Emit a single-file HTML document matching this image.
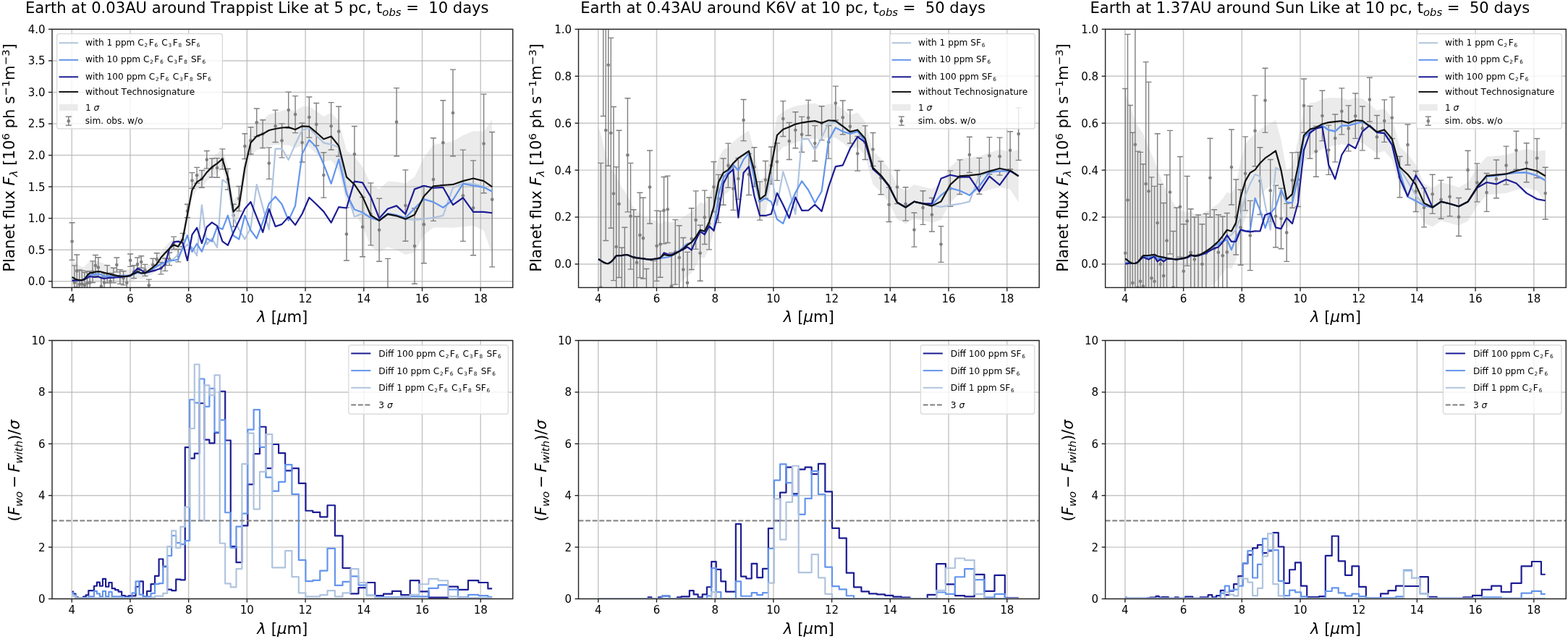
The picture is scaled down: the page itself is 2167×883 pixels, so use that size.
<!DOCTYPE html>
<html><head><meta charset="utf-8"><title>Technosignature spectra</title><style>html,body{margin:0;padding:0;background:#fff;overflow:hidden}svg{display:block;font-kerning:none}</style></head><body>
<svg width="2167" height="883" viewBox="0 0 2167 883" font-family="'DejaVu Sans', 'Liberation Sans', sans-serif" fill="#000">
<rect width="2167" height="883" fill="#fff"/>
<clipPath id="b0"><rect x="72.0" y="40.4" width="636.7" height="357.0"/></clipPath>
<polygon clip-path="url(#b0)" points="99.58,357.07 102.89,361.43 106.27,364.03 109.71,366.97 113.23,368.92 116.81,368.38 120.47,364.31 124.20,361.39 128.01,362.03 131.89,361.20 135.85,361.52 139.89,362.63 144.01,364.28 148.22,365.56 152.51,367.52 156.88,369.82 161.35,371.01 165.90,371.68 170.54,372.24 175.28,372.24 180.12,371.67 185.05,369.37 190.08,366.36 195.21,369.19 200.44,369.45 205.78,365.54 211.23,360.80 216.79,356.22 222.46,347.86 228.24,340.80 234.14,334.71 240.16,329.66 246.30,332.01 252.56,320.95 258.95,287.43 265.47,251.90 272.12,240.67 278.91,235.53 285.83,225.95 292.89,218.03 300.09,212.54 307.44,205.75 314.94,231.00 322.58,277.15 330.38,267.31 338.34,214.55 346.46,178.50 354.74,168.83 363.19,165.79 371.81,158.21 380.61,155.77 389.58,152.99 398.73,150.98 408.07,153.51 417.59,147.33 427.31,146.89 437.22,153.60 447.33,161.08 457.65,155.68 468.17,167.09 478.91,208.02 489.86,216.29 501.04,230.48 512.44,254.51 524.07,261.39 535.93,250.59 548.04,251.29 560.38,253.56 572.98,244.41 585.83,217.68 598.94,200.01 612.32,197.65 625.96,195.13 639.88,187.03 654.08,181.02 668.57,181.81 680.13,164.91 680.13,351.25 668.57,318.51 654.08,311.98 639.88,313.29 625.96,314.77 612.32,314.33 598.94,314.59 585.83,324.78 572.98,348.90 560.38,351.95 548.04,345.33 535.93,341.15 524.07,348.46 512.44,340.54 501.04,312.68 489.86,293.61 478.91,281.16 468.17,235.88 457.65,221.16 447.33,223.43 437.22,212.46 427.31,202.97 417.59,201.31 408.07,204.53 398.73,200.79 389.58,200.01 380.61,200.18 371.81,201.75 363.19,204.45 354.74,207.49 346.46,215.77 338.34,249.38 330.38,301.45 322.58,307.98 314.94,259.74 307.44,233.62 300.09,239.19 292.89,243.98 285.83,250.33 278.91,259.21 272.12,262.44 265.47,273.67 258.95,305.89 252.56,339.41 246.30,349.42 240.16,347.07 234.14,352.12 228.24,358.22 222.46,364.23 216.79,373.12 211.23,378.21 205.78,381.74 200.44,385.47 195.21,385.73 190.08,384.65 185.05,387.13 180.12,389.09 175.28,391.39 170.54,391.39 165.90,391.35 161.35,390.86 156.88,390.37 152.51,390.16 148.22,389.94 144.01,389.53 139.89,388.75 135.85,388.86 131.89,389.93 128.01,391.63 124.20,392.73 120.47,397.40 116.81,403.21 113.23,405.49 109.71,407.02 106.27,408.79 102.89,408.45 99.58,408.62" fill="#ebebeb" stroke="none"/>
<clipPath id="c00"><rect x="72.0" y="40.4" width="636.7" height="357.0"/></clipPath>
<line x1="99.25" y1="40.4" x2="99.25" y2="397.4" stroke="#b0b0b0" stroke-opacity="0.72" stroke-width="1.45"/>
<line x1="179.96" y1="40.4" x2="179.96" y2="397.4" stroke="#b0b0b0" stroke-opacity="0.72" stroke-width="1.45"/>
<line x1="260.66" y1="40.4" x2="260.66" y2="397.4" stroke="#b0b0b0" stroke-opacity="0.72" stroke-width="1.45"/>
<line x1="341.37" y1="40.4" x2="341.37" y2="397.4" stroke="#b0b0b0" stroke-opacity="0.72" stroke-width="1.45"/>
<line x1="422.08" y1="40.4" x2="422.08" y2="397.4" stroke="#b0b0b0" stroke-opacity="0.72" stroke-width="1.45"/>
<line x1="502.78" y1="40.4" x2="502.78" y2="397.4" stroke="#b0b0b0" stroke-opacity="0.72" stroke-width="1.45"/>
<line x1="583.49" y1="40.4" x2="583.49" y2="397.4" stroke="#b0b0b0" stroke-opacity="0.72" stroke-width="1.45"/>
<line x1="664.20" y1="40.4" x2="664.20" y2="397.4" stroke="#b0b0b0" stroke-opacity="0.72" stroke-width="1.45"/>
<line x1="72.0" y1="388.69" x2="708.7" y2="388.69" stroke="#b0b0b0" stroke-opacity="0.72" stroke-width="1.45"/>
<line x1="72.0" y1="345.16" x2="708.7" y2="345.16" stroke="#b0b0b0" stroke-opacity="0.72" stroke-width="1.45"/>
<line x1="72.0" y1="301.62" x2="708.7" y2="301.62" stroke="#b0b0b0" stroke-opacity="0.72" stroke-width="1.45"/>
<line x1="72.0" y1="258.08" x2="708.7" y2="258.08" stroke="#b0b0b0" stroke-opacity="0.72" stroke-width="1.45"/>
<line x1="72.0" y1="214.55" x2="708.7" y2="214.55" stroke="#b0b0b0" stroke-opacity="0.72" stroke-width="1.45"/>
<line x1="72.0" y1="171.01" x2="708.7" y2="171.01" stroke="#b0b0b0" stroke-opacity="0.72" stroke-width="1.45"/>
<line x1="72.0" y1="127.47" x2="708.7" y2="127.47" stroke="#b0b0b0" stroke-opacity="0.72" stroke-width="1.45"/>
<line x1="72.0" y1="83.94" x2="708.7" y2="83.94" stroke="#b0b0b0" stroke-opacity="0.72" stroke-width="1.45"/>
<line x1="72.0" y1="40.40" x2="708.7" y2="40.40" stroke="#b0b0b0" stroke-opacity="0.72" stroke-width="1.45"/>
<g clip-path="url(#c00)">
<line x1="99.58" y1="359.35" x2="99.58" y2="307.80" stroke="#7f7f7f" stroke-width="1.4"/>
<line x1="95.58" y1="359.35" x2="103.58" y2="359.35" stroke="#7f7f7f" stroke-width="1.4"/>
<line x1="95.58" y1="307.80" x2="103.58" y2="307.80" stroke="#7f7f7f" stroke-width="1.4"/>
<circle cx="99.58" cy="333.58" r="2.3" fill="#7f7f7f"/>
<line x1="102.89" y1="413.94" x2="102.89" y2="366.92" stroke="#7f7f7f" stroke-width="1.4"/>
<line x1="98.89" y1="413.94" x2="106.89" y2="413.94" stroke="#7f7f7f" stroke-width="1.4"/>
<line x1="98.89" y1="366.92" x2="106.89" y2="366.92" stroke="#7f7f7f" stroke-width="1.4"/>
<circle cx="102.89" cy="390.43" r="2.3" fill="#7f7f7f"/>
<line x1="106.27" y1="396.79" x2="106.27" y2="352.03" stroke="#7f7f7f" stroke-width="1.4"/>
<line x1="102.27" y1="396.79" x2="110.27" y2="396.79" stroke="#7f7f7f" stroke-width="1.4"/>
<line x1="102.27" y1="352.03" x2="110.27" y2="352.03" stroke="#7f7f7f" stroke-width="1.4"/>
<circle cx="106.27" cy="374.41" r="2.3" fill="#7f7f7f"/>
<line x1="109.71" y1="413.07" x2="109.71" y2="373.02" stroke="#7f7f7f" stroke-width="1.4"/>
<line x1="105.71" y1="413.07" x2="113.71" y2="413.07" stroke="#7f7f7f" stroke-width="1.4"/>
<line x1="105.71" y1="373.02" x2="113.71" y2="373.02" stroke="#7f7f7f" stroke-width="1.4"/>
<circle cx="109.71" cy="393.05" r="2.3" fill="#7f7f7f"/>
<line x1="113.23" y1="410.46" x2="113.23" y2="373.89" stroke="#7f7f7f" stroke-width="1.4"/>
<line x1="109.23" y1="410.46" x2="117.23" y2="410.46" stroke="#7f7f7f" stroke-width="1.4"/>
<line x1="109.23" y1="373.89" x2="117.23" y2="373.89" stroke="#7f7f7f" stroke-width="1.4"/>
<circle cx="113.23" cy="392.18" r="2.3" fill="#7f7f7f"/>
<line x1="116.81" y1="411.33" x2="116.81" y2="376.50" stroke="#7f7f7f" stroke-width="1.4"/>
<line x1="112.81" y1="411.33" x2="120.81" y2="411.33" stroke="#7f7f7f" stroke-width="1.4"/>
<line x1="112.81" y1="376.50" x2="120.81" y2="376.50" stroke="#7f7f7f" stroke-width="1.4"/>
<circle cx="116.81" cy="393.92" r="2.3" fill="#7f7f7f"/>
<line x1="120.47" y1="407.85" x2="120.47" y2="374.76" stroke="#7f7f7f" stroke-width="1.4"/>
<line x1="116.47" y1="407.85" x2="124.47" y2="407.85" stroke="#7f7f7f" stroke-width="1.4"/>
<line x1="116.47" y1="374.76" x2="124.47" y2="374.76" stroke="#7f7f7f" stroke-width="1.4"/>
<circle cx="120.47" cy="391.30" r="2.3" fill="#7f7f7f"/>
<line x1="124.20" y1="406.11" x2="124.20" y2="374.76" stroke="#7f7f7f" stroke-width="1.4"/>
<line x1="120.20" y1="406.11" x2="128.20" y2="406.11" stroke="#7f7f7f" stroke-width="1.4"/>
<line x1="120.20" y1="374.76" x2="128.20" y2="374.76" stroke="#7f7f7f" stroke-width="1.4"/>
<circle cx="124.20" cy="390.43" r="2.3" fill="#7f7f7f"/>
<line x1="128.01" y1="390.43" x2="128.01" y2="360.83" stroke="#7f7f7f" stroke-width="1.4"/>
<line x1="124.01" y1="390.43" x2="132.01" y2="390.43" stroke="#7f7f7f" stroke-width="1.4"/>
<line x1="124.01" y1="360.83" x2="132.01" y2="360.83" stroke="#7f7f7f" stroke-width="1.4"/>
<circle cx="128.01" cy="375.63" r="2.3" fill="#7f7f7f"/>
<line x1="131.89" y1="381.29" x2="131.89" y2="352.56" stroke="#7f7f7f" stroke-width="1.4"/>
<line x1="127.89" y1="381.29" x2="135.89" y2="381.29" stroke="#7f7f7f" stroke-width="1.4"/>
<line x1="127.89" y1="352.56" x2="135.89" y2="352.56" stroke="#7f7f7f" stroke-width="1.4"/>
<circle cx="131.89" cy="366.92" r="2.3" fill="#7f7f7f"/>
<line x1="135.85" y1="383.12" x2="135.85" y2="355.78" stroke="#7f7f7f" stroke-width="1.4"/>
<line x1="131.85" y1="383.12" x2="139.85" y2="383.12" stroke="#7f7f7f" stroke-width="1.4"/>
<line x1="131.85" y1="355.78" x2="139.85" y2="355.78" stroke="#7f7f7f" stroke-width="1.4"/>
<circle cx="135.85" cy="369.45" r="2.3" fill="#7f7f7f"/>
<line x1="139.89" y1="408.72" x2="139.89" y2="382.60" stroke="#7f7f7f" stroke-width="1.4"/>
<line x1="135.89" y1="408.72" x2="143.89" y2="408.72" stroke="#7f7f7f" stroke-width="1.4"/>
<line x1="135.89" y1="382.60" x2="143.89" y2="382.60" stroke="#7f7f7f" stroke-width="1.4"/>
<circle cx="139.89" cy="395.66" r="2.3" fill="#7f7f7f"/>
<line x1="144.01" y1="403.15" x2="144.01" y2="377.90" stroke="#7f7f7f" stroke-width="1.4"/>
<line x1="140.01" y1="403.15" x2="148.01" y2="403.15" stroke="#7f7f7f" stroke-width="1.4"/>
<line x1="140.01" y1="377.90" x2="148.01" y2="377.90" stroke="#7f7f7f" stroke-width="1.4"/>
<circle cx="144.01" cy="390.52" r="2.3" fill="#7f7f7f"/>
<line x1="148.22" y1="390.96" x2="148.22" y2="366.58" stroke="#7f7f7f" stroke-width="1.4"/>
<line x1="144.22" y1="390.96" x2="152.22" y2="390.96" stroke="#7f7f7f" stroke-width="1.4"/>
<line x1="144.22" y1="366.58" x2="152.22" y2="366.58" stroke="#7f7f7f" stroke-width="1.4"/>
<circle cx="148.22" cy="378.77" r="2.3" fill="#7f7f7f"/>
<line x1="152.51" y1="400.01" x2="152.51" y2="377.37" stroke="#7f7f7f" stroke-width="1.4"/>
<line x1="148.51" y1="400.01" x2="156.51" y2="400.01" stroke="#7f7f7f" stroke-width="1.4"/>
<line x1="148.51" y1="377.37" x2="156.51" y2="377.37" stroke="#7f7f7f" stroke-width="1.4"/>
<circle cx="152.51" cy="388.69" r="2.3" fill="#7f7f7f"/>
<line x1="156.88" y1="390.87" x2="156.88" y2="370.32" stroke="#7f7f7f" stroke-width="1.4"/>
<line x1="152.88" y1="390.87" x2="160.88" y2="390.87" stroke="#7f7f7f" stroke-width="1.4"/>
<line x1="152.88" y1="370.32" x2="160.88" y2="370.32" stroke="#7f7f7f" stroke-width="1.4"/>
<circle cx="156.88" cy="380.59" r="2.3" fill="#7f7f7f"/>
<line x1="161.35" y1="375.89" x2="161.35" y2="356.04" stroke="#7f7f7f" stroke-width="1.4"/>
<line x1="157.35" y1="375.89" x2="165.35" y2="375.89" stroke="#7f7f7f" stroke-width="1.4"/>
<line x1="157.35" y1="356.04" x2="165.35" y2="356.04" stroke="#7f7f7f" stroke-width="1.4"/>
<circle cx="161.35" cy="365.97" r="2.3" fill="#7f7f7f"/>
<line x1="165.90" y1="392.35" x2="165.90" y2="372.67" stroke="#7f7f7f" stroke-width="1.4"/>
<line x1="161.90" y1="392.35" x2="169.90" y2="392.35" stroke="#7f7f7f" stroke-width="1.4"/>
<line x1="161.90" y1="372.67" x2="169.90" y2="372.67" stroke="#7f7f7f" stroke-width="1.4"/>
<circle cx="165.90" cy="382.51" r="2.3" fill="#7f7f7f"/>
<line x1="170.54" y1="393.92" x2="170.54" y2="374.76" stroke="#7f7f7f" stroke-width="1.4"/>
<line x1="166.54" y1="393.92" x2="174.54" y2="393.92" stroke="#7f7f7f" stroke-width="1.4"/>
<line x1="166.54" y1="374.76" x2="174.54" y2="374.76" stroke="#7f7f7f" stroke-width="1.4"/>
<circle cx="170.54" cy="384.34" r="2.3" fill="#7f7f7f"/>
<line x1="175.28" y1="400.36" x2="175.28" y2="381.20" stroke="#7f7f7f" stroke-width="1.4"/>
<line x1="171.28" y1="400.36" x2="179.28" y2="400.36" stroke="#7f7f7f" stroke-width="1.4"/>
<line x1="171.28" y1="381.20" x2="179.28" y2="381.20" stroke="#7f7f7f" stroke-width="1.4"/>
<circle cx="175.28" cy="390.78" r="2.3" fill="#7f7f7f"/>
<line x1="180.12" y1="368.40" x2="180.12" y2="350.99" stroke="#7f7f7f" stroke-width="1.4"/>
<line x1="176.12" y1="368.40" x2="184.12" y2="368.40" stroke="#7f7f7f" stroke-width="1.4"/>
<line x1="176.12" y1="350.99" x2="184.12" y2="350.99" stroke="#7f7f7f" stroke-width="1.4"/>
<circle cx="180.12" cy="359.70" r="2.3" fill="#7f7f7f"/>
<line x1="185.05" y1="384.51" x2="185.05" y2="366.75" stroke="#7f7f7f" stroke-width="1.4"/>
<line x1="181.05" y1="384.51" x2="189.05" y2="384.51" stroke="#7f7f7f" stroke-width="1.4"/>
<line x1="181.05" y1="366.75" x2="189.05" y2="366.75" stroke="#7f7f7f" stroke-width="1.4"/>
<circle cx="185.05" cy="375.63" r="2.3" fill="#7f7f7f"/>
<line x1="190.08" y1="374.24" x2="190.08" y2="355.95" stroke="#7f7f7f" stroke-width="1.4"/>
<line x1="186.08" y1="374.24" x2="194.08" y2="374.24" stroke="#7f7f7f" stroke-width="1.4"/>
<line x1="186.08" y1="355.95" x2="194.08" y2="355.95" stroke="#7f7f7f" stroke-width="1.4"/>
<circle cx="190.08" cy="365.10" r="2.3" fill="#7f7f7f"/>
<line x1="195.21" y1="370.23" x2="195.21" y2="353.69" stroke="#7f7f7f" stroke-width="1.4"/>
<line x1="191.21" y1="370.23" x2="199.21" y2="370.23" stroke="#7f7f7f" stroke-width="1.4"/>
<line x1="191.21" y1="353.69" x2="199.21" y2="353.69" stroke="#7f7f7f" stroke-width="1.4"/>
<circle cx="195.21" cy="361.96" r="2.3" fill="#7f7f7f"/>
<line x1="200.44" y1="381.38" x2="200.44" y2="365.36" stroke="#7f7f7f" stroke-width="1.4"/>
<line x1="196.44" y1="381.38" x2="204.44" y2="381.38" stroke="#7f7f7f" stroke-width="1.4"/>
<line x1="196.44" y1="365.36" x2="204.44" y2="365.36" stroke="#7f7f7f" stroke-width="1.4"/>
<circle cx="200.44" cy="373.37" r="2.3" fill="#7f7f7f"/>
<line x1="205.78" y1="402.36" x2="205.78" y2="386.17" stroke="#7f7f7f" stroke-width="1.4"/>
<line x1="201.78" y1="402.36" x2="209.78" y2="402.36" stroke="#7f7f7f" stroke-width="1.4"/>
<line x1="201.78" y1="386.17" x2="209.78" y2="386.17" stroke="#7f7f7f" stroke-width="1.4"/>
<circle cx="205.78" cy="394.27" r="2.3" fill="#7f7f7f"/>
<line x1="211.23" y1="374.67" x2="211.23" y2="357.26" stroke="#7f7f7f" stroke-width="1.4"/>
<line x1="207.23" y1="374.67" x2="215.23" y2="374.67" stroke="#7f7f7f" stroke-width="1.4"/>
<line x1="207.23" y1="357.26" x2="215.23" y2="357.26" stroke="#7f7f7f" stroke-width="1.4"/>
<circle cx="211.23" cy="365.97" r="2.3" fill="#7f7f7f"/>
<line x1="216.79" y1="366.66" x2="216.79" y2="349.77" stroke="#7f7f7f" stroke-width="1.4"/>
<line x1="212.79" y1="366.66" x2="220.79" y2="366.66" stroke="#7f7f7f" stroke-width="1.4"/>
<line x1="212.79" y1="349.77" x2="220.79" y2="349.77" stroke="#7f7f7f" stroke-width="1.4"/>
<circle cx="216.79" cy="358.22" r="2.3" fill="#7f7f7f"/>
<line x1="222.46" y1="378.85" x2="222.46" y2="362.48" stroke="#7f7f7f" stroke-width="1.4"/>
<line x1="218.46" y1="378.85" x2="226.46" y2="378.85" stroke="#7f7f7f" stroke-width="1.4"/>
<line x1="218.46" y1="362.48" x2="226.46" y2="362.48" stroke="#7f7f7f" stroke-width="1.4"/>
<circle cx="222.46" cy="370.67" r="2.3" fill="#7f7f7f"/>
<line x1="228.24" y1="374.41" x2="228.24" y2="357.00" stroke="#7f7f7f" stroke-width="1.4"/>
<line x1="224.24" y1="374.41" x2="232.24" y2="374.41" stroke="#7f7f7f" stroke-width="1.4"/>
<line x1="224.24" y1="357.00" x2="232.24" y2="357.00" stroke="#7f7f7f" stroke-width="1.4"/>
<circle cx="228.24" cy="365.71" r="2.3" fill="#7f7f7f"/>
<line x1="234.14" y1="366.66" x2="234.14" y2="349.25" stroke="#7f7f7f" stroke-width="1.4"/>
<line x1="230.14" y1="366.66" x2="238.14" y2="366.66" stroke="#7f7f7f" stroke-width="1.4"/>
<line x1="230.14" y1="349.25" x2="238.14" y2="349.25" stroke="#7f7f7f" stroke-width="1.4"/>
<circle cx="234.14" cy="357.96" r="2.3" fill="#7f7f7f"/>
<line x1="240.16" y1="344.55" x2="240.16" y2="327.13" stroke="#7f7f7f" stroke-width="1.4"/>
<line x1="236.16" y1="344.55" x2="244.16" y2="344.55" stroke="#7f7f7f" stroke-width="1.4"/>
<line x1="236.16" y1="327.13" x2="244.16" y2="327.13" stroke="#7f7f7f" stroke-width="1.4"/>
<circle cx="240.16" cy="335.84" r="2.3" fill="#7f7f7f"/>
<line x1="246.30" y1="361.87" x2="246.30" y2="344.46" stroke="#7f7f7f" stroke-width="1.4"/>
<line x1="242.30" y1="361.87" x2="250.30" y2="361.87" stroke="#7f7f7f" stroke-width="1.4"/>
<line x1="242.30" y1="344.46" x2="250.30" y2="344.46" stroke="#7f7f7f" stroke-width="1.4"/>
<circle cx="246.30" cy="353.17" r="2.3" fill="#7f7f7f"/>
<line x1="252.56" y1="340.80" x2="252.56" y2="322.34" stroke="#7f7f7f" stroke-width="1.4"/>
<line x1="248.56" y1="340.80" x2="256.56" y2="340.80" stroke="#7f7f7f" stroke-width="1.4"/>
<line x1="248.56" y1="322.34" x2="256.56" y2="322.34" stroke="#7f7f7f" stroke-width="1.4"/>
<circle cx="252.56" cy="331.57" r="2.3" fill="#7f7f7f"/>
<line x1="258.95" y1="300.75" x2="258.95" y2="282.29" stroke="#7f7f7f" stroke-width="1.4"/>
<line x1="254.95" y1="300.75" x2="262.95" y2="300.75" stroke="#7f7f7f" stroke-width="1.4"/>
<line x1="254.95" y1="282.29" x2="262.95" y2="282.29" stroke="#7f7f7f" stroke-width="1.4"/>
<circle cx="258.95" cy="291.52" r="2.3" fill="#7f7f7f"/>
<line x1="265.47" y1="260.35" x2="265.47" y2="238.58" stroke="#7f7f7f" stroke-width="1.4"/>
<line x1="261.47" y1="260.35" x2="269.47" y2="260.35" stroke="#7f7f7f" stroke-width="1.4"/>
<line x1="261.47" y1="238.58" x2="269.47" y2="238.58" stroke="#7f7f7f" stroke-width="1.4"/>
<circle cx="265.47" cy="249.46" r="2.3" fill="#7f7f7f"/>
<line x1="272.12" y1="253.12" x2="272.12" y2="231.35" stroke="#7f7f7f" stroke-width="1.4"/>
<line x1="268.12" y1="253.12" x2="276.12" y2="253.12" stroke="#7f7f7f" stroke-width="1.4"/>
<line x1="268.12" y1="231.35" x2="276.12" y2="231.35" stroke="#7f7f7f" stroke-width="1.4"/>
<circle cx="272.12" cy="242.24" r="2.3" fill="#7f7f7f"/>
<line x1="278.91" y1="259.21" x2="278.91" y2="235.53" stroke="#7f7f7f" stroke-width="1.4"/>
<line x1="274.91" y1="259.21" x2="282.91" y2="259.21" stroke="#7f7f7f" stroke-width="1.4"/>
<line x1="274.91" y1="235.53" x2="282.91" y2="235.53" stroke="#7f7f7f" stroke-width="1.4"/>
<circle cx="278.91" cy="247.37" r="2.3" fill="#7f7f7f"/>
<line x1="285.83" y1="232.83" x2="285.83" y2="208.45" stroke="#7f7f7f" stroke-width="1.4"/>
<line x1="281.83" y1="232.83" x2="289.83" y2="232.83" stroke="#7f7f7f" stroke-width="1.4"/>
<line x1="281.83" y1="208.45" x2="289.83" y2="208.45" stroke="#7f7f7f" stroke-width="1.4"/>
<circle cx="285.83" cy="220.64" r="2.3" fill="#7f7f7f"/>
<line x1="292.89" y1="244.93" x2="292.89" y2="218.99" stroke="#7f7f7f" stroke-width="1.4"/>
<line x1="288.89" y1="244.93" x2="296.89" y2="244.93" stroke="#7f7f7f" stroke-width="1.4"/>
<line x1="288.89" y1="218.99" x2="296.89" y2="218.99" stroke="#7f7f7f" stroke-width="1.4"/>
<circle cx="292.89" cy="231.96" r="2.3" fill="#7f7f7f"/>
<line x1="300.09" y1="245.28" x2="300.09" y2="218.64" stroke="#7f7f7f" stroke-width="1.4"/>
<line x1="296.09" y1="245.28" x2="304.09" y2="245.28" stroke="#7f7f7f" stroke-width="1.4"/>
<line x1="296.09" y1="218.64" x2="304.09" y2="218.64" stroke="#7f7f7f" stroke-width="1.4"/>
<circle cx="300.09" cy="231.96" r="2.3" fill="#7f7f7f"/>
<line x1="307.44" y1="233.70" x2="307.44" y2="205.84" stroke="#7f7f7f" stroke-width="1.4"/>
<line x1="303.44" y1="233.70" x2="311.44" y2="233.70" stroke="#7f7f7f" stroke-width="1.4"/>
<line x1="303.44" y1="205.84" x2="311.44" y2="205.84" stroke="#7f7f7f" stroke-width="1.4"/>
<circle cx="307.44" cy="219.77" r="2.3" fill="#7f7f7f"/>
<line x1="314.94" y1="262.00" x2="314.94" y2="233.27" stroke="#7f7f7f" stroke-width="1.4"/>
<line x1="310.94" y1="262.00" x2="318.94" y2="262.00" stroke="#7f7f7f" stroke-width="1.4"/>
<line x1="310.94" y1="233.27" x2="318.94" y2="233.27" stroke="#7f7f7f" stroke-width="1.4"/>
<circle cx="314.94" cy="247.63" r="2.3" fill="#7f7f7f"/>
<line x1="322.58" y1="313.11" x2="322.58" y2="282.29" stroke="#7f7f7f" stroke-width="1.4"/>
<line x1="318.58" y1="313.11" x2="326.58" y2="313.11" stroke="#7f7f7f" stroke-width="1.4"/>
<line x1="318.58" y1="282.29" x2="326.58" y2="282.29" stroke="#7f7f7f" stroke-width="1.4"/>
<circle cx="322.58" cy="297.70" r="2.3" fill="#7f7f7f"/>
<line x1="330.38" y1="291.61" x2="330.38" y2="257.47" stroke="#7f7f7f" stroke-width="1.4"/>
<line x1="326.38" y1="291.61" x2="334.38" y2="291.61" stroke="#7f7f7f" stroke-width="1.4"/>
<line x1="326.38" y1="257.47" x2="334.38" y2="257.47" stroke="#7f7f7f" stroke-width="1.4"/>
<circle cx="330.38" cy="274.54" r="2.3" fill="#7f7f7f"/>
<line x1="338.34" y1="219.51" x2="338.34" y2="184.68" stroke="#7f7f7f" stroke-width="1.4"/>
<line x1="334.34" y1="219.51" x2="342.34" y2="219.51" stroke="#7f7f7f" stroke-width="1.4"/>
<line x1="334.34" y1="184.68" x2="342.34" y2="184.68" stroke="#7f7f7f" stroke-width="1.4"/>
<circle cx="338.34" cy="202.09" r="2.3" fill="#7f7f7f"/>
<line x1="346.46" y1="212.98" x2="346.46" y2="175.71" stroke="#7f7f7f" stroke-width="1.4"/>
<line x1="342.46" y1="212.98" x2="350.46" y2="212.98" stroke="#7f7f7f" stroke-width="1.4"/>
<line x1="342.46" y1="175.71" x2="350.46" y2="175.71" stroke="#7f7f7f" stroke-width="1.4"/>
<circle cx="346.46" cy="194.35" r="2.3" fill="#7f7f7f"/>
<line x1="354.74" y1="188.69" x2="354.74" y2="150.03" stroke="#7f7f7f" stroke-width="1.4"/>
<line x1="350.74" y1="188.69" x2="358.74" y2="188.69" stroke="#7f7f7f" stroke-width="1.4"/>
<line x1="350.74" y1="150.03" x2="358.74" y2="150.03" stroke="#7f7f7f" stroke-width="1.4"/>
<circle cx="354.74" cy="169.36" r="2.3" fill="#7f7f7f"/>
<line x1="363.19" y1="204.45" x2="363.19" y2="165.79" stroke="#7f7f7f" stroke-width="1.4"/>
<line x1="359.19" y1="204.45" x2="367.19" y2="204.45" stroke="#7f7f7f" stroke-width="1.4"/>
<line x1="359.19" y1="165.79" x2="367.19" y2="165.79" stroke="#7f7f7f" stroke-width="1.4"/>
<circle cx="363.19" cy="185.12" r="2.3" fill="#7f7f7f"/>
<line x1="371.81" y1="247.37" x2="371.81" y2="203.84" stroke="#7f7f7f" stroke-width="1.4"/>
<line x1="367.81" y1="247.37" x2="375.81" y2="247.37" stroke="#7f7f7f" stroke-width="1.4"/>
<line x1="367.81" y1="203.84" x2="375.81" y2="203.84" stroke="#7f7f7f" stroke-width="1.4"/>
<circle cx="371.81" cy="225.60" r="2.3" fill="#7f7f7f"/>
<line x1="380.61" y1="196.52" x2="380.61" y2="152.11" stroke="#7f7f7f" stroke-width="1.4"/>
<line x1="376.61" y1="196.52" x2="384.61" y2="196.52" stroke="#7f7f7f" stroke-width="1.4"/>
<line x1="376.61" y1="152.11" x2="384.61" y2="152.11" stroke="#7f7f7f" stroke-width="1.4"/>
<circle cx="380.61" cy="174.32" r="2.3" fill="#7f7f7f"/>
<line x1="389.58" y1="217.86" x2="389.58" y2="170.84" stroke="#7f7f7f" stroke-width="1.4"/>
<line x1="385.58" y1="217.86" x2="393.58" y2="217.86" stroke="#7f7f7f" stroke-width="1.4"/>
<line x1="385.58" y1="170.84" x2="393.58" y2="170.84" stroke="#7f7f7f" stroke-width="1.4"/>
<circle cx="389.58" cy="194.35" r="2.3" fill="#7f7f7f"/>
<line x1="398.73" y1="176.93" x2="398.73" y2="127.12" stroke="#7f7f7f" stroke-width="1.4"/>
<line x1="394.73" y1="176.93" x2="402.73" y2="176.93" stroke="#7f7f7f" stroke-width="1.4"/>
<line x1="394.73" y1="127.12" x2="402.73" y2="127.12" stroke="#7f7f7f" stroke-width="1.4"/>
<circle cx="398.73" cy="152.03" r="2.3" fill="#7f7f7f"/>
<line x1="408.07" y1="183.64" x2="408.07" y2="132.61" stroke="#7f7f7f" stroke-width="1.4"/>
<line x1="404.07" y1="183.64" x2="412.07" y2="183.64" stroke="#7f7f7f" stroke-width="1.4"/>
<line x1="404.07" y1="132.61" x2="412.07" y2="132.61" stroke="#7f7f7f" stroke-width="1.4"/>
<circle cx="408.07" cy="158.12" r="2.3" fill="#7f7f7f"/>
<line x1="417.59" y1="223.95" x2="417.59" y2="169.96" stroke="#7f7f7f" stroke-width="1.4"/>
<line x1="413.59" y1="223.95" x2="421.59" y2="223.95" stroke="#7f7f7f" stroke-width="1.4"/>
<line x1="413.59" y1="169.96" x2="421.59" y2="169.96" stroke="#7f7f7f" stroke-width="1.4"/>
<circle cx="417.59" cy="196.96" r="2.3" fill="#7f7f7f"/>
<line x1="427.31" y1="190.08" x2="427.31" y2="134.00" stroke="#7f7f7f" stroke-width="1.4"/>
<line x1="423.31" y1="190.08" x2="431.31" y2="190.08" stroke="#7f7f7f" stroke-width="1.4"/>
<line x1="423.31" y1="134.00" x2="431.31" y2="134.00" stroke="#7f7f7f" stroke-width="1.4"/>
<circle cx="427.31" cy="162.04" r="2.3" fill="#7f7f7f"/>
<line x1="437.22" y1="201.31" x2="437.22" y2="142.45" stroke="#7f7f7f" stroke-width="1.4"/>
<line x1="433.22" y1="201.31" x2="441.22" y2="201.31" stroke="#7f7f7f" stroke-width="1.4"/>
<line x1="433.22" y1="142.45" x2="441.22" y2="142.45" stroke="#7f7f7f" stroke-width="1.4"/>
<circle cx="437.22" cy="171.88" r="2.3" fill="#7f7f7f"/>
<line x1="447.33" y1="273.15" x2="447.33" y2="210.80" stroke="#7f7f7f" stroke-width="1.4"/>
<line x1="443.33" y1="273.15" x2="451.33" y2="273.15" stroke="#7f7f7f" stroke-width="1.4"/>
<line x1="443.33" y1="210.80" x2="451.33" y2="210.80" stroke="#7f7f7f" stroke-width="1.4"/>
<circle cx="447.33" cy="241.97" r="2.3" fill="#7f7f7f"/>
<line x1="457.65" y1="207.06" x2="457.65" y2="141.58" stroke="#7f7f7f" stroke-width="1.4"/>
<line x1="453.65" y1="207.06" x2="461.65" y2="207.06" stroke="#7f7f7f" stroke-width="1.4"/>
<line x1="453.65" y1="141.58" x2="461.65" y2="141.58" stroke="#7f7f7f" stroke-width="1.4"/>
<circle cx="457.65" cy="174.32" r="2.3" fill="#7f7f7f"/>
<line x1="468.17" y1="216.03" x2="468.17" y2="147.24" stroke="#7f7f7f" stroke-width="1.4"/>
<line x1="464.17" y1="216.03" x2="472.17" y2="216.03" stroke="#7f7f7f" stroke-width="1.4"/>
<line x1="464.17" y1="147.24" x2="472.17" y2="147.24" stroke="#7f7f7f" stroke-width="1.4"/>
<circle cx="468.17" cy="181.63" r="2.3" fill="#7f7f7f"/>
<line x1="478.91" y1="360.05" x2="478.91" y2="286.90" stroke="#7f7f7f" stroke-width="1.4"/>
<line x1="474.91" y1="360.05" x2="482.91" y2="360.05" stroke="#7f7f7f" stroke-width="1.4"/>
<line x1="474.91" y1="286.90" x2="482.91" y2="286.90" stroke="#7f7f7f" stroke-width="1.4"/>
<circle cx="478.91" cy="323.47" r="2.3" fill="#7f7f7f"/>
<line x1="489.86" y1="251.81" x2="489.86" y2="174.49" stroke="#7f7f7f" stroke-width="1.4"/>
<line x1="485.86" y1="251.81" x2="493.86" y2="251.81" stroke="#7f7f7f" stroke-width="1.4"/>
<line x1="485.86" y1="174.49" x2="493.86" y2="174.49" stroke="#7f7f7f" stroke-width="1.4"/>
<circle cx="489.86" cy="213.15" r="2.3" fill="#7f7f7f"/>
<line x1="501.04" y1="354.73" x2="501.04" y2="272.54" stroke="#7f7f7f" stroke-width="1.4"/>
<line x1="497.04" y1="354.73" x2="505.04" y2="354.73" stroke="#7f7f7f" stroke-width="1.4"/>
<line x1="497.04" y1="272.54" x2="505.04" y2="272.54" stroke="#7f7f7f" stroke-width="1.4"/>
<circle cx="501.04" cy="313.64" r="2.3" fill="#7f7f7f"/>
<line x1="512.44" y1="338.89" x2="512.44" y2="252.86" stroke="#7f7f7f" stroke-width="1.4"/>
<line x1="508.44" y1="338.89" x2="516.44" y2="338.89" stroke="#7f7f7f" stroke-width="1.4"/>
<line x1="508.44" y1="252.86" x2="516.44" y2="252.86" stroke="#7f7f7f" stroke-width="1.4"/>
<circle cx="512.44" cy="295.87" r="2.3" fill="#7f7f7f"/>
<line x1="524.07" y1="361.26" x2="524.07" y2="274.19" stroke="#7f7f7f" stroke-width="1.4"/>
<line x1="520.07" y1="361.26" x2="528.07" y2="361.26" stroke="#7f7f7f" stroke-width="1.4"/>
<line x1="520.07" y1="274.19" x2="528.07" y2="274.19" stroke="#7f7f7f" stroke-width="1.4"/>
<circle cx="524.07" cy="317.73" r="2.3" fill="#7f7f7f"/>
<line x1="535.93" y1="447.90" x2="535.93" y2="357.35" stroke="#7f7f7f" stroke-width="1.4"/>
<line x1="531.93" y1="447.90" x2="539.93" y2="447.90" stroke="#7f7f7f" stroke-width="1.4"/>
<line x1="531.93" y1="357.35" x2="539.93" y2="357.35" stroke="#7f7f7f" stroke-width="1.4"/>
<circle cx="535.93" cy="402.62" r="2.3" fill="#7f7f7f"/>
<line x1="548.04" y1="215.68" x2="548.04" y2="121.64" stroke="#7f7f7f" stroke-width="1.4"/>
<line x1="544.04" y1="215.68" x2="552.04" y2="215.68" stroke="#7f7f7f" stroke-width="1.4"/>
<line x1="544.04" y1="121.64" x2="552.04" y2="121.64" stroke="#7f7f7f" stroke-width="1.4"/>
<circle cx="548.04" cy="168.66" r="2.3" fill="#7f7f7f"/>
<line x1="560.38" y1="333.23" x2="560.38" y2="234.83" stroke="#7f7f7f" stroke-width="1.4"/>
<line x1="556.38" y1="333.23" x2="564.38" y2="333.23" stroke="#7f7f7f" stroke-width="1.4"/>
<line x1="556.38" y1="234.83" x2="564.38" y2="234.83" stroke="#7f7f7f" stroke-width="1.4"/>
<circle cx="560.38" cy="284.03" r="2.3" fill="#7f7f7f"/>
<line x1="572.98" y1="392.18" x2="572.98" y2="287.69" stroke="#7f7f7f" stroke-width="1.4"/>
<line x1="568.98" y1="392.18" x2="576.98" y2="392.18" stroke="#7f7f7f" stroke-width="1.4"/>
<line x1="568.98" y1="287.69" x2="576.98" y2="287.69" stroke="#7f7f7f" stroke-width="1.4"/>
<circle cx="572.98" cy="339.93" r="2.3" fill="#7f7f7f"/>
<line x1="585.83" y1="363.70" x2="585.83" y2="256.60" stroke="#7f7f7f" stroke-width="1.4"/>
<line x1="581.83" y1="363.70" x2="589.83" y2="363.70" stroke="#7f7f7f" stroke-width="1.4"/>
<line x1="581.83" y1="256.60" x2="589.83" y2="256.60" stroke="#7f7f7f" stroke-width="1.4"/>
<circle cx="585.83" cy="310.15" r="2.3" fill="#7f7f7f"/>
<line x1="598.94" y1="305.36" x2="598.94" y2="190.78" stroke="#7f7f7f" stroke-width="1.4"/>
<line x1="594.94" y1="305.36" x2="602.94" y2="305.36" stroke="#7f7f7f" stroke-width="1.4"/>
<line x1="594.94" y1="190.78" x2="602.94" y2="190.78" stroke="#7f7f7f" stroke-width="1.4"/>
<circle cx="598.94" cy="248.07" r="2.3" fill="#7f7f7f"/>
<line x1="612.32" y1="255.47" x2="612.32" y2="138.79" stroke="#7f7f7f" stroke-width="1.4"/>
<line x1="608.32" y1="255.47" x2="616.32" y2="255.47" stroke="#7f7f7f" stroke-width="1.4"/>
<line x1="608.32" y1="138.79" x2="616.32" y2="138.79" stroke="#7f7f7f" stroke-width="1.4"/>
<circle cx="612.32" cy="197.13" r="2.3" fill="#7f7f7f"/>
<line x1="625.96" y1="215.77" x2="625.96" y2="96.13" stroke="#7f7f7f" stroke-width="1.4"/>
<line x1="621.96" y1="215.77" x2="629.96" y2="215.77" stroke="#7f7f7f" stroke-width="1.4"/>
<line x1="621.96" y1="96.13" x2="629.96" y2="96.13" stroke="#7f7f7f" stroke-width="1.4"/>
<circle cx="625.96" cy="155.95" r="2.3" fill="#7f7f7f"/>
<line x1="639.88" y1="333.40" x2="639.88" y2="207.15" stroke="#7f7f7f" stroke-width="1.4"/>
<line x1="635.88" y1="333.40" x2="643.88" y2="333.40" stroke="#7f7f7f" stroke-width="1.4"/>
<line x1="635.88" y1="207.15" x2="643.88" y2="207.15" stroke="#7f7f7f" stroke-width="1.4"/>
<circle cx="639.88" cy="270.27" r="2.3" fill="#7f7f7f"/>
<line x1="654.08" y1="352.82" x2="654.08" y2="221.86" stroke="#7f7f7f" stroke-width="1.4"/>
<line x1="650.08" y1="352.82" x2="658.08" y2="352.82" stroke="#7f7f7f" stroke-width="1.4"/>
<line x1="650.08" y1="221.86" x2="658.08" y2="221.86" stroke="#7f7f7f" stroke-width="1.4"/>
<circle cx="654.08" cy="287.34" r="2.3" fill="#7f7f7f"/>
<line x1="668.57" y1="266.79" x2="668.57" y2="130.09" stroke="#7f7f7f" stroke-width="1.4"/>
<line x1="664.57" y1="266.79" x2="672.57" y2="266.79" stroke="#7f7f7f" stroke-width="1.4"/>
<line x1="664.57" y1="130.09" x2="672.57" y2="130.09" stroke="#7f7f7f" stroke-width="1.4"/>
<circle cx="668.57" cy="198.44" r="2.3" fill="#7f7f7f"/>
<line x1="680.13" y1="368.84" x2="680.13" y2="182.50" stroke="#7f7f7f" stroke-width="1.4"/>
<line x1="676.13" y1="368.84" x2="684.13" y2="368.84" stroke="#7f7f7f" stroke-width="1.4"/>
<line x1="676.13" y1="182.50" x2="684.13" y2="182.50" stroke="#7f7f7f" stroke-width="1.4"/>
<circle cx="680.13" cy="275.67" r="2.3" fill="#7f7f7f"/>
<polyline points="99.58,387.01 102.89,387.13 106.27,387.25 109.71,387.37 113.23,387.01 116.81,384.62 120.47,382.17 124.20,380.29 128.01,379.83 131.89,379.37 135.85,378.90 139.89,379.79 144.01,381.72 148.22,381.62 152.51,381.52 156.88,381.42 161.35,381.32 165.90,381.22 170.54,381.11 175.28,381.00 180.12,380.89 185.05,378.81 190.08,376.58 195.21,377.03 200.44,376.75 205.78,374.00 211.23,371.18 216.79,368.31 222.46,366.04 228.24,364.31 234.14,362.40 240.16,357.35 246.30,352.12 252.56,345.16 258.95,337.75 265.47,341.85 272.12,353.17 278.91,283.33 285.83,337.75 292.89,329.57 300.09,341.85 307.44,248.42 314.94,253.56 322.58,300.75 330.38,317.29 338.34,330.61 346.46,315.20 354.74,255.04 363.19,286.38 371.81,317.12 380.61,205.58 389.58,205.58 398.73,220.90 408.07,199.40 417.59,179.63 427.31,176.93 437.22,187.12 447.33,197.39 457.65,199.57 468.17,203.49 478.91,263.83 489.86,299.44 501.04,295.09 512.44,301.10 524.07,304.93 535.93,296.66 548.04,298.31 560.38,302.75 572.98,303.80 585.83,302.40 598.94,300.84 612.32,297.88 625.96,259.39 639.88,253.29 654.08,253.73 668.57,258.08 680.13,265.05" fill="none" stroke="#b0c4de" stroke-width="2.2" stroke-linejoin="round" stroke-linecap="butt" />
<polyline points="99.58,386.93 102.89,387.07 106.27,387.21 109.71,387.36 113.23,386.99 116.81,384.44 120.47,381.84 124.20,379.85 128.01,379.37 131.89,378.88 135.85,378.39 139.89,379.49 144.01,381.81 148.22,381.67 152.51,381.53 156.88,381.39 161.35,381.24 165.90,381.10 170.54,380.95 175.28,380.79 180.12,380.64 185.05,378.83 190.08,376.97 195.21,377.64 200.44,377.50 205.78,374.60 211.23,371.63 216.79,368.00 222.46,364.55 228.24,362.57 234.14,359.96 240.16,359.96 246.30,358.30 252.56,341.85 258.95,325.04 265.47,348.03 272.12,336.71 278.91,347.59 285.83,329.57 292.89,333.66 300.09,313.55 307.44,316.86 314.94,297.70 322.58,325.48 330.38,330.61 338.34,297.70 346.46,318.16 354.74,329.48 363.19,306.84 371.81,281.33 380.61,271.67 389.58,282.29 398.73,304.67 408.07,284.20 417.59,212.72 427.31,193.30 437.22,203.49 447.33,227.00 457.65,253.90 468.17,220.03 478.91,267.66 489.86,289.43 501.04,293.43 512.44,301.10 524.07,304.06 535.93,295.09 548.04,297.18 560.38,301.10 572.98,287.69 585.83,275.32 598.94,279.15 612.32,286.82 625.96,276.19 639.88,253.90 654.08,256.52 668.57,258.87 680.13,264.44" fill="none" stroke="#6495ed" stroke-width="2.2" stroke-linejoin="round" stroke-linecap="butt" />
<polyline points="99.58,387.96 102.89,387.71 106.27,387.47 109.71,387.47 113.23,387.26 116.81,386.13 120.47,384.01 124.20,381.99 128.01,382.61 131.89,382.98 135.85,382.18 139.89,384.09 144.01,384.88 148.22,384.22 152.51,383.96 156.88,383.67 161.35,383.24 165.90,382.80 170.54,382.34 175.28,381.84 180.12,381.34 185.05,376.25 190.08,370.91 195.21,373.19 200.44,377.16 205.78,375.82 211.23,374.33 216.79,372.78 222.46,370.83 228.24,365.18 234.14,343.76 240.16,334.27 246.30,333.58 252.56,335.58 258.95,359.96 265.47,324.43 272.12,314.77 278.91,336.10 285.83,313.55 292.89,307.37 300.09,312.07 307.44,333.66 314.94,338.80 322.58,321.30 330.38,304.93 338.34,288.56 346.46,278.98 354.74,299.88 363.19,320.95 371.81,288.91 380.61,312.94 389.58,309.89 398.73,299.62 408.07,310.85 417.59,295.52 427.31,272.97 437.22,282.20 447.33,292.39 457.65,307.71 468.17,286.12 478.91,287.51 489.86,250.51 501.04,252.42 512.44,272.01 524.07,301.62 535.93,288.47 548.04,284.38 560.38,295.87 572.98,261.39 585.83,256.78 598.94,259.74 612.32,258.95 625.96,283.07 639.88,273.23 654.08,292.91 668.57,292.91 680.13,294.22" fill="none" stroke="#1c1c94" stroke-width="2.2" stroke-linejoin="round" stroke-linecap="butt" />
<polyline points="99.58,382.85 102.89,384.94 106.27,386.41 109.71,386.99 113.23,387.20 116.81,385.79 120.47,380.86 124.20,377.06 128.01,376.83 131.89,375.57 135.85,375.19 139.89,375.69 144.01,376.90 148.22,377.75 152.51,378.84 156.88,380.09 161.35,380.93 165.90,381.52 170.54,381.81 175.28,381.81 180.12,380.38 185.05,378.25 190.08,375.50 195.21,377.46 200.44,377.46 205.78,373.64 211.23,369.50 216.79,364.67 222.46,356.04 228.24,349.51 234.14,343.41 240.16,338.36 246.30,340.72 252.56,330.18 258.95,296.66 265.47,262.78 272.12,251.55 278.91,247.37 285.83,238.14 292.89,231.00 300.09,225.87 307.44,219.68 314.94,245.37 322.58,292.56 330.38,284.38 338.34,231.96 346.46,197.13 354.74,188.16 363.19,185.12 371.81,179.98 380.61,177.98 389.58,176.50 398.73,175.89 408.07,179.02 417.59,174.32 427.31,174.93 437.22,183.03 447.33,192.26 457.65,188.42 468.17,201.49 478.91,244.59 489.86,254.95 501.04,271.58 512.44,297.53 524.07,304.93 535.93,295.87 548.04,298.31 560.38,302.75 572.98,296.66 585.83,271.23 598.94,257.30 612.32,255.99 625.96,254.95 639.88,250.16 654.08,246.50 668.57,250.16 680.13,258.08" fill="none" stroke="#111111" stroke-width="2.2" stroke-linejoin="round" stroke-linecap="butt" />
</g>
<rect x="72.0" y="40.4" width="636.7" height="357.0" fill="none" stroke="#222" stroke-width="1.4"/>
<line x1="99.25" y1="397.4" x2="99.25" y2="402.4" stroke="#222" stroke-width="1.4"/>
<text x="99.25" y="418.10" font-size="15" text-anchor="middle">4</text>
<line x1="179.96" y1="397.4" x2="179.96" y2="402.4" stroke="#222" stroke-width="1.4"/>
<text x="179.96" y="418.10" font-size="15" text-anchor="middle">6</text>
<line x1="260.66" y1="397.4" x2="260.66" y2="402.4" stroke="#222" stroke-width="1.4"/>
<text x="260.66" y="418.10" font-size="15" text-anchor="middle">8</text>
<line x1="341.37" y1="397.4" x2="341.37" y2="402.4" stroke="#222" stroke-width="1.4"/>
<text x="341.37" y="418.10" font-size="15" text-anchor="middle">10</text>
<line x1="422.08" y1="397.4" x2="422.08" y2="402.4" stroke="#222" stroke-width="1.4"/>
<text x="422.08" y="418.10" font-size="15" text-anchor="middle">12</text>
<line x1="502.78" y1="397.4" x2="502.78" y2="402.4" stroke="#222" stroke-width="1.4"/>
<text x="502.78" y="418.10" font-size="15" text-anchor="middle">14</text>
<line x1="583.49" y1="397.4" x2="583.49" y2="402.4" stroke="#222" stroke-width="1.4"/>
<text x="583.49" y="418.10" font-size="15" text-anchor="middle">16</text>
<line x1="664.20" y1="397.4" x2="664.20" y2="402.4" stroke="#222" stroke-width="1.4"/>
<text x="664.20" y="418.10" font-size="15" text-anchor="middle">18</text>
<line x1="67.0" y1="388.69" x2="72.0" y2="388.69" stroke="#222" stroke-width="1.4"/>
<text x="62.50" y="394.14" font-size="15" text-anchor="end">0.0</text>
<line x1="67.0" y1="345.16" x2="72.0" y2="345.16" stroke="#222" stroke-width="1.4"/>
<text x="62.50" y="350.61" font-size="15" text-anchor="end">0.5</text>
<line x1="67.0" y1="301.62" x2="72.0" y2="301.62" stroke="#222" stroke-width="1.4"/>
<text x="62.50" y="307.07" font-size="15" text-anchor="end">1.0</text>
<line x1="67.0" y1="258.08" x2="72.0" y2="258.08" stroke="#222" stroke-width="1.4"/>
<text x="62.50" y="263.53" font-size="15" text-anchor="end">1.5</text>
<line x1="67.0" y1="214.55" x2="72.0" y2="214.55" stroke="#222" stroke-width="1.4"/>
<text x="62.50" y="220.00" font-size="15" text-anchor="end">2.0</text>
<line x1="67.0" y1="171.01" x2="72.0" y2="171.01" stroke="#222" stroke-width="1.4"/>
<text x="62.50" y="176.46" font-size="15" text-anchor="end">2.5</text>
<line x1="67.0" y1="127.47" x2="72.0" y2="127.47" stroke="#222" stroke-width="1.4"/>
<text x="62.50" y="132.92" font-size="15" text-anchor="end">3.0</text>
<line x1="67.0" y1="83.94" x2="72.0" y2="83.94" stroke="#222" stroke-width="1.4"/>
<text x="62.50" y="89.39" font-size="15" text-anchor="end">3.5</text>
<line x1="67.0" y1="40.40" x2="72.0" y2="40.40" stroke="#222" stroke-width="1.4"/>
<text x="62.50" y="45.85" font-size="15" text-anchor="end">4.0</text>
<text x="390.35" y="445.40" font-size="21.2" text-anchor="middle"><tspan font-style="italic">λ</tspan> [<tspan font-style="italic">μ</tspan>m]</text>
<text x="35.0" y="17.9" font-size="21.1">Earth at 0.03AU around Trappist Like at 5 pc, t<tspan font-size="0.7em" font-style="italic" baseline-shift="-0.3em">obs</tspan> =   10 days</text>
<rect x="78.70" y="46.70" width="228.70" height="131.2" rx="3" fill="#fff" fill-opacity="0.8" stroke="#d6d6d6" stroke-width="1.2"/>
<line x1="81.50" y1="59.3" x2="108.10" y2="59.3" stroke="#b0c4de" stroke-width="2.0"/>
<text x="118.00" y="62.50" font-size="12.15">with 1 ppm C<tspan font-size="0.6em" baseline-shift="-1.9" dx="0.8" letter-spacing="1.4">2</tspan>F<tspan font-size="0.6em" baseline-shift="-1.9" dx="0.8" letter-spacing="1.4">6</tspan> C<tspan font-size="0.6em" baseline-shift="-1.9" dx="0.8" letter-spacing="1.4">3</tspan>F<tspan font-size="0.6em" baseline-shift="-1.9" dx="0.8" letter-spacing="1.4">8</tspan> SF<tspan font-size="0.6em" baseline-shift="-1.9" dx="0.8" letter-spacing="1.4">6</tspan></text>
<line x1="81.50" y1="82.8" x2="108.10" y2="82.8" stroke="#6495ed" stroke-width="2.0"/>
<text x="118.00" y="86.00" font-size="12.15">with 10 ppm C<tspan font-size="0.6em" baseline-shift="-1.9" dx="0.8" letter-spacing="1.4">2</tspan>F<tspan font-size="0.6em" baseline-shift="-1.9" dx="0.8" letter-spacing="1.4">6</tspan> C<tspan font-size="0.6em" baseline-shift="-1.9" dx="0.8" letter-spacing="1.4">3</tspan>F<tspan font-size="0.6em" baseline-shift="-1.9" dx="0.8" letter-spacing="1.4">8</tspan> SF<tspan font-size="0.6em" baseline-shift="-1.9" dx="0.8" letter-spacing="1.4">6</tspan></text>
<line x1="81.50" y1="106.3" x2="108.10" y2="106.3" stroke="#1c1c94" stroke-width="2.0"/>
<text x="118.00" y="109.50" font-size="12.15">with 100 ppm C<tspan font-size="0.6em" baseline-shift="-1.9" dx="0.8" letter-spacing="1.4">2</tspan>F<tspan font-size="0.6em" baseline-shift="-1.9" dx="0.8" letter-spacing="1.4">6</tspan> C<tspan font-size="0.6em" baseline-shift="-1.9" dx="0.8" letter-spacing="1.4">3</tspan>F<tspan font-size="0.6em" baseline-shift="-1.9" dx="0.8" letter-spacing="1.4">8</tspan> SF<tspan font-size="0.6em" baseline-shift="-1.9" dx="0.8" letter-spacing="1.4">6</tspan></text>
<line x1="81.50" y1="126.9" x2="108.10" y2="126.9" stroke="#111111" stroke-width="2.0"/>
<text x="118.00" y="131.20" font-size="12.15">without Technosignature</text>
<rect x="82.00" y="144" width="25.6" height="9" fill="#ebebeb"/>
<text x="118.00" y="152.90" font-size="12.15">1 <tspan font-style="italic">σ</tspan></text>
<line x1="94.80" y1="161.2" x2="94.80" y2="173.2" stroke="#7f7f7f" stroke-width="1.4"/>
<line x1="90.80" y1="161.2" x2="98.80" y2="161.2" stroke="#7f7f7f" stroke-width="1.4"/>
<line x1="90.80" y1="173.2" x2="98.80" y2="173.2" stroke="#7f7f7f" stroke-width="1.4"/>
<circle cx="94.80" cy="167.2" r="2.3" fill="#7f7f7f"/>
<text x="117.70" y="171.10" font-size="12.15">sim. obs. w/o</text>
<text transform="translate(20.00 217.90) rotate(-90)" x="0" y="0" font-size="21.2" text-anchor="middle" dx="0">Planet flux <tspan font-style="italic">F</tspan><tspan font-size="0.7em" font-style="italic" baseline-shift="-0.25em">λ</tspan> [10<tspan font-size="0.7em" baseline-shift="0.45em">6</tspan> ph s<tspan font-size="0.7em" baseline-shift="0.45em">−1</tspan>m<tspan font-size="0.7em" baseline-shift="0.45em">−3</tspan>]</text>
<clipPath id="c01"><rect x="72.0" y="470.5" width="636.7" height="357.0"/></clipPath>
<line x1="99.25" y1="470.5" x2="99.25" y2="827.5" stroke="#b0b0b0" stroke-opacity="0.72" stroke-width="1.45"/>
<line x1="179.96" y1="470.5" x2="179.96" y2="827.5" stroke="#b0b0b0" stroke-opacity="0.72" stroke-width="1.45"/>
<line x1="260.66" y1="470.5" x2="260.66" y2="827.5" stroke="#b0b0b0" stroke-opacity="0.72" stroke-width="1.45"/>
<line x1="341.37" y1="470.5" x2="341.37" y2="827.5" stroke="#b0b0b0" stroke-opacity="0.72" stroke-width="1.45"/>
<line x1="422.08" y1="470.5" x2="422.08" y2="827.5" stroke="#b0b0b0" stroke-opacity="0.72" stroke-width="1.45"/>
<line x1="502.78" y1="470.5" x2="502.78" y2="827.5" stroke="#b0b0b0" stroke-opacity="0.72" stroke-width="1.45"/>
<line x1="583.49" y1="470.5" x2="583.49" y2="827.5" stroke="#b0b0b0" stroke-opacity="0.72" stroke-width="1.45"/>
<line x1="664.20" y1="470.5" x2="664.20" y2="827.5" stroke="#b0b0b0" stroke-opacity="0.72" stroke-width="1.45"/>
<line x1="72.0" y1="827.50" x2="708.7" y2="827.50" stroke="#b0b0b0" stroke-opacity="0.72" stroke-width="1.45"/>
<line x1="72.0" y1="756.10" x2="708.7" y2="756.10" stroke="#b0b0b0" stroke-opacity="0.72" stroke-width="1.45"/>
<line x1="72.0" y1="684.70" x2="708.7" y2="684.70" stroke="#b0b0b0" stroke-opacity="0.72" stroke-width="1.45"/>
<line x1="72.0" y1="613.30" x2="708.7" y2="613.30" stroke="#b0b0b0" stroke-opacity="0.72" stroke-width="1.45"/>
<line x1="72.0" y1="541.90" x2="708.7" y2="541.90" stroke="#b0b0b0" stroke-opacity="0.72" stroke-width="1.45"/>
<line x1="72.0" y1="470.50" x2="708.7" y2="470.50" stroke="#b0b0b0" stroke-opacity="0.72" stroke-width="1.45"/>
<g clip-path="url(#c01)">
<polyline points="99.58,817.58 101.24,817.58 101.24,820.72 104.58,820.72 104.58,825.36 107.99,825.36 107.99,826.43 111.47,826.43 111.47,826.43 115.02,826.43 115.02,824.72 118.64,824.72 118.64,822.32 122.34,822.32 122.34,816.22 126.11,816.22 126.11,816.22 129.95,816.22 129.95,809.76 133.87,809.76 133.87,804.65 137.87,804.65 137.87,809.76 141.95,809.76 141.95,799.90 146.12,799.90 146.12,810.76 150.36,810.76 150.36,805.01 154.69,805.01 154.69,813.15 159.11,813.15 159.11,815.18 163.62,815.18 163.62,817.58 168.22,817.58 168.22,823.00 172.91,823.00 172.91,824.36 177.70,824.36 177.70,823.36 182.58,823.36 182.58,823.36 187.56,823.36 187.56,810.76 192.64,810.76 192.64,803.30 197.83,803.30 197.83,824.36 203.11,824.36 203.11,816.90 208.51,816.90 208.51,807.04 214.01,807.04 214.01,795.83 219.62,795.83 219.62,772.52 225.35,772.52 225.35,782.88 231.19,782.88 231.19,814.65 237.15,814.65 237.15,816.08 243.23,816.08 243.23,800.55 249.43,800.55 249.43,801.30 255.76,801.30 255.76,618.08 262.21,618.08 262.21,633.47 268.80,633.47 268.80,626.72 275.52,626.72 275.52,557.25 282.37,557.25 282.37,607.55 289.36,607.55 289.36,612.34 296.49,612.34 296.49,597.95 303.77,597.95 303.77,540.76 311.19,540.76 311.19,608.52 318.76,608.52 318.76,755.03 326.48,755.03 326.48,777.16 334.36,777.16 334.36,726.47 342.40,726.47 342.40,669.35 350.60,669.35 350.60,627.22 358.97,627.22 358.97,589.74 367.50,589.74 367.50,647.22 376.21,647.22 376.21,614.01 385.09,614.01 385.09,626.15 394.15,626.15 394.15,650.43 403.40,650.43 403.40,647.22 412.83,647.22 412.83,667.92 422.45,667.92 422.45,705.76 432.26,705.76 432.26,707.90 442.28,707.90 442.28,714.33 452.49,714.33 452.49,698.27 462.91,698.27 462.91,740.39 473.54,740.39 473.54,785.02 484.39,785.02 484.39,820.36 495.45,820.36 495.45,812.15 506.74,812.15 506.74,805.01 518.25,805.01 518.25,823.04 530.00,823.04 530.00,820.72 541.98,820.72 541.98,816.79 554.21,816.79 554.21,822.14 566.68,822.14 566.68,802.15 579.41,802.15 579.41,817.33 592.39,817.33 592.39,825.72 605.63,825.72 605.63,825.72 619.14,825.72 619.14,810.72 632.92,810.72 632.92,814.86 646.98,814.86 646.98,802.15 661.33,802.15 661.33,805.01 674.35,805.01 674.35,813.40 680.13,813.40" fill="none" stroke="#1c1c94" stroke-width="2.2" stroke-linejoin="round" stroke-linecap="butt" stroke-linejoin="miter"/>
<polyline points="99.58,818.93 101.24,818.93 101.24,822.14 104.58,822.14 104.58,826.43 107.99,826.43 107.99,826.43 111.47,826.43 111.47,826.43 115.02,826.43 115.02,826.43 118.64,826.43 118.64,826.43 122.34,826.43 122.34,824.36 126.11,824.36 126.11,824.36 129.95,824.36 129.95,816.90 133.87,816.90 133.87,820.36 137.87,820.36 137.87,824.36 141.95,824.36 141.95,816.90 146.12,816.90 146.12,824.36 150.36,824.36 150.36,817.90 154.69,817.90 154.69,824.36 159.11,824.36 159.11,824.36 163.62,824.36 163.62,824.36 168.22,824.36 168.22,825.72 172.91,825.72 172.91,825.72 177.70,825.72 177.70,825.72 182.58,825.72 182.58,819.29 187.56,819.29 187.56,803.30 192.64,803.30 192.64,821.65 197.83,821.65 197.83,824.36 203.11,824.36 203.11,824.36 208.51,824.36 208.51,819.97 214.01,819.97 214.01,807.15 219.62,807.15 219.62,806.08 225.35,806.08 225.35,782.23 231.19,782.23 231.19,767.99 237.15,767.99 237.15,740.25 243.23,740.25 243.23,750.14 249.43,750.14 249.43,752.14 255.76,752.14 255.76,747.17 262.21,747.17 262.21,552.25 268.80,552.25 268.80,556.68 275.52,556.68 275.52,523.48 282.37,523.48 282.37,561.86 289.36,561.86 289.36,536.90 296.49,536.90 296.49,596.99 303.77,596.99 303.77,580.28 311.19,580.28 311.19,708.26 318.76,708.26 318.76,756.81 326.48,756.81 326.48,727.54 334.36,727.54 334.36,709.69 342.40,709.69 342.40,593.66 350.60,593.66 350.60,566.18 358.97,566.18 358.97,617.94 367.50,617.94 367.50,659.71 376.21,659.71 376.21,678.63 385.09,678.63 385.09,665.78 394.15,665.78 394.15,642.22 403.40,642.22 403.40,682.91 412.83,682.91 412.83,773.95 422.45,773.95 422.45,803.22 432.26,803.22 432.26,801.80 442.28,801.80 442.28,788.59 452.49,788.59 452.49,757.88 462.91,757.88 462.91,808.94 473.54,808.94 473.54,803.94 484.39,803.94 484.39,796.44 495.45,796.44 495.45,808.58 506.74,808.58 506.74,822.50 518.25,822.50 518.25,825.36 530.00,825.36 530.00,825.36 541.98,825.36 541.98,825.36 554.21,825.36 554.21,825.36 566.68,825.36 566.68,824.29 579.41,824.29 579.41,824.29 592.39,824.29 592.39,812.86 605.63,812.86 605.63,808.40 619.14,808.40 619.14,814.65 632.92,814.65 632.92,825.36 646.98,825.36 646.98,821.90 661.33,821.90 661.33,823.04 674.35,823.04 674.35,824.79 680.13,824.79" fill="none" stroke="#6495ed" stroke-width="2.2" stroke-linejoin="round" stroke-linecap="butt" stroke-linejoin="miter"/>
<polyline points="99.58,822.14 101.24,822.14 101.24,823.93 104.58,823.93 104.58,826.43 107.99,826.43 107.99,826.43 111.47,826.43 111.47,826.43 115.02,826.43 115.02,826.43 118.64,826.43 118.64,826.43 122.34,826.43 122.34,826.43 126.11,826.43 126.11,826.43 129.95,826.43 129.95,826.43 133.87,826.43 133.87,826.43 137.87,826.43 137.87,826.43 141.95,826.43 141.95,826.43 146.12,826.43 146.12,826.43 150.36,826.43 150.36,826.43 154.69,826.43 154.69,826.43 159.11,826.43 159.11,826.43 163.62,826.43 163.62,826.43 168.22,826.43 168.22,826.43 172.91,826.43 172.91,826.43 177.70,826.43 177.70,826.43 182.58,826.43 182.58,826.43 187.56,826.43 187.56,826.43 192.64,826.43 192.64,826.43 197.83,826.43 197.83,826.43 203.11,826.43 203.11,826.43 208.51,826.43 208.51,825.72 214.01,825.72 214.01,823.68 219.62,823.68 219.62,823.68 225.35,823.68 225.35,819.97 231.19,819.97 231.19,755.10 237.15,755.10 237.15,733.29 243.23,733.29 243.23,757.10 249.43,757.10 249.43,727.93 255.76,727.93 255.76,700.55 262.21,700.55 262.21,592.20 268.80,592.20 268.80,503.52 275.52,503.52 275.52,719.33 282.37,719.33 282.37,532.30 289.36,532.30 289.36,546.11 296.49,546.11 296.49,518.30 303.77,518.30 303.77,750.75 311.19,750.75 311.19,806.44 318.76,806.44 318.76,811.43 326.48,811.43 326.48,786.09 334.36,786.09 334.36,641.15 342.40,641.15 342.40,598.66 350.60,598.66 350.60,703.62 358.97,703.62 358.97,651.86 367.50,651.86 367.50,600.09 376.21,600.09 376.21,784.30 385.09,784.30 385.09,784.30 394.15,784.30 394.15,761.10 403.40,761.10 403.40,797.15 412.83,797.15 412.83,819.29 422.45,819.29 422.45,824.29 432.26,824.29 432.26,824.29 442.28,824.29 442.28,822.14 452.49,822.14 452.49,816.08 462.91,816.08 462.91,824.29 473.54,824.29 473.54,819.29 484.39,819.29 484.39,786.09 495.45,786.09 495.45,805.01 506.74,805.01 506.74,823.04 518.25,823.04 518.25,826.07 530.00,826.07 530.00,826.07 541.98,826.07 541.98,826.07 554.21,826.07 554.21,826.07 566.68,826.07 566.68,821.79 579.41,821.79 579.41,807.26 592.39,807.26 592.39,799.80 605.63,799.80 605.63,802.26 619.14,802.26 619.14,824.29 632.92,824.29 632.92,826.07 646.98,826.07 646.98,826.07 661.33,826.07 661.33,826.07 674.35,826.07 674.35,826.07 680.13,826.07" fill="none" stroke="#b0c4de" stroke-width="2.2" stroke-linejoin="round" stroke-linecap="butt" stroke-linejoin="miter"/>
<line x1="72.0" y1="719.60" x2="708.7" y2="719.60" stroke="#7f7f7f" stroke-width="2" stroke-dasharray="6.9,2.7"/>
</g>
<rect x="72.0" y="470.5" width="636.7" height="357.0" fill="none" stroke="#222" stroke-width="1.4"/>
<line x1="99.25" y1="827.5" x2="99.25" y2="832.5" stroke="#222" stroke-width="1.4"/>
<text x="99.25" y="848.20" font-size="15" text-anchor="middle">4</text>
<line x1="179.96" y1="827.5" x2="179.96" y2="832.5" stroke="#222" stroke-width="1.4"/>
<text x="179.96" y="848.20" font-size="15" text-anchor="middle">6</text>
<line x1="260.66" y1="827.5" x2="260.66" y2="832.5" stroke="#222" stroke-width="1.4"/>
<text x="260.66" y="848.20" font-size="15" text-anchor="middle">8</text>
<line x1="341.37" y1="827.5" x2="341.37" y2="832.5" stroke="#222" stroke-width="1.4"/>
<text x="341.37" y="848.20" font-size="15" text-anchor="middle">10</text>
<line x1="422.08" y1="827.5" x2="422.08" y2="832.5" stroke="#222" stroke-width="1.4"/>
<text x="422.08" y="848.20" font-size="15" text-anchor="middle">12</text>
<line x1="502.78" y1="827.5" x2="502.78" y2="832.5" stroke="#222" stroke-width="1.4"/>
<text x="502.78" y="848.20" font-size="15" text-anchor="middle">14</text>
<line x1="583.49" y1="827.5" x2="583.49" y2="832.5" stroke="#222" stroke-width="1.4"/>
<text x="583.49" y="848.20" font-size="15" text-anchor="middle">16</text>
<line x1="664.20" y1="827.5" x2="664.20" y2="832.5" stroke="#222" stroke-width="1.4"/>
<text x="664.20" y="848.20" font-size="15" text-anchor="middle">18</text>
<line x1="67.0" y1="827.50" x2="72.0" y2="827.50" stroke="#222" stroke-width="1.4"/>
<text x="62.50" y="832.95" font-size="15" text-anchor="end">0</text>
<line x1="67.0" y1="756.10" x2="72.0" y2="756.10" stroke="#222" stroke-width="1.4"/>
<text x="62.50" y="761.55" font-size="15" text-anchor="end">2</text>
<line x1="67.0" y1="684.70" x2="72.0" y2="684.70" stroke="#222" stroke-width="1.4"/>
<text x="62.50" y="690.15" font-size="15" text-anchor="end">4</text>
<line x1="67.0" y1="613.30" x2="72.0" y2="613.30" stroke="#222" stroke-width="1.4"/>
<text x="62.50" y="618.75" font-size="15" text-anchor="end">6</text>
<line x1="67.0" y1="541.90" x2="72.0" y2="541.90" stroke="#222" stroke-width="1.4"/>
<text x="62.50" y="547.35" font-size="15" text-anchor="end">8</text>
<line x1="67.0" y1="470.50" x2="72.0" y2="470.50" stroke="#222" stroke-width="1.4"/>
<text x="62.50" y="475.95" font-size="15" text-anchor="end">10</text>
<text x="390.35" y="875.50" font-size="21.2" text-anchor="middle"><tspan font-style="italic">λ</tspan> [<tspan font-style="italic">μ</tspan>m]</text>
<rect x="481.80" y="476.8" width="220.50" height="95.3" rx="3" fill="#fff" fill-opacity="0.8" stroke="#d6d6d6" stroke-width="1.2"/>
<line x1="485.20" y1="488.4" x2="512.30" y2="488.4" stroke="#1c1c94" stroke-width="2.0"/>
<text x="523.30" y="492.90" font-size="12.15">Diff 100 ppm C<tspan font-size="0.6em" baseline-shift="-1.9" dx="0.8" letter-spacing="1.4">2</tspan>F<tspan font-size="0.6em" baseline-shift="-1.9" dx="0.8" letter-spacing="1.4">6</tspan> C<tspan font-size="0.6em" baseline-shift="-1.9" dx="0.8" letter-spacing="1.4">3</tspan>F<tspan font-size="0.6em" baseline-shift="-1.9" dx="0.8" letter-spacing="1.4">8</tspan> SF<tspan font-size="0.6em" baseline-shift="-1.9" dx="0.8" letter-spacing="1.4">6</tspan></text>
<line x1="485.20" y1="512.1" x2="512.30" y2="512.1" stroke="#6495ed" stroke-width="2.0"/>
<text x="523.30" y="516.60" font-size="12.15">Diff 10 ppm C<tspan font-size="0.6em" baseline-shift="-1.9" dx="0.8" letter-spacing="1.4">2</tspan>F<tspan font-size="0.6em" baseline-shift="-1.9" dx="0.8" letter-spacing="1.4">6</tspan> C<tspan font-size="0.6em" baseline-shift="-1.9" dx="0.8" letter-spacing="1.4">3</tspan>F<tspan font-size="0.6em" baseline-shift="-1.9" dx="0.8" letter-spacing="1.4">8</tspan> SF<tspan font-size="0.6em" baseline-shift="-1.9" dx="0.8" letter-spacing="1.4">6</tspan></text>
<line x1="485.20" y1="535.8" x2="512.30" y2="535.8" stroke="#b0c4de" stroke-width="2.0"/>
<text x="523.30" y="540.30" font-size="12.15">Diff 1 ppm C<tspan font-size="0.6em" baseline-shift="-1.9" dx="0.8" letter-spacing="1.4">2</tspan>F<tspan font-size="0.6em" baseline-shift="-1.9" dx="0.8" letter-spacing="1.4">6</tspan> C<tspan font-size="0.6em" baseline-shift="-1.9" dx="0.8" letter-spacing="1.4">3</tspan>F<tspan font-size="0.6em" baseline-shift="-1.9" dx="0.8" letter-spacing="1.4">8</tspan> SF<tspan font-size="0.6em" baseline-shift="-1.9" dx="0.8" letter-spacing="1.4">6</tspan></text>
<line x1="485.20" y1="559.4" x2="512.30" y2="559.4" stroke="#7f7f7f" stroke-width="2" stroke-dasharray="6.9,2.7"/>
<text x="523.30" y="563.90" font-size="12.15">3 <tspan font-style="italic">σ</tspan></text>
<text transform="translate(27.40 650.30) rotate(-90)" font-size="21.2" text-anchor="middle">(<tspan font-style="italic">F</tspan><tspan font-size="0.7em" font-style="italic" baseline-shift="-0.25em">wo</tspan> − <tspan font-style="italic">F</tspan><tspan font-size="0.7em" font-style="italic" baseline-shift="-0.25em">with</tspan>)/<tspan font-style="italic">σ</tspan></text>
<clipPath id="b1"><rect x="799.5" y="40.4" width="636.7" height="357.0"/></clipPath>
<polygon clip-path="url(#b1)" points="827.08,176.28 830.39,184.92 833.77,199.99 837.21,214.58 840.73,224.60 844.31,232.22 847.97,238.16 851.70,242.95 855.51,252.61 859.39,258.92 863.35,264.61 867.39,271.06 871.51,279.34 875.72,287.28 880.01,291.42 884.38,295.13 888.85,298.97 893.40,301.28 898.04,303.36 902.78,304.62 907.62,305.37 912.55,310.17 917.58,305.59 922.71,306.79 927.94,306.92 933.28,305.70 938.73,303.05 944.29,299.70 949.96,296.28 955.74,292.42 961.64,287.32 967.66,279.20 973.80,282.31 980.06,271.38 986.45,251.36 992.97,218.71 999.62,206.72 1006.41,204.05 1013.33,195.74 1020.39,189.91 1027.59,185.17 1034.94,180.16 1042.44,209.15 1050.08,248.91 1057.88,243.42 1065.84,203.82 1073.96,160.89 1082.24,154.22 1090.69,150.09 1099.31,146.61 1108.11,145.08 1117.08,143.66 1126.23,142.68 1135.57,146.62 1145.09,143.46 1154.81,143.71 1164.72,150.94 1174.83,159.00 1185.15,155.60 1195.67,168.15 1206.41,208.87 1217.36,219.37 1228.54,232.81 1239.94,256.69 1251.57,263.43 1263.43,255.02 1275.54,258.05 1287.88,261.37 1300.48,253.65 1313.33,230.41 1326.44,219.49 1339.82,217.69 1353.46,216.04 1367.38,211.04 1381.58,206.68 1396.07,209.72 1407.63,207.07 1407.63,279.54 1396.07,261.81 1381.58,258.76 1367.38,262.22 1353.46,265.86 1339.82,267.06 1326.44,267.05 1313.33,279.78 1300.48,303.47 1287.88,307.79 1275.54,304.78 1263.43,302.12 1251.57,309.51 1239.94,302.77 1228.54,280.12 1217.36,265.18 1206.41,254.89 1195.67,214.82 1185.15,203.35 1174.83,205.24 1164.72,197.60 1154.81,190.59 1145.09,189.05 1135.57,193.50 1126.23,191.60 1117.08,192.57 1108.11,194.00 1099.31,196.54 1090.69,201.04 1082.24,203.14 1073.96,212.46 1065.84,255.18 1057.88,295.19 1050.08,301.90 1042.44,263.16 1034.94,237.23 1027.59,242.24 1020.39,246.98 1013.33,255.25 1006.41,265.19 999.62,270.92 992.97,284.96 986.45,320.66 980.06,343.20 973.80,356.62 967.66,356.21 961.64,367.79 955.74,377.13 949.96,380.99 944.29,387.49 938.73,391.61 933.28,395.22 927.94,399.34 922.71,399.21 917.58,398.00 912.55,401.81 907.62,409.22 902.78,411.72 898.04,413.70 893.40,414.87 888.85,415.81 884.38,418.46 880.01,421.24 875.72,423.59 871.51,428.63 867.39,433.34 863.35,439.87 859.39,447.15 855.51,453.83 851.70,463.64 847.97,478.32 844.31,491.86 840.73,503.71 837.21,513.17 833.77,524.54 830.39,535.43 827.08,539.77" fill="#ebebeb" stroke="none"/>
<clipPath id="c10"><rect x="799.5" y="40.4" width="636.7" height="357.0"/></clipPath>
<line x1="826.75" y1="40.4" x2="826.75" y2="397.4" stroke="#b0b0b0" stroke-opacity="0.72" stroke-width="1.45"/>
<line x1="907.46" y1="40.4" x2="907.46" y2="397.4" stroke="#b0b0b0" stroke-opacity="0.72" stroke-width="1.45"/>
<line x1="988.16" y1="40.4" x2="988.16" y2="397.4" stroke="#b0b0b0" stroke-opacity="0.72" stroke-width="1.45"/>
<line x1="1068.87" y1="40.4" x2="1068.87" y2="397.4" stroke="#b0b0b0" stroke-opacity="0.72" stroke-width="1.45"/>
<line x1="1149.58" y1="40.4" x2="1149.58" y2="397.4" stroke="#b0b0b0" stroke-opacity="0.72" stroke-width="1.45"/>
<line x1="1230.28" y1="40.4" x2="1230.28" y2="397.4" stroke="#b0b0b0" stroke-opacity="0.72" stroke-width="1.45"/>
<line x1="1310.99" y1="40.4" x2="1310.99" y2="397.4" stroke="#b0b0b0" stroke-opacity="0.72" stroke-width="1.45"/>
<line x1="1391.70" y1="40.4" x2="1391.70" y2="397.4" stroke="#b0b0b0" stroke-opacity="0.72" stroke-width="1.45"/>
<line x1="799.5" y1="364.95" x2="1436.2" y2="364.95" stroke="#b0b0b0" stroke-opacity="0.72" stroke-width="1.45"/>
<line x1="799.5" y1="300.04" x2="1436.2" y2="300.04" stroke="#b0b0b0" stroke-opacity="0.72" stroke-width="1.45"/>
<line x1="799.5" y1="235.13" x2="1436.2" y2="235.13" stroke="#b0b0b0" stroke-opacity="0.72" stroke-width="1.45"/>
<line x1="799.5" y1="170.22" x2="1436.2" y2="170.22" stroke="#b0b0b0" stroke-opacity="0.72" stroke-width="1.45"/>
<line x1="799.5" y1="105.31" x2="1436.2" y2="105.31" stroke="#b0b0b0" stroke-opacity="0.72" stroke-width="1.45"/>
<line x1="799.5" y1="40.40" x2="1436.2" y2="40.40" stroke="#b0b0b0" stroke-opacity="0.72" stroke-width="1.45"/>
<g clip-path="url(#c10)">
<line x1="827.08" y1="689.49" x2="827.08" y2="494.76" stroke="#7f7f7f" stroke-width="1.4"/>
<line x1="823.08" y1="689.49" x2="831.08" y2="689.49" stroke="#7f7f7f" stroke-width="1.4"/>
<line x1="823.08" y1="494.76" x2="831.08" y2="494.76" stroke="#7f7f7f" stroke-width="1.4"/>
<circle cx="827.08" cy="592.13" r="2.3" fill="#7f7f7f"/>
<line x1="830.39" y1="569.41" x2="830.39" y2="225.39" stroke="#7f7f7f" stroke-width="1.4"/>
<line x1="826.39" y1="569.41" x2="834.39" y2="569.41" stroke="#7f7f7f" stroke-width="1.4"/>
<line x1="826.39" y1="225.39" x2="834.39" y2="225.39" stroke="#7f7f7f" stroke-width="1.4"/>
<circle cx="830.39" cy="397.40" r="2.3" fill="#7f7f7f"/>
<line x1="833.77" y1="160.48" x2="833.77" y2="-164.06" stroke="#7f7f7f" stroke-width="1.4"/>
<line x1="829.77" y1="160.48" x2="837.77" y2="160.48" stroke="#7f7f7f" stroke-width="1.4"/>
<line x1="829.77" y1="-164.06" x2="837.77" y2="-164.06" stroke="#7f7f7f" stroke-width="1.4"/>
<circle cx="833.77" cy="-1.79" r="2.3" fill="#7f7f7f"/>
<line x1="837.21" y1="332.49" x2="837.21" y2="27.42" stroke="#7f7f7f" stroke-width="1.4"/>
<line x1="833.21" y1="332.49" x2="841.21" y2="332.49" stroke="#7f7f7f" stroke-width="1.4"/>
<line x1="833.21" y1="27.42" x2="841.21" y2="27.42" stroke="#7f7f7f" stroke-width="1.4"/>
<circle cx="837.21" cy="179.95" r="2.3" fill="#7f7f7f"/>
<line x1="840.73" y1="229.29" x2="840.73" y2="-49.82" stroke="#7f7f7f" stroke-width="1.4"/>
<line x1="836.73" y1="229.29" x2="844.73" y2="229.29" stroke="#7f7f7f" stroke-width="1.4"/>
<line x1="836.73" y1="-49.82" x2="844.73" y2="-49.82" stroke="#7f7f7f" stroke-width="1.4"/>
<circle cx="840.73" cy="89.73" r="2.3" fill="#7f7f7f"/>
<line x1="844.31" y1="315.29" x2="844.31" y2="52.41" stroke="#7f7f7f" stroke-width="1.4"/>
<line x1="840.31" y1="315.29" x2="848.31" y2="315.29" stroke="#7f7f7f" stroke-width="1.4"/>
<line x1="840.31" y1="52.41" x2="848.31" y2="52.41" stroke="#7f7f7f" stroke-width="1.4"/>
<circle cx="844.31" cy="183.85" r="2.3" fill="#7f7f7f"/>
<line x1="847.97" y1="387.66" x2="847.97" y2="147.50" stroke="#7f7f7f" stroke-width="1.4"/>
<line x1="843.97" y1="387.66" x2="851.97" y2="387.66" stroke="#7f7f7f" stroke-width="1.4"/>
<line x1="843.97" y1="147.50" x2="851.97" y2="147.50" stroke="#7f7f7f" stroke-width="1.4"/>
<circle cx="847.97" cy="267.58" r="2.3" fill="#7f7f7f"/>
<line x1="851.70" y1="451.27" x2="851.70" y2="230.58" stroke="#7f7f7f" stroke-width="1.4"/>
<line x1="847.70" y1="451.27" x2="855.70" y2="451.27" stroke="#7f7f7f" stroke-width="1.4"/>
<line x1="847.70" y1="230.58" x2="855.70" y2="230.58" stroke="#7f7f7f" stroke-width="1.4"/>
<circle cx="851.70" cy="340.93" r="2.3" fill="#7f7f7f"/>
<line x1="855.51" y1="383.44" x2="855.51" y2="180.28" stroke="#7f7f7f" stroke-width="1.4"/>
<line x1="851.51" y1="383.44" x2="859.51" y2="383.44" stroke="#7f7f7f" stroke-width="1.4"/>
<line x1="851.51" y1="180.28" x2="859.51" y2="180.28" stroke="#7f7f7f" stroke-width="1.4"/>
<circle cx="855.51" cy="281.86" r="2.3" fill="#7f7f7f"/>
<line x1="859.39" y1="536.95" x2="859.39" y2="342.23" stroke="#7f7f7f" stroke-width="1.4"/>
<line x1="855.39" y1="536.95" x2="863.39" y2="536.95" stroke="#7f7f7f" stroke-width="1.4"/>
<line x1="855.39" y1="342.23" x2="863.39" y2="342.23" stroke="#7f7f7f" stroke-width="1.4"/>
<circle cx="859.39" cy="439.59" r="2.3" fill="#7f7f7f"/>
<line x1="863.35" y1="506.45" x2="863.35" y2="314.32" stroke="#7f7f7f" stroke-width="1.4"/>
<line x1="859.35" y1="506.45" x2="867.35" y2="506.45" stroke="#7f7f7f" stroke-width="1.4"/>
<line x1="859.35" y1="314.32" x2="867.35" y2="314.32" stroke="#7f7f7f" stroke-width="1.4"/>
<circle cx="863.35" cy="410.38" r="2.3" fill="#7f7f7f"/>
<line x1="867.39" y1="292.90" x2="867.39" y2="135.82" stroke="#7f7f7f" stroke-width="1.4"/>
<line x1="863.39" y1="292.90" x2="871.39" y2="292.90" stroke="#7f7f7f" stroke-width="1.4"/>
<line x1="863.39" y1="135.82" x2="871.39" y2="135.82" stroke="#7f7f7f" stroke-width="1.4"/>
<circle cx="867.39" cy="214.36" r="2.3" fill="#7f7f7f"/>
<line x1="871.51" y1="372.09" x2="871.51" y2="225.39" stroke="#7f7f7f" stroke-width="1.4"/>
<line x1="867.51" y1="372.09" x2="875.51" y2="372.09" stroke="#7f7f7f" stroke-width="1.4"/>
<line x1="867.51" y1="225.39" x2="875.51" y2="225.39" stroke="#7f7f7f" stroke-width="1.4"/>
<circle cx="871.51" cy="298.74" r="2.3" fill="#7f7f7f"/>
<line x1="875.72" y1="422.53" x2="875.72" y2="289.68" stroke="#7f7f7f" stroke-width="1.4"/>
<line x1="871.72" y1="422.53" x2="879.72" y2="422.53" stroke="#7f7f7f" stroke-width="1.4"/>
<line x1="871.72" y1="289.68" x2="879.72" y2="289.68" stroke="#7f7f7f" stroke-width="1.4"/>
<circle cx="875.72" cy="356.10" r="2.3" fill="#7f7f7f"/>
<line x1="880.01" y1="426.38" x2="880.01" y2="299.31" stroke="#7f7f7f" stroke-width="1.4"/>
<line x1="876.01" y1="426.38" x2="884.01" y2="426.38" stroke="#7f7f7f" stroke-width="1.4"/>
<line x1="876.01" y1="299.31" x2="884.01" y2="299.31" stroke="#7f7f7f" stroke-width="1.4"/>
<circle cx="880.01" cy="362.84" r="2.3" fill="#7f7f7f"/>
<line x1="884.38" y1="383.64" x2="884.38" y2="266.19" stroke="#7f7f7f" stroke-width="1.4"/>
<line x1="880.38" y1="383.64" x2="888.38" y2="383.64" stroke="#7f7f7f" stroke-width="1.4"/>
<line x1="880.38" y1="266.19" x2="888.38" y2="266.19" stroke="#7f7f7f" stroke-width="1.4"/>
<circle cx="884.38" cy="324.92" r="2.3" fill="#7f7f7f"/>
<line x1="888.85" y1="384.98" x2="888.85" y2="273.32" stroke="#7f7f7f" stroke-width="1.4"/>
<line x1="884.85" y1="384.98" x2="892.85" y2="384.98" stroke="#7f7f7f" stroke-width="1.4"/>
<line x1="884.85" y1="273.32" x2="892.85" y2="273.32" stroke="#7f7f7f" stroke-width="1.4"/>
<circle cx="888.85" cy="329.15" r="2.3" fill="#7f7f7f"/>
<line x1="893.40" y1="481.78" x2="893.40" y2="371.44" stroke="#7f7f7f" stroke-width="1.4"/>
<line x1="889.40" y1="481.78" x2="897.40" y2="481.78" stroke="#7f7f7f" stroke-width="1.4"/>
<line x1="889.40" y1="371.44" x2="897.40" y2="371.44" stroke="#7f7f7f" stroke-width="1.4"/>
<circle cx="893.40" cy="426.61" r="2.3" fill="#7f7f7f"/>
<line x1="898.04" y1="308.94" x2="898.04" y2="208.05" stroke="#7f7f7f" stroke-width="1.4"/>
<line x1="894.04" y1="308.94" x2="902.04" y2="308.94" stroke="#7f7f7f" stroke-width="1.4"/>
<line x1="894.04" y1="208.05" x2="902.04" y2="208.05" stroke="#7f7f7f" stroke-width="1.4"/>
<circle cx="898.04" cy="258.49" r="2.3" fill="#7f7f7f"/>
<line x1="902.78" y1="457.77" x2="902.78" y2="360.40" stroke="#7f7f7f" stroke-width="1.4"/>
<line x1="898.78" y1="457.77" x2="906.78" y2="457.77" stroke="#7f7f7f" stroke-width="1.4"/>
<line x1="898.78" y1="360.40" x2="906.78" y2="360.40" stroke="#7f7f7f" stroke-width="1.4"/>
<circle cx="902.78" cy="409.08" r="2.3" fill="#7f7f7f"/>
<line x1="907.62" y1="388.35" x2="907.62" y2="291.13" stroke="#7f7f7f" stroke-width="1.4"/>
<line x1="903.62" y1="388.35" x2="911.62" y2="388.35" stroke="#7f7f7f" stroke-width="1.4"/>
<line x1="903.62" y1="291.13" x2="911.62" y2="291.13" stroke="#7f7f7f" stroke-width="1.4"/>
<circle cx="907.62" cy="339.74" r="2.3" fill="#7f7f7f"/>
<line x1="912.55" y1="383.25" x2="912.55" y2="291.61" stroke="#7f7f7f" stroke-width="1.4"/>
<line x1="908.55" y1="383.25" x2="916.55" y2="383.25" stroke="#7f7f7f" stroke-width="1.4"/>
<line x1="908.55" y1="291.61" x2="916.55" y2="291.61" stroke="#7f7f7f" stroke-width="1.4"/>
<circle cx="912.55" cy="337.43" r="2.3" fill="#7f7f7f"/>
<line x1="917.58" y1="336.85" x2="917.58" y2="244.44" stroke="#7f7f7f" stroke-width="1.4"/>
<line x1="913.58" y1="336.85" x2="921.58" y2="336.85" stroke="#7f7f7f" stroke-width="1.4"/>
<line x1="913.58" y1="244.44" x2="921.58" y2="244.44" stroke="#7f7f7f" stroke-width="1.4"/>
<circle cx="917.58" cy="290.65" r="2.3" fill="#7f7f7f"/>
<line x1="922.71" y1="335.50" x2="922.71" y2="243.09" stroke="#7f7f7f" stroke-width="1.4"/>
<line x1="918.71" y1="335.50" x2="926.71" y2="335.50" stroke="#7f7f7f" stroke-width="1.4"/>
<line x1="918.71" y1="243.09" x2="926.71" y2="243.09" stroke="#7f7f7f" stroke-width="1.4"/>
<circle cx="922.71" cy="289.30" r="2.3" fill="#7f7f7f"/>
<line x1="927.94" y1="441.78" x2="927.94" y2="349.37" stroke="#7f7f7f" stroke-width="1.4"/>
<line x1="923.94" y1="441.78" x2="931.94" y2="441.78" stroke="#7f7f7f" stroke-width="1.4"/>
<line x1="923.94" y1="349.37" x2="931.94" y2="349.37" stroke="#7f7f7f" stroke-width="1.4"/>
<circle cx="927.94" cy="395.57" r="2.3" fill="#7f7f7f"/>
<line x1="933.28" y1="393.17" x2="933.28" y2="303.64" stroke="#7f7f7f" stroke-width="1.4"/>
<line x1="929.28" y1="393.17" x2="937.28" y2="393.17" stroke="#7f7f7f" stroke-width="1.4"/>
<line x1="929.28" y1="303.64" x2="937.28" y2="303.64" stroke="#7f7f7f" stroke-width="1.4"/>
<circle cx="933.28" cy="348.40" r="2.3" fill="#7f7f7f"/>
<line x1="938.73" y1="400.39" x2="938.73" y2="311.82" stroke="#7f7f7f" stroke-width="1.4"/>
<line x1="934.73" y1="400.39" x2="942.73" y2="400.39" stroke="#7f7f7f" stroke-width="1.4"/>
<line x1="934.73" y1="311.82" x2="942.73" y2="311.82" stroke="#7f7f7f" stroke-width="1.4"/>
<circle cx="938.73" cy="356.10" r="2.3" fill="#7f7f7f"/>
<line x1="944.29" y1="416.36" x2="944.29" y2="328.57" stroke="#7f7f7f" stroke-width="1.4"/>
<line x1="940.29" y1="416.36" x2="948.29" y2="416.36" stroke="#7f7f7f" stroke-width="1.4"/>
<line x1="940.29" y1="328.57" x2="948.29" y2="328.57" stroke="#7f7f7f" stroke-width="1.4"/>
<circle cx="944.29" cy="372.47" r="2.3" fill="#7f7f7f"/>
<line x1="949.96" y1="433.11" x2="949.96" y2="348.40" stroke="#7f7f7f" stroke-width="1.4"/>
<line x1="945.96" y1="433.11" x2="953.96" y2="433.11" stroke="#7f7f7f" stroke-width="1.4"/>
<line x1="945.96" y1="348.40" x2="953.96" y2="348.40" stroke="#7f7f7f" stroke-width="1.4"/>
<circle cx="949.96" cy="390.76" r="2.3" fill="#7f7f7f"/>
<line x1="955.74" y1="372.47" x2="955.74" y2="287.76" stroke="#7f7f7f" stroke-width="1.4"/>
<line x1="951.74" y1="372.47" x2="959.74" y2="372.47" stroke="#7f7f7f" stroke-width="1.4"/>
<line x1="951.74" y1="287.76" x2="959.74" y2="287.76" stroke="#7f7f7f" stroke-width="1.4"/>
<circle cx="955.74" cy="330.11" r="2.3" fill="#7f7f7f"/>
<line x1="961.64" y1="344.36" x2="961.64" y2="263.88" stroke="#7f7f7f" stroke-width="1.4"/>
<line x1="957.64" y1="344.36" x2="965.64" y2="344.36" stroke="#7f7f7f" stroke-width="1.4"/>
<line x1="957.64" y1="263.88" x2="965.64" y2="263.88" stroke="#7f7f7f" stroke-width="1.4"/>
<circle cx="961.64" cy="304.12" r="2.3" fill="#7f7f7f"/>
<line x1="967.66" y1="388.26" x2="967.66" y2="311.25" stroke="#7f7f7f" stroke-width="1.4"/>
<line x1="963.66" y1="388.26" x2="971.66" y2="388.26" stroke="#7f7f7f" stroke-width="1.4"/>
<line x1="963.66" y1="311.25" x2="971.66" y2="311.25" stroke="#7f7f7f" stroke-width="1.4"/>
<circle cx="967.66" cy="349.75" r="2.3" fill="#7f7f7f"/>
<line x1="973.80" y1="337.43" x2="973.80" y2="263.11" stroke="#7f7f7f" stroke-width="1.4"/>
<line x1="969.80" y1="337.43" x2="977.80" y2="337.43" stroke="#7f7f7f" stroke-width="1.4"/>
<line x1="969.80" y1="263.11" x2="977.80" y2="263.11" stroke="#7f7f7f" stroke-width="1.4"/>
<circle cx="973.80" cy="300.27" r="2.3" fill="#7f7f7f"/>
<line x1="980.06" y1="344.84" x2="980.06" y2="273.03" stroke="#7f7f7f" stroke-width="1.4"/>
<line x1="976.06" y1="344.84" x2="984.06" y2="344.84" stroke="#7f7f7f" stroke-width="1.4"/>
<line x1="976.06" y1="273.03" x2="984.06" y2="273.03" stroke="#7f7f7f" stroke-width="1.4"/>
<circle cx="980.06" cy="308.94" r="2.3" fill="#7f7f7f"/>
<line x1="986.45" y1="292.87" x2="986.45" y2="223.57" stroke="#7f7f7f" stroke-width="1.4"/>
<line x1="982.45" y1="292.87" x2="990.45" y2="292.87" stroke="#7f7f7f" stroke-width="1.4"/>
<line x1="982.45" y1="223.57" x2="990.45" y2="223.57" stroke="#7f7f7f" stroke-width="1.4"/>
<circle cx="986.45" cy="258.22" r="2.3" fill="#7f7f7f"/>
<line x1="992.97" y1="307.64" x2="992.97" y2="241.40" stroke="#7f7f7f" stroke-width="1.4"/>
<line x1="988.97" y1="307.64" x2="996.97" y2="307.64" stroke="#7f7f7f" stroke-width="1.4"/>
<line x1="988.97" y1="241.40" x2="996.97" y2="241.40" stroke="#7f7f7f" stroke-width="1.4"/>
<circle cx="992.97" cy="274.52" r="2.3" fill="#7f7f7f"/>
<line x1="999.62" y1="283.18" x2="999.62" y2="218.98" stroke="#7f7f7f" stroke-width="1.4"/>
<line x1="995.62" y1="283.18" x2="1003.62" y2="283.18" stroke="#7f7f7f" stroke-width="1.4"/>
<line x1="995.62" y1="218.98" x2="1003.62" y2="218.98" stroke="#7f7f7f" stroke-width="1.4"/>
<circle cx="999.62" cy="251.08" r="2.3" fill="#7f7f7f"/>
<line x1="1006.41" y1="259.24" x2="1006.41" y2="198.09" stroke="#7f7f7f" stroke-width="1.4"/>
<line x1="1002.41" y1="259.24" x2="1010.41" y2="259.24" stroke="#7f7f7f" stroke-width="1.4"/>
<line x1="1002.41" y1="198.09" x2="1010.41" y2="198.09" stroke="#7f7f7f" stroke-width="1.4"/>
<circle cx="1006.41" cy="228.66" r="2.3" fill="#7f7f7f"/>
<line x1="1013.33" y1="290.42" x2="1013.33" y2="230.90" stroke="#7f7f7f" stroke-width="1.4"/>
<line x1="1009.33" y1="290.42" x2="1017.33" y2="290.42" stroke="#7f7f7f" stroke-width="1.4"/>
<line x1="1009.33" y1="230.90" x2="1017.33" y2="230.90" stroke="#7f7f7f" stroke-width="1.4"/>
<circle cx="1013.33" cy="260.66" r="2.3" fill="#7f7f7f"/>
<line x1="1020.39" y1="275.54" x2="1020.39" y2="218.47" stroke="#7f7f7f" stroke-width="1.4"/>
<line x1="1016.39" y1="275.54" x2="1024.39" y2="275.54" stroke="#7f7f7f" stroke-width="1.4"/>
<line x1="1016.39" y1="218.47" x2="1024.39" y2="218.47" stroke="#7f7f7f" stroke-width="1.4"/>
<circle cx="1020.39" cy="247.01" r="2.3" fill="#7f7f7f"/>
<line x1="1027.59" y1="194.62" x2="1027.59" y2="137.55" stroke="#7f7f7f" stroke-width="1.4"/>
<line x1="1023.59" y1="194.62" x2="1031.59" y2="194.62" stroke="#7f7f7f" stroke-width="1.4"/>
<line x1="1023.59" y1="137.55" x2="1031.59" y2="137.55" stroke="#7f7f7f" stroke-width="1.4"/>
<circle cx="1027.59" cy="166.09" r="2.3" fill="#7f7f7f"/>
<line x1="1034.94" y1="269.43" x2="1034.94" y2="212.36" stroke="#7f7f7f" stroke-width="1.4"/>
<line x1="1030.94" y1="269.43" x2="1038.94" y2="269.43" stroke="#7f7f7f" stroke-width="1.4"/>
<line x1="1030.94" y1="212.36" x2="1038.94" y2="212.36" stroke="#7f7f7f" stroke-width="1.4"/>
<circle cx="1034.94" cy="240.89" r="2.3" fill="#7f7f7f"/>
<line x1="1042.44" y1="257.71" x2="1042.44" y2="203.69" stroke="#7f7f7f" stroke-width="1.4"/>
<line x1="1038.44" y1="257.71" x2="1046.44" y2="257.71" stroke="#7f7f7f" stroke-width="1.4"/>
<line x1="1038.44" y1="203.69" x2="1046.44" y2="203.69" stroke="#7f7f7f" stroke-width="1.4"/>
<circle cx="1042.44" cy="230.70" r="2.3" fill="#7f7f7f"/>
<line x1="1050.08" y1="304.08" x2="1050.08" y2="251.08" stroke="#7f7f7f" stroke-width="1.4"/>
<line x1="1046.08" y1="304.08" x2="1054.08" y2="304.08" stroke="#7f7f7f" stroke-width="1.4"/>
<line x1="1046.08" y1="251.08" x2="1054.08" y2="251.08" stroke="#7f7f7f" stroke-width="1.4"/>
<circle cx="1050.08" cy="277.58" r="2.3" fill="#7f7f7f"/>
<line x1="1057.88" y1="274.32" x2="1057.88" y2="222.55" stroke="#7f7f7f" stroke-width="1.4"/>
<line x1="1053.88" y1="274.32" x2="1061.88" y2="274.32" stroke="#7f7f7f" stroke-width="1.4"/>
<line x1="1053.88" y1="222.55" x2="1061.88" y2="222.55" stroke="#7f7f7f" stroke-width="1.4"/>
<circle cx="1057.88" cy="248.43" r="2.3" fill="#7f7f7f"/>
<line x1="1065.84" y1="254.34" x2="1065.84" y2="202.98" stroke="#7f7f7f" stroke-width="1.4"/>
<line x1="1061.84" y1="254.34" x2="1069.84" y2="254.34" stroke="#7f7f7f" stroke-width="1.4"/>
<line x1="1061.84" y1="202.98" x2="1069.84" y2="202.98" stroke="#7f7f7f" stroke-width="1.4"/>
<circle cx="1065.84" cy="228.66" r="2.3" fill="#7f7f7f"/>
<line x1="1073.96" y1="249.35" x2="1073.96" y2="197.78" stroke="#7f7f7f" stroke-width="1.4"/>
<line x1="1069.96" y1="249.35" x2="1077.96" y2="249.35" stroke="#7f7f7f" stroke-width="1.4"/>
<line x1="1069.96" y1="197.78" x2="1077.96" y2="197.78" stroke="#7f7f7f" stroke-width="1.4"/>
<circle cx="1073.96" cy="223.57" r="2.3" fill="#7f7f7f"/>
<line x1="1082.24" y1="188.51" x2="1082.24" y2="139.59" stroke="#7f7f7f" stroke-width="1.4"/>
<line x1="1078.24" y1="188.51" x2="1086.24" y2="188.51" stroke="#7f7f7f" stroke-width="1.4"/>
<line x1="1078.24" y1="139.59" x2="1086.24" y2="139.59" stroke="#7f7f7f" stroke-width="1.4"/>
<circle cx="1082.24" cy="164.05" r="2.3" fill="#7f7f7f"/>
<line x1="1090.69" y1="220.51" x2="1090.69" y2="169.55" stroke="#7f7f7f" stroke-width="1.4"/>
<line x1="1086.69" y1="220.51" x2="1094.69" y2="220.51" stroke="#7f7f7f" stroke-width="1.4"/>
<line x1="1086.69" y1="169.55" x2="1094.69" y2="169.55" stroke="#7f7f7f" stroke-width="1.4"/>
<circle cx="1090.69" cy="195.03" r="2.3" fill="#7f7f7f"/>
<line x1="1099.31" y1="204.71" x2="1099.31" y2="154.78" stroke="#7f7f7f" stroke-width="1.4"/>
<line x1="1095.31" y1="204.71" x2="1103.31" y2="204.71" stroke="#7f7f7f" stroke-width="1.4"/>
<line x1="1095.31" y1="154.78" x2="1103.31" y2="154.78" stroke="#7f7f7f" stroke-width="1.4"/>
<circle cx="1099.31" cy="179.75" r="2.3" fill="#7f7f7f"/>
<line x1="1108.11" y1="210.32" x2="1108.11" y2="161.40" stroke="#7f7f7f" stroke-width="1.4"/>
<line x1="1104.11" y1="210.32" x2="1112.11" y2="210.32" stroke="#7f7f7f" stroke-width="1.4"/>
<line x1="1104.11" y1="161.40" x2="1112.11" y2="161.40" stroke="#7f7f7f" stroke-width="1.4"/>
<circle cx="1108.11" cy="185.86" r="2.3" fill="#7f7f7f"/>
<line x1="1117.08" y1="187.29" x2="1117.08" y2="138.37" stroke="#7f7f7f" stroke-width="1.4"/>
<line x1="1113.08" y1="187.29" x2="1121.08" y2="187.29" stroke="#7f7f7f" stroke-width="1.4"/>
<line x1="1113.08" y1="138.37" x2="1121.08" y2="138.37" stroke="#7f7f7f" stroke-width="1.4"/>
<circle cx="1117.08" cy="162.83" r="2.3" fill="#7f7f7f"/>
<line x1="1126.23" y1="222.55" x2="1126.23" y2="173.63" stroke="#7f7f7f" stroke-width="1.4"/>
<line x1="1122.23" y1="222.55" x2="1130.23" y2="222.55" stroke="#7f7f7f" stroke-width="1.4"/>
<line x1="1122.23" y1="173.63" x2="1130.23" y2="173.63" stroke="#7f7f7f" stroke-width="1.4"/>
<circle cx="1126.23" cy="198.09" r="2.3" fill="#7f7f7f"/>
<line x1="1135.57" y1="193.61" x2="1135.57" y2="146.73" stroke="#7f7f7f" stroke-width="1.4"/>
<line x1="1131.57" y1="193.61" x2="1139.57" y2="193.61" stroke="#7f7f7f" stroke-width="1.4"/>
<line x1="1131.57" y1="146.73" x2="1139.57" y2="146.73" stroke="#7f7f7f" stroke-width="1.4"/>
<circle cx="1135.57" cy="170.17" r="2.3" fill="#7f7f7f"/>
<line x1="1145.09" y1="219.14" x2="1145.09" y2="173.55" stroke="#7f7f7f" stroke-width="1.4"/>
<line x1="1141.09" y1="219.14" x2="1149.09" y2="219.14" stroke="#7f7f7f" stroke-width="1.4"/>
<line x1="1141.09" y1="173.55" x2="1149.09" y2="173.55" stroke="#7f7f7f" stroke-width="1.4"/>
<circle cx="1145.09" cy="196.34" r="2.3" fill="#7f7f7f"/>
<line x1="1154.81" y1="166.02" x2="1154.81" y2="119.14" stroke="#7f7f7f" stroke-width="1.4"/>
<line x1="1150.81" y1="166.02" x2="1158.81" y2="166.02" stroke="#7f7f7f" stroke-width="1.4"/>
<line x1="1150.81" y1="119.14" x2="1158.81" y2="119.14" stroke="#7f7f7f" stroke-width="1.4"/>
<circle cx="1154.81" cy="142.58" r="2.3" fill="#7f7f7f"/>
<line x1="1164.72" y1="185.70" x2="1164.72" y2="139.03" stroke="#7f7f7f" stroke-width="1.4"/>
<line x1="1160.72" y1="185.70" x2="1168.72" y2="185.70" stroke="#7f7f7f" stroke-width="1.4"/>
<line x1="1160.72" y1="139.03" x2="1168.72" y2="139.03" stroke="#7f7f7f" stroke-width="1.4"/>
<circle cx="1164.72" cy="162.37" r="2.3" fill="#7f7f7f"/>
<line x1="1174.83" y1="197.96" x2="1174.83" y2="151.72" stroke="#7f7f7f" stroke-width="1.4"/>
<line x1="1170.83" y1="197.96" x2="1178.83" y2="197.96" stroke="#7f7f7f" stroke-width="1.4"/>
<line x1="1170.83" y1="151.72" x2="1178.83" y2="151.72" stroke="#7f7f7f" stroke-width="1.4"/>
<circle cx="1174.83" cy="174.84" r="2.3" fill="#7f7f7f"/>
<line x1="1185.15" y1="236.13" x2="1185.15" y2="188.39" stroke="#7f7f7f" stroke-width="1.4"/>
<line x1="1181.15" y1="236.13" x2="1189.15" y2="236.13" stroke="#7f7f7f" stroke-width="1.4"/>
<line x1="1181.15" y1="188.39" x2="1189.15" y2="188.39" stroke="#7f7f7f" stroke-width="1.4"/>
<circle cx="1185.15" cy="212.26" r="2.3" fill="#7f7f7f"/>
<line x1="1195.67" y1="220.54" x2="1195.67" y2="173.87" stroke="#7f7f7f" stroke-width="1.4"/>
<line x1="1191.67" y1="220.54" x2="1199.67" y2="220.54" stroke="#7f7f7f" stroke-width="1.4"/>
<line x1="1191.67" y1="173.87" x2="1199.67" y2="173.87" stroke="#7f7f7f" stroke-width="1.4"/>
<circle cx="1195.67" cy="197.20" r="2.3" fill="#7f7f7f"/>
<line x1="1206.41" y1="229.46" x2="1206.41" y2="183.44" stroke="#7f7f7f" stroke-width="1.4"/>
<line x1="1202.41" y1="229.46" x2="1210.41" y2="229.46" stroke="#7f7f7f" stroke-width="1.4"/>
<line x1="1202.41" y1="183.44" x2="1210.41" y2="183.44" stroke="#7f7f7f" stroke-width="1.4"/>
<circle cx="1206.41" cy="206.45" r="2.3" fill="#7f7f7f"/>
<line x1="1217.36" y1="268.71" x2="1217.36" y2="222.90" stroke="#7f7f7f" stroke-width="1.4"/>
<line x1="1213.36" y1="268.71" x2="1221.36" y2="268.71" stroke="#7f7f7f" stroke-width="1.4"/>
<line x1="1213.36" y1="222.90" x2="1221.36" y2="222.90" stroke="#7f7f7f" stroke-width="1.4"/>
<circle cx="1217.36" cy="245.81" r="2.3" fill="#7f7f7f"/>
<line x1="1228.54" y1="306.45" x2="1228.54" y2="259.14" stroke="#7f7f7f" stroke-width="1.4"/>
<line x1="1224.54" y1="306.45" x2="1232.54" y2="306.45" stroke="#7f7f7f" stroke-width="1.4"/>
<line x1="1224.54" y1="259.14" x2="1232.54" y2="259.14" stroke="#7f7f7f" stroke-width="1.4"/>
<circle cx="1228.54" cy="282.80" r="2.3" fill="#7f7f7f"/>
<line x1="1239.94" y1="281.54" x2="1239.94" y2="235.45" stroke="#7f7f7f" stroke-width="1.4"/>
<line x1="1235.94" y1="281.54" x2="1243.94" y2="281.54" stroke="#7f7f7f" stroke-width="1.4"/>
<line x1="1235.94" y1="235.45" x2="1243.94" y2="235.45" stroke="#7f7f7f" stroke-width="1.4"/>
<circle cx="1239.94" cy="258.49" r="2.3" fill="#7f7f7f"/>
<line x1="1251.57" y1="304.90" x2="1251.57" y2="258.82" stroke="#7f7f7f" stroke-width="1.4"/>
<line x1="1247.57" y1="304.90" x2="1255.57" y2="304.90" stroke="#7f7f7f" stroke-width="1.4"/>
<line x1="1247.57" y1="258.82" x2="1255.57" y2="258.82" stroke="#7f7f7f" stroke-width="1.4"/>
<circle cx="1251.57" cy="281.86" r="2.3" fill="#7f7f7f"/>
<line x1="1263.43" y1="341.13" x2="1263.43" y2="294.03" stroke="#7f7f7f" stroke-width="1.4"/>
<line x1="1259.43" y1="341.13" x2="1267.43" y2="341.13" stroke="#7f7f7f" stroke-width="1.4"/>
<line x1="1259.43" y1="294.03" x2="1267.43" y2="294.03" stroke="#7f7f7f" stroke-width="1.4"/>
<circle cx="1263.43" cy="317.58" r="2.3" fill="#7f7f7f"/>
<line x1="1275.54" y1="310.42" x2="1275.54" y2="263.69" stroke="#7f7f7f" stroke-width="1.4"/>
<line x1="1271.54" y1="310.42" x2="1279.54" y2="310.42" stroke="#7f7f7f" stroke-width="1.4"/>
<line x1="1271.54" y1="263.69" x2="1279.54" y2="263.69" stroke="#7f7f7f" stroke-width="1.4"/>
<circle cx="1275.54" cy="287.05" r="2.3" fill="#7f7f7f"/>
<line x1="1287.88" y1="319.96" x2="1287.88" y2="273.53" stroke="#7f7f7f" stroke-width="1.4"/>
<line x1="1283.88" y1="319.96" x2="1291.88" y2="319.96" stroke="#7f7f7f" stroke-width="1.4"/>
<line x1="1283.88" y1="273.53" x2="1291.88" y2="273.53" stroke="#7f7f7f" stroke-width="1.4"/>
<circle cx="1287.88" cy="296.75" r="2.3" fill="#7f7f7f"/>
<line x1="1300.48" y1="362.42" x2="1300.48" y2="312.60" stroke="#7f7f7f" stroke-width="1.4"/>
<line x1="1296.48" y1="362.42" x2="1304.48" y2="362.42" stroke="#7f7f7f" stroke-width="1.4"/>
<line x1="1296.48" y1="312.60" x2="1304.48" y2="312.60" stroke="#7f7f7f" stroke-width="1.4"/>
<circle cx="1300.48" cy="337.51" r="2.3" fill="#7f7f7f"/>
<line x1="1313.33" y1="285.20" x2="1313.33" y2="235.83" stroke="#7f7f7f" stroke-width="1.4"/>
<line x1="1309.33" y1="285.20" x2="1317.33" y2="285.20" stroke="#7f7f7f" stroke-width="1.4"/>
<line x1="1309.33" y1="235.83" x2="1317.33" y2="235.83" stroke="#7f7f7f" stroke-width="1.4"/>
<circle cx="1313.33" cy="260.51" r="2.3" fill="#7f7f7f"/>
<line x1="1326.44" y1="268.44" x2="1326.44" y2="220.88" stroke="#7f7f7f" stroke-width="1.4"/>
<line x1="1322.44" y1="268.44" x2="1330.44" y2="268.44" stroke="#7f7f7f" stroke-width="1.4"/>
<line x1="1322.44" y1="220.88" x2="1330.44" y2="220.88" stroke="#7f7f7f" stroke-width="1.4"/>
<circle cx="1326.44" cy="244.66" r="2.3" fill="#7f7f7f"/>
<line x1="1339.82" y1="238.55" x2="1339.82" y2="189.18" stroke="#7f7f7f" stroke-width="1.4"/>
<line x1="1335.82" y1="238.55" x2="1343.82" y2="238.55" stroke="#7f7f7f" stroke-width="1.4"/>
<line x1="1335.82" y1="189.18" x2="1343.82" y2="189.18" stroke="#7f7f7f" stroke-width="1.4"/>
<circle cx="1339.82" cy="213.86" r="2.3" fill="#7f7f7f"/>
<line x1="1353.46" y1="268.21" x2="1353.46" y2="218.39" stroke="#7f7f7f" stroke-width="1.4"/>
<line x1="1349.46" y1="268.21" x2="1357.46" y2="268.21" stroke="#7f7f7f" stroke-width="1.4"/>
<line x1="1349.46" y1="218.39" x2="1357.46" y2="218.39" stroke="#7f7f7f" stroke-width="1.4"/>
<circle cx="1353.46" cy="243.30" r="2.3" fill="#7f7f7f"/>
<line x1="1367.38" y1="240.81" x2="1367.38" y2="189.63" stroke="#7f7f7f" stroke-width="1.4"/>
<line x1="1363.38" y1="240.81" x2="1371.38" y2="240.81" stroke="#7f7f7f" stroke-width="1.4"/>
<line x1="1363.38" y1="189.63" x2="1371.38" y2="189.63" stroke="#7f7f7f" stroke-width="1.4"/>
<circle cx="1367.38" cy="215.22" r="2.3" fill="#7f7f7f"/>
<line x1="1381.58" y1="242.17" x2="1381.58" y2="190.08" stroke="#7f7f7f" stroke-width="1.4"/>
<line x1="1377.58" y1="242.17" x2="1385.58" y2="242.17" stroke="#7f7f7f" stroke-width="1.4"/>
<line x1="1377.58" y1="190.08" x2="1385.58" y2="190.08" stroke="#7f7f7f" stroke-width="1.4"/>
<circle cx="1381.58" cy="216.13" r="2.3" fill="#7f7f7f"/>
<line x1="1396.07" y1="233.79" x2="1396.07" y2="181.70" stroke="#7f7f7f" stroke-width="1.4"/>
<line x1="1392.07" y1="233.79" x2="1400.07" y2="233.79" stroke="#7f7f7f" stroke-width="1.4"/>
<line x1="1392.07" y1="181.70" x2="1400.07" y2="181.70" stroke="#7f7f7f" stroke-width="1.4"/>
<circle cx="1396.07" cy="207.75" r="2.3" fill="#7f7f7f"/>
<line x1="1407.63" y1="221.33" x2="1407.63" y2="148.87" stroke="#7f7f7f" stroke-width="1.4"/>
<line x1="1403.63" y1="221.33" x2="1411.63" y2="221.33" stroke="#7f7f7f" stroke-width="1.4"/>
<line x1="1403.63" y1="148.87" x2="1411.63" y2="148.87" stroke="#7f7f7f" stroke-width="1.4"/>
<circle cx="1407.63" cy="185.10" r="2.3" fill="#7f7f7f"/>
<polyline points="827.08,358.03 830.39,360.18 833.77,362.26 837.21,363.87 840.73,364.16 844.31,362.04 847.97,358.24 851.70,353.30 855.51,353.22 859.39,353.03 863.35,352.24 867.39,352.20 871.51,353.98 875.72,355.43 880.01,356.33 884.38,356.80 888.85,357.39 893.40,358.07 898.04,358.53 902.78,358.17 907.62,357.37 912.55,356.19 917.58,352.16 922.71,353.27 927.94,353.32 933.28,350.65 938.73,347.53 944.29,343.71 949.96,338.32 955.74,334.88 961.64,327.87 967.66,317.90 973.80,319.66 980.06,307.70 986.45,287.03 992.97,252.85 999.62,239.43 1006.41,235.24 1013.33,226.51 1020.39,219.06 1027.59,214.32 1034.94,209.31 1042.44,237.17 1050.08,276.52 1057.88,274.42 1065.84,242.10 1073.96,283.53 1082.24,237.22 1090.69,263.19 1099.31,296.00 1108.11,191.97 1117.08,192.16 1126.23,207.10 1135.57,190.38 1145.09,169.85 1154.81,168.44 1164.72,175.34 1174.83,182.76 1185.15,179.91 1195.67,191.92 1206.41,232.31 1217.36,242.49 1228.54,256.68 1239.94,279.94 1251.57,286.48 1263.43,278.79 1275.54,281.84 1287.88,283.68 1300.48,285.83 1313.33,283.58 1326.44,281.71 1339.82,278.51 1353.46,242.76 1367.38,238.23 1381.58,234.95 1396.07,236.21 1407.63,243.30" fill="none" stroke="#b0c4de" stroke-width="2.2" stroke-linejoin="round" stroke-linecap="butt" />
<polyline points="827.08,358.03 830.39,360.18 833.77,362.26 837.21,363.87 840.73,364.16 844.31,362.04 847.97,358.24 851.70,353.30 855.51,353.22 859.39,353.03 863.35,352.24 867.39,352.20 871.51,353.98 875.72,355.43 880.01,356.33 884.38,356.80 888.85,357.39 893.40,358.07 898.04,358.53 902.78,358.17 907.62,357.51 912.55,356.67 917.58,356.08 922.71,355.50 927.94,353.88 933.28,350.68 938.73,346.48 944.29,341.59 949.96,336.70 955.74,335.28 961.64,329.14 967.66,318.67 973.80,320.43 980.06,313.21 986.45,318.32 992.97,269.95 999.62,245.92 1006.41,237.66 1013.33,227.77 1020.39,235.72 1027.59,220.38 1034.94,211.86 1042.44,246.28 1050.08,278.50 1057.88,274.13 1065.84,278.70 1073.96,303.21 1082.24,308.82 1090.69,286.23 1099.31,266.22 1108.11,250.21 1117.08,262.52 1126.23,280.50 1135.57,264.42 1145.09,194.15 1154.81,176.39 1164.72,181.75 1174.83,184.91 1185.15,181.69 1195.67,195.70 1206.41,233.15 1217.36,242.71 1228.54,256.89 1239.94,279.94 1251.57,286.47 1263.43,278.57 1275.54,281.39 1287.88,283.22 1300.48,269.80 1313.33,259.89 1326.44,263.45 1339.82,269.83 1353.46,257.18 1367.38,237.83 1381.58,236.50 1396.07,236.21 1407.63,243.30" fill="none" stroke="#6495ed" stroke-width="2.2" stroke-linejoin="round" stroke-linecap="butt" />
<polyline points="827.08,358.03 830.39,360.18 833.77,362.26 837.21,363.87 840.73,364.16 844.31,362.04 847.97,358.24 851.70,353.30 855.51,353.22 859.39,353.03 863.35,352.24 867.39,352.20 871.51,353.98 875.72,355.43 880.01,356.33 884.38,356.80 888.85,357.39 893.40,358.07 898.04,358.53 902.78,358.17 907.62,357.66 912.55,356.86 917.58,349.30 922.71,351.25 927.94,352.17 933.28,349.50 938.73,347.18 944.29,344.83 949.96,341.29 955.74,345.49 961.64,331.97 967.66,319.80 973.80,324.18 980.06,312.27 986.45,318.84 992.97,294.08 999.62,254.03 1006.41,240.75 1013.33,233.78 1020.39,300.73 1027.59,238.72 1034.94,230.30 1042.44,270.69 1050.08,297.96 1057.88,297.96 1065.84,295.80 1073.96,266.77 1082.24,282.98 1090.69,301.28 1099.31,272.65 1108.11,290.83 1117.08,290.73 1126.23,282.78 1135.57,291.95 1145.09,258.39 1154.81,230.10 1164.72,228.38 1174.83,205.21 1185.15,188.82 1195.67,196.76 1206.41,233.59 1217.36,243.35 1228.54,257.51 1239.94,279.73 1251.57,286.47 1263.43,278.57 1275.54,281.37 1287.88,281.44 1300.48,246.81 1313.33,241.77 1326.44,244.64 1339.82,244.31 1353.46,264.61 1367.38,243.64 1381.58,255.54 1396.07,235.76 1407.63,243.30" fill="none" stroke="#1c1c94" stroke-width="2.2" stroke-linejoin="round" stroke-linecap="butt" />
<polyline points="827.08,358.03 830.39,360.18 833.77,362.26 837.21,363.87 840.73,364.16 844.31,362.04 847.97,358.24 851.70,353.30 855.51,353.22 859.39,353.03 863.35,352.24 867.39,352.20 871.51,353.98 875.72,355.43 880.01,356.33 884.38,356.80 888.85,357.39 893.40,358.07 898.04,358.53 902.78,358.17 907.62,357.29 912.55,355.99 917.58,351.79 922.71,353.00 927.94,353.13 933.28,350.46 938.73,347.33 944.29,343.60 949.96,338.64 955.74,334.78 961.64,327.56 967.66,317.71 973.80,319.46 980.06,307.29 986.45,286.01 992.97,251.83 999.62,238.82 1006.41,234.62 1013.33,225.50 1020.39,218.45 1027.59,213.71 1034.94,208.70 1042.44,236.15 1050.08,275.41 1057.88,269.30 1065.84,229.50 1073.96,186.68 1082.24,178.68 1090.69,175.56 1099.31,171.57 1108.11,169.54 1117.08,168.11 1126.23,167.14 1135.57,170.06 1145.09,166.26 1154.81,167.15 1164.72,174.27 1174.83,182.12 1185.15,179.48 1195.67,191.49 1206.41,231.88 1217.36,242.28 1228.54,256.46 1239.94,279.73 1251.57,286.47 1263.43,278.57 1275.54,281.42 1287.88,284.58 1300.48,278.56 1313.33,255.10 1326.44,243.27 1339.82,242.37 1353.46,240.95 1367.38,236.63 1381.58,232.72 1396.07,235.76 1407.63,243.30" fill="none" stroke="#111111" stroke-width="2.2" stroke-linejoin="round" stroke-linecap="butt" />
</g>
<rect x="799.5" y="40.4" width="636.7" height="357.0" fill="none" stroke="#222" stroke-width="1.4"/>
<line x1="826.75" y1="397.4" x2="826.75" y2="402.4" stroke="#222" stroke-width="1.4"/>
<text x="826.75" y="418.10" font-size="15" text-anchor="middle">4</text>
<line x1="907.46" y1="397.4" x2="907.46" y2="402.4" stroke="#222" stroke-width="1.4"/>
<text x="907.46" y="418.10" font-size="15" text-anchor="middle">6</text>
<line x1="988.16" y1="397.4" x2="988.16" y2="402.4" stroke="#222" stroke-width="1.4"/>
<text x="988.16" y="418.10" font-size="15" text-anchor="middle">8</text>
<line x1="1068.87" y1="397.4" x2="1068.87" y2="402.4" stroke="#222" stroke-width="1.4"/>
<text x="1068.87" y="418.10" font-size="15" text-anchor="middle">10</text>
<line x1="1149.58" y1="397.4" x2="1149.58" y2="402.4" stroke="#222" stroke-width="1.4"/>
<text x="1149.58" y="418.10" font-size="15" text-anchor="middle">12</text>
<line x1="1230.28" y1="397.4" x2="1230.28" y2="402.4" stroke="#222" stroke-width="1.4"/>
<text x="1230.28" y="418.10" font-size="15" text-anchor="middle">14</text>
<line x1="1310.99" y1="397.4" x2="1310.99" y2="402.4" stroke="#222" stroke-width="1.4"/>
<text x="1310.99" y="418.10" font-size="15" text-anchor="middle">16</text>
<line x1="1391.70" y1="397.4" x2="1391.70" y2="402.4" stroke="#222" stroke-width="1.4"/>
<text x="1391.70" y="418.10" font-size="15" text-anchor="middle">18</text>
<line x1="794.5" y1="364.95" x2="799.5" y2="364.95" stroke="#222" stroke-width="1.4"/>
<text x="790.00" y="370.40" font-size="15" text-anchor="end">0.0</text>
<line x1="794.5" y1="300.04" x2="799.5" y2="300.04" stroke="#222" stroke-width="1.4"/>
<text x="790.00" y="305.49" font-size="15" text-anchor="end">0.2</text>
<line x1="794.5" y1="235.13" x2="799.5" y2="235.13" stroke="#222" stroke-width="1.4"/>
<text x="790.00" y="240.58" font-size="15" text-anchor="end">0.4</text>
<line x1="794.5" y1="170.22" x2="799.5" y2="170.22" stroke="#222" stroke-width="1.4"/>
<text x="790.00" y="175.67" font-size="15" text-anchor="end">0.6</text>
<line x1="794.5" y1="105.31" x2="799.5" y2="105.31" stroke="#222" stroke-width="1.4"/>
<text x="790.00" y="110.76" font-size="15" text-anchor="end">0.8</text>
<line x1="794.5" y1="40.40" x2="799.5" y2="40.40" stroke="#222" stroke-width="1.4"/>
<text x="790.00" y="45.85" font-size="15" text-anchor="end">1.0</text>
<text x="1117.85" y="445.40" font-size="21.2" text-anchor="middle"><tspan font-style="italic">λ</tspan> [<tspan font-style="italic">μ</tspan>m]</text>
<text x="802.3" y="17.9" font-size="21.1">Earth at 0.43AU around K6V at 10 pc, t<tspan font-size="0.7em" font-style="italic" baseline-shift="-0.3em">obs</tspan> =   50 days</text>
<rect x="1229.70" y="46.70" width="200.50" height="131.2" rx="3" fill="#fff" fill-opacity="0.8" stroke="#d6d6d6" stroke-width="1.2"/>
<line x1="1232.50" y1="59.3" x2="1259.10" y2="59.3" stroke="#b0c4de" stroke-width="2.0"/>
<text x="1269.00" y="62.50" font-size="12.15">with 1 ppm SF<tspan font-size="0.6em" baseline-shift="-1.9" dx="0.8" letter-spacing="1.4">6</tspan></text>
<line x1="1232.50" y1="82.8" x2="1259.10" y2="82.8" stroke="#6495ed" stroke-width="2.0"/>
<text x="1269.00" y="86.00" font-size="12.15">with 10 ppm SF<tspan font-size="0.6em" baseline-shift="-1.9" dx="0.8" letter-spacing="1.4">6</tspan></text>
<line x1="1232.50" y1="106.3" x2="1259.10" y2="106.3" stroke="#1c1c94" stroke-width="2.0"/>
<text x="1269.00" y="109.50" font-size="12.15">with 100 ppm SF<tspan font-size="0.6em" baseline-shift="-1.9" dx="0.8" letter-spacing="1.4">6</tspan></text>
<line x1="1232.50" y1="126.9" x2="1259.10" y2="126.9" stroke="#111111" stroke-width="2.0"/>
<text x="1269.00" y="131.20" font-size="12.15">without Technosignature</text>
<rect x="1233.00" y="144" width="25.6" height="9" fill="#ebebeb"/>
<text x="1269.00" y="152.90" font-size="12.15">1 <tspan font-style="italic">σ</tspan></text>
<line x1="1245.80" y1="161.2" x2="1245.80" y2="173.2" stroke="#7f7f7f" stroke-width="1.4"/>
<line x1="1241.80" y1="161.2" x2="1249.80" y2="161.2" stroke="#7f7f7f" stroke-width="1.4"/>
<line x1="1241.80" y1="173.2" x2="1249.80" y2="173.2" stroke="#7f7f7f" stroke-width="1.4"/>
<circle cx="1245.80" cy="167.2" r="2.3" fill="#7f7f7f"/>
<text x="1268.70" y="171.10" font-size="12.15">sim. obs. w/o</text>
<text transform="translate(747.50 217.90) rotate(-90)" x="0" y="0" font-size="21.2" text-anchor="middle" dx="0">Planet flux <tspan font-style="italic">F</tspan><tspan font-size="0.7em" font-style="italic" baseline-shift="-0.25em">λ</tspan> [10<tspan font-size="0.7em" baseline-shift="0.45em">6</tspan> ph s<tspan font-size="0.7em" baseline-shift="0.45em">−1</tspan>m<tspan font-size="0.7em" baseline-shift="0.45em">−3</tspan>]</text>
<clipPath id="c11"><rect x="799.5" y="470.5" width="636.7" height="357.0"/></clipPath>
<line x1="826.75" y1="470.5" x2="826.75" y2="827.5" stroke="#b0b0b0" stroke-opacity="0.72" stroke-width="1.45"/>
<line x1="907.46" y1="470.5" x2="907.46" y2="827.5" stroke="#b0b0b0" stroke-opacity="0.72" stroke-width="1.45"/>
<line x1="988.16" y1="470.5" x2="988.16" y2="827.5" stroke="#b0b0b0" stroke-opacity="0.72" stroke-width="1.45"/>
<line x1="1068.87" y1="470.5" x2="1068.87" y2="827.5" stroke="#b0b0b0" stroke-opacity="0.72" stroke-width="1.45"/>
<line x1="1149.58" y1="470.5" x2="1149.58" y2="827.5" stroke="#b0b0b0" stroke-opacity="0.72" stroke-width="1.45"/>
<line x1="1230.28" y1="470.5" x2="1230.28" y2="827.5" stroke="#b0b0b0" stroke-opacity="0.72" stroke-width="1.45"/>
<line x1="1310.99" y1="470.5" x2="1310.99" y2="827.5" stroke="#b0b0b0" stroke-opacity="0.72" stroke-width="1.45"/>
<line x1="1391.70" y1="470.5" x2="1391.70" y2="827.5" stroke="#b0b0b0" stroke-opacity="0.72" stroke-width="1.45"/>
<line x1="799.5" y1="827.50" x2="1436.2" y2="827.50" stroke="#b0b0b0" stroke-opacity="0.72" stroke-width="1.45"/>
<line x1="799.5" y1="756.10" x2="1436.2" y2="756.10" stroke="#b0b0b0" stroke-opacity="0.72" stroke-width="1.45"/>
<line x1="799.5" y1="684.70" x2="1436.2" y2="684.70" stroke="#b0b0b0" stroke-opacity="0.72" stroke-width="1.45"/>
<line x1="799.5" y1="613.30" x2="1436.2" y2="613.30" stroke="#b0b0b0" stroke-opacity="0.72" stroke-width="1.45"/>
<line x1="799.5" y1="541.90" x2="1436.2" y2="541.90" stroke="#b0b0b0" stroke-opacity="0.72" stroke-width="1.45"/>
<line x1="799.5" y1="470.50" x2="1436.2" y2="470.50" stroke="#b0b0b0" stroke-opacity="0.72" stroke-width="1.45"/>
<g clip-path="url(#c11)">
<polyline points="827.08,827.14 828.74,827.14 828.74,827.14 832.08,827.14 832.08,827.14 835.49,827.14 835.49,827.14 838.97,827.14 838.97,827.14 842.52,827.14 842.52,827.14 846.14,827.14 846.14,827.14 849.84,827.14 849.84,827.14 853.61,827.14 853.61,827.14 857.45,827.14 857.45,827.14 861.37,827.14 861.37,827.14 865.37,827.14 865.37,827.14 869.45,827.14 869.45,827.14 873.62,827.14 873.62,827.14 877.86,827.14 877.86,827.14 882.19,827.14 882.19,827.14 886.61,827.14 886.61,827.14 891.12,827.14 891.12,827.14 895.72,827.14 895.72,825.36 900.41,825.36 900.41,827.14 905.20,827.14 905.20,827.14 910.08,827.14 910.08,825.36 915.06,825.36 915.06,823.57 920.14,823.57 920.14,823.57 925.33,823.57 925.33,827.14 930.61,827.14 930.61,827.14 936.01,827.14 936.01,825.36 941.51,825.36 941.51,824.29 947.12,824.29 947.12,824.29 952.85,824.29 952.85,816.08 958.69,816.08 958.69,821.43 964.65,821.43 964.65,825.36 970.73,825.36 970.73,821.43 976.93,821.43 976.93,811.27 983.26,811.27 983.26,776.15 989.71,776.15 989.71,786.80 996.30,786.80 996.30,803.34 1003.02,803.34 1003.02,817.61 1009.87,817.61 1009.87,817.61 1016.86,817.61 1016.86,724.03 1023.99,724.03 1023.99,796.54 1031.27,796.54 1031.27,799.49 1038.69,799.49 1038.69,778.87 1046.26,778.87 1046.26,798.13 1053.98,798.13 1053.98,785.89 1061.86,785.89 1061.86,730.15 1069.90,730.15 1069.90,719.50 1078.10,719.50 1078.10,680.62 1086.47,680.62 1086.47,645.67 1095.00,645.67 1095.00,682.28 1103.71,682.28 1103.71,648.53 1112.59,648.53 1112.59,645.67 1121.65,645.67 1121.65,655.18 1130.90,655.18 1130.90,640.92 1140.33,640.92 1140.33,679.43 1149.95,679.43 1149.95,729.83 1159.76,729.83 1159.76,743.61 1169.78,743.61 1169.78,791.63 1179.99,791.63 1179.99,811.36 1190.41,811.36 1190.41,817.31 1201.04,817.31 1201.04,820.40 1211.89,820.40 1211.89,821.43 1222.95,821.43 1222.95,822.86 1234.24,822.86 1234.24,824.64 1245.75,824.64 1245.75,825.72 1257.50,825.72 1257.50,827.14 1269.48,827.14 1269.48,827.14 1281.71,827.14 1281.71,821.85 1294.18,821.85 1294.18,779.03 1306.91,779.03 1306.91,807.42 1319.89,807.42 1319.89,823.04 1333.13,823.04 1333.13,824.38 1346.64,824.38 1346.64,793.94 1360.42,793.94 1360.42,816.93 1374.48,816.93 1374.48,794.89 1388.83,794.89 1388.83,826.45 1401.85,826.45 1401.85,826.45 1407.63,826.45" fill="none" stroke="#1c1c94" stroke-width="2.2" stroke-linejoin="round" stroke-linecap="butt" stroke-linejoin="miter"/>
<polyline points="827.08,827.14 828.74,827.14 828.74,827.14 832.08,827.14 832.08,827.14 835.49,827.14 835.49,827.14 838.97,827.14 838.97,827.14 842.52,827.14 842.52,827.14 846.14,827.14 846.14,827.14 849.84,827.14 849.84,827.14 853.61,827.14 853.61,827.14 857.45,827.14 857.45,827.14 861.37,827.14 861.37,827.14 865.37,827.14 865.37,827.14 869.45,827.14 869.45,827.14 873.62,827.14 873.62,827.14 877.86,827.14 877.86,827.14 882.19,827.14 882.19,827.14 886.61,827.14 886.61,827.14 891.12,827.14 891.12,827.14 895.72,827.14 895.72,827.14 900.41,827.14 900.41,827.14 905.20,827.14 905.20,827.14 910.08,827.14 910.08,826.79 915.06,826.79 915.06,823.57 920.14,823.57 920.14,823.57 925.33,823.57 925.33,827.14 930.61,827.14 930.61,827.14 936.01,827.14 936.01,827.14 941.51,827.14 941.51,827.14 947.12,827.14 947.12,827.14 952.85,827.14 952.85,827.14 958.69,827.14 958.69,827.14 964.65,827.14 964.65,827.14 970.73,827.14 970.73,827.14 976.93,827.14 976.93,823.34 983.26,823.34 983.26,785.21 989.71,785.21 989.71,818.07 996.30,818.07 996.30,827.14 1003.02,827.14 1003.02,827.14 1009.87,827.14 1009.87,827.14 1016.86,827.14 1016.86,803.34 1023.99,803.34 1023.99,823.73 1031.27,823.73 1031.27,823.73 1038.69,823.73 1038.69,819.20 1046.26,819.20 1046.26,822.15 1053.98,822.15 1053.98,819.20 1061.86,819.20 1061.86,758.02 1069.90,758.02 1069.90,663.53 1078.10,663.53 1078.10,641.39 1086.47,641.39 1086.47,667.07 1095.00,667.07 1095.00,684.66 1103.71,684.66 1103.71,710.81 1112.59,710.81 1112.59,688.94 1121.65,688.94 1121.65,650.90 1130.90,650.90 1130.90,683.00 1140.33,683.00 1140.33,783.55 1149.95,783.55 1149.95,810.17 1159.76,810.17 1159.76,814.45 1169.78,814.45 1169.78,823.25 1179.99,823.25 1179.99,827.14 1190.41,827.14 1190.41,827.14 1201.04,827.14 1201.04,827.14 1211.89,827.14 1211.89,827.14 1222.95,827.14 1222.95,827.14 1234.24,827.14 1234.24,827.14 1245.75,827.14 1245.75,827.14 1257.50,827.14 1257.50,827.14 1269.48,827.14 1269.48,827.14 1281.71,827.14 1281.71,827.14 1294.18,827.14 1294.18,818.52 1306.91,818.52 1306.91,820.90 1319.89,820.90 1319.89,797.27 1333.13,797.27 1333.13,786.17 1346.64,786.17 1346.64,801.07 1360.42,801.07 1360.42,825.65 1374.48,825.65 1374.48,820.90 1388.83,820.90 1388.83,827.14 1401.85,827.14 1401.85,827.14 1407.63,827.14" fill="none" stroke="#6495ed" stroke-width="2.2" stroke-linejoin="round" stroke-linecap="butt" stroke-linejoin="miter"/>
<polyline points="827.08,827.14 828.74,827.14 828.74,827.14 832.08,827.14 832.08,827.14 835.49,827.14 835.49,827.14 838.97,827.14 838.97,827.14 842.52,827.14 842.52,827.14 846.14,827.14 846.14,827.14 849.84,827.14 849.84,827.14 853.61,827.14 853.61,827.14 857.45,827.14 857.45,827.14 861.37,827.14 861.37,827.14 865.37,827.14 865.37,827.14 869.45,827.14 869.45,827.14 873.62,827.14 873.62,827.14 877.86,827.14 877.86,827.14 882.19,827.14 882.19,827.14 886.61,827.14 886.61,827.14 891.12,827.14 891.12,827.14 895.72,827.14 895.72,827.14 900.41,827.14 900.41,827.14 905.20,827.14 905.20,827.14 910.08,827.14 910.08,827.14 915.06,827.14 915.06,827.14 920.14,827.14 920.14,827.14 925.33,827.14 925.33,827.14 930.61,827.14 930.61,827.14 936.01,827.14 936.01,827.14 941.51,827.14 941.51,827.14 947.12,827.14 947.12,827.14 952.85,827.14 952.85,827.14 958.69,827.14 958.69,827.14 964.65,827.14 964.65,827.14 970.73,827.14 970.73,827.14 976.93,827.14 976.93,827.14 983.26,827.14 983.26,818.07 989.71,818.07 989.71,827.14 996.30,827.14 996.30,827.14 1003.02,827.14 1003.02,827.14 1009.87,827.14 1009.87,827.14 1016.86,827.14 1016.86,827.14 1023.99,827.14 1023.99,827.14 1031.27,827.14 1031.27,827.14 1038.69,827.14 1038.69,827.14 1046.26,827.14 1046.26,827.14 1053.98,827.14 1053.98,827.14 1061.86,827.14 1061.86,805.60 1069.90,805.60 1069.90,689.37 1078.10,689.37 1078.10,745.56 1086.47,745.56 1086.47,693.90 1095.00,693.90 1095.00,643.77 1103.71,643.77 1103.71,791.16 1112.59,791.16 1112.59,791.16 1121.65,791.16 1121.65,766.20 1130.90,766.20 1130.90,798.29 1140.33,798.29 1140.33,820.87 1149.95,820.87 1149.95,827.14 1159.76,827.14 1159.76,827.14 1169.78,827.14 1169.78,827.14 1179.99,827.14 1179.99,827.14 1190.41,827.14 1190.41,827.14 1201.04,827.14 1201.04,827.14 1211.89,827.14 1211.89,827.14 1222.95,827.14 1222.95,827.14 1234.24,827.14 1234.24,827.14 1245.75,827.14 1245.75,827.14 1257.50,827.14 1257.50,827.14 1269.48,827.14 1269.48,827.14 1281.71,827.14 1281.71,827.14 1294.18,827.14 1294.18,815.90 1306.91,815.90 1306.91,784.98 1319.89,784.98 1319.89,771.50 1333.13,771.50 1333.13,774.11 1346.64,774.11 1346.64,820.90 1360.42,820.90 1360.42,827.14 1374.48,827.14 1374.48,827.14 1388.83,827.14 1388.83,827.14 1401.85,827.14 1401.85,827.14 1407.63,827.14" fill="none" stroke="#b0c4de" stroke-width="2.2" stroke-linejoin="round" stroke-linecap="butt" stroke-linejoin="miter"/>
<line x1="799.5" y1="719.60" x2="1436.2" y2="719.60" stroke="#7f7f7f" stroke-width="2" stroke-dasharray="6.9,2.7"/>
</g>
<rect x="799.5" y="470.5" width="636.7" height="357.0" fill="none" stroke="#222" stroke-width="1.4"/>
<line x1="826.75" y1="827.5" x2="826.75" y2="832.5" stroke="#222" stroke-width="1.4"/>
<text x="826.75" y="848.20" font-size="15" text-anchor="middle">4</text>
<line x1="907.46" y1="827.5" x2="907.46" y2="832.5" stroke="#222" stroke-width="1.4"/>
<text x="907.46" y="848.20" font-size="15" text-anchor="middle">6</text>
<line x1="988.16" y1="827.5" x2="988.16" y2="832.5" stroke="#222" stroke-width="1.4"/>
<text x="988.16" y="848.20" font-size="15" text-anchor="middle">8</text>
<line x1="1068.87" y1="827.5" x2="1068.87" y2="832.5" stroke="#222" stroke-width="1.4"/>
<text x="1068.87" y="848.20" font-size="15" text-anchor="middle">10</text>
<line x1="1149.58" y1="827.5" x2="1149.58" y2="832.5" stroke="#222" stroke-width="1.4"/>
<text x="1149.58" y="848.20" font-size="15" text-anchor="middle">12</text>
<line x1="1230.28" y1="827.5" x2="1230.28" y2="832.5" stroke="#222" stroke-width="1.4"/>
<text x="1230.28" y="848.20" font-size="15" text-anchor="middle">14</text>
<line x1="1310.99" y1="827.5" x2="1310.99" y2="832.5" stroke="#222" stroke-width="1.4"/>
<text x="1310.99" y="848.20" font-size="15" text-anchor="middle">16</text>
<line x1="1391.70" y1="827.5" x2="1391.70" y2="832.5" stroke="#222" stroke-width="1.4"/>
<text x="1391.70" y="848.20" font-size="15" text-anchor="middle">18</text>
<line x1="794.5" y1="827.50" x2="799.5" y2="827.50" stroke="#222" stroke-width="1.4"/>
<text x="790.00" y="832.95" font-size="15" text-anchor="end">0</text>
<line x1="794.5" y1="756.10" x2="799.5" y2="756.10" stroke="#222" stroke-width="1.4"/>
<text x="790.00" y="761.55" font-size="15" text-anchor="end">2</text>
<line x1="794.5" y1="684.70" x2="799.5" y2="684.70" stroke="#222" stroke-width="1.4"/>
<text x="790.00" y="690.15" font-size="15" text-anchor="end">4</text>
<line x1="794.5" y1="613.30" x2="799.5" y2="613.30" stroke="#222" stroke-width="1.4"/>
<text x="790.00" y="618.75" font-size="15" text-anchor="end">6</text>
<line x1="794.5" y1="541.90" x2="799.5" y2="541.90" stroke="#222" stroke-width="1.4"/>
<text x="790.00" y="547.35" font-size="15" text-anchor="end">8</text>
<line x1="794.5" y1="470.50" x2="799.5" y2="470.50" stroke="#222" stroke-width="1.4"/>
<text x="790.00" y="475.95" font-size="15" text-anchor="end">10</text>
<text x="1117.85" y="875.50" font-size="21.2" text-anchor="middle"><tspan font-style="italic">λ</tspan> [<tspan font-style="italic">μ</tspan>m]</text>
<rect x="1272.30" y="476.8" width="157.50" height="95.3" rx="3" fill="#fff" fill-opacity="0.8" stroke="#d6d6d6" stroke-width="1.2"/>
<line x1="1275.70" y1="488.4" x2="1302.80" y2="488.4" stroke="#1c1c94" stroke-width="2.0"/>
<text x="1313.80" y="492.90" font-size="12.15">Diff 100 ppm SF<tspan font-size="0.6em" baseline-shift="-1.9" dx="0.8" letter-spacing="1.4">6</tspan></text>
<line x1="1275.70" y1="512.1" x2="1302.80" y2="512.1" stroke="#6495ed" stroke-width="2.0"/>
<text x="1313.80" y="516.60" font-size="12.15">Diff 10 ppm SF<tspan font-size="0.6em" baseline-shift="-1.9" dx="0.8" letter-spacing="1.4">6</tspan></text>
<line x1="1275.70" y1="535.8" x2="1302.80" y2="535.8" stroke="#b0c4de" stroke-width="2.0"/>
<text x="1313.80" y="540.30" font-size="12.15">Diff 1 ppm SF<tspan font-size="0.6em" baseline-shift="-1.9" dx="0.8" letter-spacing="1.4">6</tspan></text>
<line x1="1275.70" y1="559.4" x2="1302.80" y2="559.4" stroke="#7f7f7f" stroke-width="2" stroke-dasharray="6.9,2.7"/>
<text x="1313.80" y="563.90" font-size="12.15">3 <tspan font-style="italic">σ</tspan></text>
<text transform="translate(754.90 650.30) rotate(-90)" font-size="21.2" text-anchor="middle">(<tspan font-style="italic">F</tspan><tspan font-size="0.7em" font-style="italic" baseline-shift="-0.25em">wo</tspan> − <tspan font-style="italic">F</tspan><tspan font-size="0.7em" font-style="italic" baseline-shift="-0.25em">with</tspan>)/<tspan font-style="italic">σ</tspan></text>
<clipPath id="b2"><rect x="1527.6" y="40.4" width="636.7" height="357.0"/></clipPath>
<polygon clip-path="url(#b2)" points="1555.18,130.27 1558.49,135.95 1561.87,145.47 1565.31,156.29 1568.83,165.90 1572.41,174.16 1576.07,179.28 1579.80,184.45 1583.61,194.19 1587.49,203.75 1591.45,212.77 1595.49,222.03 1599.61,233.91 1603.82,244.48 1608.11,255.09 1612.48,265.78 1616.95,273.01 1621.50,280.09 1626.14,286.90 1630.88,289.67 1635.72,291.90 1640.65,293.67 1645.68,291.87 1650.81,295.63 1656.04,296.30 1661.38,295.24 1666.83,292.10 1672.39,289.96 1678.06,285.00 1683.84,281.55 1689.74,274.23 1695.76,265.81 1701.90,267.56 1708.16,255.74 1714.55,221.35 1721.07,199.20 1727.72,190.67 1734.51,185.65 1741.43,179.08 1748.49,173.97 1755.69,170.86 1763.04,165.63 1770.54,193.58 1778.18,235.53 1785.98,229.86 1793.94,191.77 1802.06,149.74 1810.34,142.50 1818.79,141.29 1827.41,136.91 1836.21,134.99 1845.18,135.19 1854.33,135.15 1863.67,138.36 1873.19,135.06 1882.91,136.36 1892.82,143.92 1902.93,152.52 1913.25,150.11 1923.77,163.33 1934.51,202.62 1945.46,213.08 1956.64,227.19 1968.04,253.99 1979.67,259.61 1991.53,252.08 2003.64,254.64 2015.98,258.90 2028.58,252.16 2041.43,231.76 2054.54,216.44 2067.92,215.30 2081.56,213.96 2095.48,209.49 2109.68,205.82 2124.17,209.10 2135.73,207.41 2135.73,279.20 2124.17,263.45 2109.68,259.71 2095.48,262.48 2081.56,266.95 2067.92,268.07 2054.54,269.20 2041.43,284.76 2028.58,305.38 2015.98,311.67 2003.64,308.31 1991.53,305.30 1979.67,313.51 1968.04,307.66 1956.64,283.11 1945.46,269.00 1934.51,259.18 1923.77,220.75 1913.25,208.61 1902.93,212.09 1892.82,204.78 1882.91,197.22 1873.19,197.43 1863.67,201.37 1854.33,199.15 1845.18,201.03 1836.21,203.27 1827.41,206.21 1818.79,211.20 1810.34,214.85 1802.06,223.93 1793.94,266.78 1785.98,306.29 1778.18,315.53 1770.54,277.15 1763.04,251.24 1755.69,256.47 1748.49,262.87 1741.43,271.82 1734.51,283.48 1727.72,286.91 1721.07,301.11 1714.55,323.91 1708.16,359.59 1701.90,371.42 1695.76,369.67 1689.74,378.08 1683.84,385.40 1678.06,392.10 1672.39,397.06 1666.83,402.44 1661.38,405.59 1656.04,409.89 1650.81,412.47 1645.68,411.96 1640.65,417.00 1635.72,421.72 1630.88,425.98 1626.14,429.70 1621.50,435.87 1616.95,441.77 1612.48,447.52 1608.11,456.31 1603.82,465.17 1599.61,474.07 1595.49,481.67 1591.45,491.88 1587.49,502.33 1583.61,512.24 1579.80,521.98 1576.07,536.28 1572.41,550.63 1568.83,561.84 1565.31,571.71 1561.87,580.36 1558.49,583.82 1555.18,584.63" fill="#ebebeb" stroke="none"/>
<clipPath id="c20"><rect x="1527.6" y="40.4" width="636.7" height="357.0"/></clipPath>
<line x1="1554.85" y1="40.4" x2="1554.85" y2="397.4" stroke="#b0b0b0" stroke-opacity="0.72" stroke-width="1.45"/>
<line x1="1635.56" y1="40.4" x2="1635.56" y2="397.4" stroke="#b0b0b0" stroke-opacity="0.72" stroke-width="1.45"/>
<line x1="1716.26" y1="40.4" x2="1716.26" y2="397.4" stroke="#b0b0b0" stroke-opacity="0.72" stroke-width="1.45"/>
<line x1="1796.97" y1="40.4" x2="1796.97" y2="397.4" stroke="#b0b0b0" stroke-opacity="0.72" stroke-width="1.45"/>
<line x1="1877.68" y1="40.4" x2="1877.68" y2="397.4" stroke="#b0b0b0" stroke-opacity="0.72" stroke-width="1.45"/>
<line x1="1958.38" y1="40.4" x2="1958.38" y2="397.4" stroke="#b0b0b0" stroke-opacity="0.72" stroke-width="1.45"/>
<line x1="2039.09" y1="40.4" x2="2039.09" y2="397.4" stroke="#b0b0b0" stroke-opacity="0.72" stroke-width="1.45"/>
<line x1="2119.80" y1="40.4" x2="2119.80" y2="397.4" stroke="#b0b0b0" stroke-opacity="0.72" stroke-width="1.45"/>
<line x1="1527.6" y1="364.95" x2="2164.3" y2="364.95" stroke="#b0b0b0" stroke-opacity="0.72" stroke-width="1.45"/>
<line x1="1527.6" y1="300.04" x2="2164.3" y2="300.04" stroke="#b0b0b0" stroke-opacity="0.72" stroke-width="1.45"/>
<line x1="1527.6" y1="235.13" x2="2164.3" y2="235.13" stroke="#b0b0b0" stroke-opacity="0.72" stroke-width="1.45"/>
<line x1="1527.6" y1="170.22" x2="2164.3" y2="170.22" stroke="#b0b0b0" stroke-opacity="0.72" stroke-width="1.45"/>
<line x1="1527.6" y1="105.31" x2="2164.3" y2="105.31" stroke="#b0b0b0" stroke-opacity="0.72" stroke-width="1.45"/>
<line x1="1527.6" y1="40.40" x2="2164.3" y2="40.40" stroke="#b0b0b0" stroke-opacity="0.72" stroke-width="1.45"/>
<g clip-path="url(#c20)">
<line x1="1555.18" y1="576.93" x2="1555.18" y2="122.57" stroke="#7f7f7f" stroke-width="1.4"/>
<line x1="1551.18" y1="576.93" x2="1559.18" y2="576.93" stroke="#7f7f7f" stroke-width="1.4"/>
<line x1="1551.18" y1="122.57" x2="1559.18" y2="122.57" stroke="#7f7f7f" stroke-width="1.4"/>
<circle cx="1555.18" cy="349.75" r="2.3" fill="#7f7f7f"/>
<line x1="1558.49" y1="505.72" x2="1558.49" y2="47.34" stroke="#7f7f7f" stroke-width="1.4"/>
<line x1="1554.49" y1="505.72" x2="1562.49" y2="505.72" stroke="#7f7f7f" stroke-width="1.4"/>
<line x1="1554.49" y1="47.34" x2="1562.49" y2="47.34" stroke="#7f7f7f" stroke-width="1.4"/>
<circle cx="1558.49" cy="276.53" r="2.3" fill="#7f7f7f"/>
<line x1="1561.87" y1="580.44" x2="1561.87" y2="145.55" stroke="#7f7f7f" stroke-width="1.4"/>
<line x1="1557.87" y1="580.44" x2="1565.87" y2="580.44" stroke="#7f7f7f" stroke-width="1.4"/>
<line x1="1557.87" y1="145.55" x2="1565.87" y2="145.55" stroke="#7f7f7f" stroke-width="1.4"/>
<circle cx="1561.87" cy="363.00" r="2.3" fill="#7f7f7f"/>
<line x1="1565.31" y1="598.62" x2="1565.31" y2="183.20" stroke="#7f7f7f" stroke-width="1.4"/>
<line x1="1561.31" y1="598.62" x2="1569.31" y2="598.62" stroke="#7f7f7f" stroke-width="1.4"/>
<line x1="1561.31" y1="183.20" x2="1569.31" y2="183.20" stroke="#7f7f7f" stroke-width="1.4"/>
<circle cx="1565.31" cy="390.91" r="2.3" fill="#7f7f7f"/>
<line x1="1568.83" y1="397.83" x2="1568.83" y2="1.89" stroke="#7f7f7f" stroke-width="1.4"/>
<line x1="1564.83" y1="397.83" x2="1572.83" y2="397.83" stroke="#7f7f7f" stroke-width="1.4"/>
<line x1="1564.83" y1="1.89" x2="1572.83" y2="1.89" stroke="#7f7f7f" stroke-width="1.4"/>
<circle cx="1568.83" cy="199.86" r="2.3" fill="#7f7f7f"/>
<line x1="1572.41" y1="585.64" x2="1572.41" y2="209.16" stroke="#7f7f7f" stroke-width="1.4"/>
<line x1="1568.41" y1="585.64" x2="1576.41" y2="585.64" stroke="#7f7f7f" stroke-width="1.4"/>
<line x1="1568.41" y1="209.16" x2="1576.41" y2="209.16" stroke="#7f7f7f" stroke-width="1.4"/>
<circle cx="1572.41" cy="397.40" r="2.3" fill="#7f7f7f"/>
<line x1="1576.07" y1="567.33" x2="1576.07" y2="210.33" stroke="#7f7f7f" stroke-width="1.4"/>
<line x1="1572.07" y1="567.33" x2="1580.07" y2="567.33" stroke="#7f7f7f" stroke-width="1.4"/>
<line x1="1572.07" y1="210.33" x2="1580.07" y2="210.33" stroke="#7f7f7f" stroke-width="1.4"/>
<circle cx="1576.07" cy="388.83" r="2.3" fill="#7f7f7f"/>
<line x1="1579.80" y1="564.34" x2="1579.80" y2="226.81" stroke="#7f7f7f" stroke-width="1.4"/>
<line x1="1575.80" y1="564.34" x2="1583.80" y2="564.34" stroke="#7f7f7f" stroke-width="1.4"/>
<line x1="1575.80" y1="226.81" x2="1583.80" y2="226.81" stroke="#7f7f7f" stroke-width="1.4"/>
<circle cx="1579.80" cy="395.57" r="2.3" fill="#7f7f7f"/>
<line x1="1583.61" y1="422.53" x2="1583.61" y2="85.67" stroke="#7f7f7f" stroke-width="1.4"/>
<line x1="1579.61" y1="422.53" x2="1587.61" y2="422.53" stroke="#7f7f7f" stroke-width="1.4"/>
<line x1="1579.61" y1="85.67" x2="1587.61" y2="85.67" stroke="#7f7f7f" stroke-width="1.4"/>
<circle cx="1583.61" cy="254.10" r="2.3" fill="#7f7f7f"/>
<line x1="1587.49" y1="415.19" x2="1587.49" y2="113.41" stroke="#7f7f7f" stroke-width="1.4"/>
<line x1="1583.49" y1="415.19" x2="1591.49" y2="415.19" stroke="#7f7f7f" stroke-width="1.4"/>
<line x1="1583.49" y1="113.41" x2="1591.49" y2="113.41" stroke="#7f7f7f" stroke-width="1.4"/>
<circle cx="1587.49" cy="264.30" r="2.3" fill="#7f7f7f"/>
<line x1="1591.45" y1="523.97" x2="1591.45" y2="244.86" stroke="#7f7f7f" stroke-width="1.4"/>
<line x1="1587.45" y1="523.97" x2="1595.45" y2="523.97" stroke="#7f7f7f" stroke-width="1.4"/>
<line x1="1587.45" y1="244.86" x2="1595.45" y2="244.86" stroke="#7f7f7f" stroke-width="1.4"/>
<circle cx="1591.45" cy="384.42" r="2.3" fill="#7f7f7f"/>
<line x1="1595.49" y1="520.33" x2="1595.49" y2="257.34" stroke="#7f7f7f" stroke-width="1.4"/>
<line x1="1591.49" y1="520.33" x2="1599.49" y2="520.33" stroke="#7f7f7f" stroke-width="1.4"/>
<line x1="1591.49" y1="257.34" x2="1599.49" y2="257.34" stroke="#7f7f7f" stroke-width="1.4"/>
<circle cx="1595.49" cy="388.83" r="2.3" fill="#7f7f7f"/>
<line x1="1599.61" y1="431.13" x2="1599.61" y2="184.81" stroke="#7f7f7f" stroke-width="1.4"/>
<line x1="1595.61" y1="431.13" x2="1603.61" y2="431.13" stroke="#7f7f7f" stroke-width="1.4"/>
<line x1="1595.61" y1="184.81" x2="1603.61" y2="184.81" stroke="#7f7f7f" stroke-width="1.4"/>
<circle cx="1599.61" cy="307.97" r="2.3" fill="#7f7f7f"/>
<line x1="1603.82" y1="475.29" x2="1603.82" y2="254.60" stroke="#7f7f7f" stroke-width="1.4"/>
<line x1="1599.82" y1="475.29" x2="1607.82" y2="475.29" stroke="#7f7f7f" stroke-width="1.4"/>
<line x1="1599.82" y1="254.60" x2="1607.82" y2="254.60" stroke="#7f7f7f" stroke-width="1.4"/>
<circle cx="1603.82" cy="364.95" r="2.3" fill="#7f7f7f"/>
<line x1="1608.11" y1="481.78" x2="1608.11" y2="280.56" stroke="#7f7f7f" stroke-width="1.4"/>
<line x1="1604.11" y1="481.78" x2="1612.11" y2="481.78" stroke="#7f7f7f" stroke-width="1.4"/>
<line x1="1604.11" y1="280.56" x2="1612.11" y2="280.56" stroke="#7f7f7f" stroke-width="1.4"/>
<circle cx="1608.11" cy="381.17" r="2.3" fill="#7f7f7f"/>
<line x1="1612.48" y1="423.36" x2="1612.48" y2="241.62" stroke="#7f7f7f" stroke-width="1.4"/>
<line x1="1608.48" y1="423.36" x2="1616.48" y2="423.36" stroke="#7f7f7f" stroke-width="1.4"/>
<line x1="1608.48" y1="241.62" x2="1616.48" y2="241.62" stroke="#7f7f7f" stroke-width="1.4"/>
<circle cx="1612.48" cy="332.49" r="2.3" fill="#7f7f7f"/>
<line x1="1616.95" y1="350.85" x2="1616.95" y2="180.38" stroke="#7f7f7f" stroke-width="1.4"/>
<line x1="1612.95" y1="350.85" x2="1620.95" y2="350.85" stroke="#7f7f7f" stroke-width="1.4"/>
<line x1="1612.95" y1="180.38" x2="1620.95" y2="180.38" stroke="#7f7f7f" stroke-width="1.4"/>
<circle cx="1616.95" cy="265.62" r="2.3" fill="#7f7f7f"/>
<line x1="1621.50" y1="475.29" x2="1621.50" y2="319.51" stroke="#7f7f7f" stroke-width="1.4"/>
<line x1="1617.50" y1="475.29" x2="1625.50" y2="475.29" stroke="#7f7f7f" stroke-width="1.4"/>
<line x1="1617.50" y1="319.51" x2="1625.50" y2="319.51" stroke="#7f7f7f" stroke-width="1.4"/>
<circle cx="1621.50" cy="397.40" r="2.3" fill="#7f7f7f"/>
<line x1="1626.14" y1="429.85" x2="1626.14" y2="287.05" stroke="#7f7f7f" stroke-width="1.4"/>
<line x1="1622.14" y1="429.85" x2="1630.14" y2="429.85" stroke="#7f7f7f" stroke-width="1.4"/>
<line x1="1622.14" y1="287.05" x2="1630.14" y2="287.05" stroke="#7f7f7f" stroke-width="1.4"/>
<circle cx="1626.14" cy="358.45" r="2.3" fill="#7f7f7f"/>
<line x1="1630.88" y1="355.16" x2="1630.88" y2="216.50" stroke="#7f7f7f" stroke-width="1.4"/>
<line x1="1626.88" y1="355.16" x2="1634.88" y2="355.16" stroke="#7f7f7f" stroke-width="1.4"/>
<line x1="1626.88" y1="216.50" x2="1634.88" y2="216.50" stroke="#7f7f7f" stroke-width="1.4"/>
<circle cx="1630.88" cy="285.83" r="2.3" fill="#7f7f7f"/>
<line x1="1635.72" y1="439.59" x2="1635.72" y2="309.77" stroke="#7f7f7f" stroke-width="1.4"/>
<line x1="1631.72" y1="439.59" x2="1639.72" y2="439.59" stroke="#7f7f7f" stroke-width="1.4"/>
<line x1="1631.72" y1="309.77" x2="1639.72" y2="309.77" stroke="#7f7f7f" stroke-width="1.4"/>
<circle cx="1635.72" cy="374.68" r="2.3" fill="#7f7f7f"/>
<line x1="1640.65" y1="367.37" x2="1640.65" y2="243.57" stroke="#7f7f7f" stroke-width="1.4"/>
<line x1="1636.65" y1="367.37" x2="1644.65" y2="367.37" stroke="#7f7f7f" stroke-width="1.4"/>
<line x1="1636.65" y1="243.57" x2="1644.65" y2="243.57" stroke="#7f7f7f" stroke-width="1.4"/>
<circle cx="1640.65" cy="305.47" r="2.3" fill="#7f7f7f"/>
<line x1="1645.68" y1="408.76" x2="1645.68" y2="288.68" stroke="#7f7f7f" stroke-width="1.4"/>
<line x1="1641.68" y1="408.76" x2="1649.68" y2="408.76" stroke="#7f7f7f" stroke-width="1.4"/>
<line x1="1641.68" y1="288.68" x2="1649.68" y2="288.68" stroke="#7f7f7f" stroke-width="1.4"/>
<circle cx="1645.68" cy="348.72" r="2.3" fill="#7f7f7f"/>
<line x1="1650.81" y1="416.87" x2="1650.81" y2="300.04" stroke="#7f7f7f" stroke-width="1.4"/>
<line x1="1646.81" y1="416.87" x2="1654.81" y2="416.87" stroke="#7f7f7f" stroke-width="1.4"/>
<line x1="1646.81" y1="300.04" x2="1654.81" y2="300.04" stroke="#7f7f7f" stroke-width="1.4"/>
<circle cx="1650.81" cy="358.45" r="2.3" fill="#7f7f7f"/>
<line x1="1656.04" y1="407.51" x2="1656.04" y2="297.00" stroke="#7f7f7f" stroke-width="1.4"/>
<line x1="1652.04" y1="407.51" x2="1660.04" y2="407.51" stroke="#7f7f7f" stroke-width="1.4"/>
<line x1="1652.04" y1="297.00" x2="1660.04" y2="297.00" stroke="#7f7f7f" stroke-width="1.4"/>
<circle cx="1656.04" cy="352.25" r="2.3" fill="#7f7f7f"/>
<line x1="1661.38" y1="420.12" x2="1661.38" y2="309.77" stroke="#7f7f7f" stroke-width="1.4"/>
<line x1="1657.38" y1="420.12" x2="1665.38" y2="420.12" stroke="#7f7f7f" stroke-width="1.4"/>
<line x1="1657.38" y1="309.77" x2="1665.38" y2="309.77" stroke="#7f7f7f" stroke-width="1.4"/>
<circle cx="1661.38" cy="364.95" r="2.3" fill="#7f7f7f"/>
<line x1="1666.83" y1="404.04" x2="1666.83" y2="295.46" stroke="#7f7f7f" stroke-width="1.4"/>
<line x1="1662.83" y1="404.04" x2="1670.83" y2="404.04" stroke="#7f7f7f" stroke-width="1.4"/>
<line x1="1662.83" y1="295.46" x2="1670.83" y2="295.46" stroke="#7f7f7f" stroke-width="1.4"/>
<circle cx="1666.83" cy="349.75" r="2.3" fill="#7f7f7f"/>
<line x1="1672.39" y1="300.27" x2="1672.39" y2="191.30" stroke="#7f7f7f" stroke-width="1.4"/>
<line x1="1668.39" y1="300.27" x2="1676.39" y2="300.27" stroke="#7f7f7f" stroke-width="1.4"/>
<line x1="1668.39" y1="191.30" x2="1676.39" y2="191.30" stroke="#7f7f7f" stroke-width="1.4"/>
<circle cx="1672.39" cy="245.79" r="2.3" fill="#7f7f7f"/>
<line x1="1678.06" y1="397.50" x2="1678.06" y2="289.68" stroke="#7f7f7f" stroke-width="1.4"/>
<line x1="1674.06" y1="397.50" x2="1682.06" y2="397.50" stroke="#7f7f7f" stroke-width="1.4"/>
<line x1="1674.06" y1="289.68" x2="1682.06" y2="289.68" stroke="#7f7f7f" stroke-width="1.4"/>
<circle cx="1678.06" cy="343.59" r="2.3" fill="#7f7f7f"/>
<line x1="1683.84" y1="400.65" x2="1683.84" y2="296.79" stroke="#7f7f7f" stroke-width="1.4"/>
<line x1="1679.84" y1="400.65" x2="1687.84" y2="400.65" stroke="#7f7f7f" stroke-width="1.4"/>
<line x1="1679.84" y1="296.79" x2="1687.84" y2="296.79" stroke="#7f7f7f" stroke-width="1.4"/>
<circle cx="1683.84" cy="348.72" r="2.3" fill="#7f7f7f"/>
<line x1="1689.74" y1="407.12" x2="1689.74" y2="299.31" stroke="#7f7f7f" stroke-width="1.4"/>
<line x1="1685.74" y1="407.12" x2="1693.74" y2="407.12" stroke="#7f7f7f" stroke-width="1.4"/>
<line x1="1685.74" y1="299.31" x2="1693.74" y2="299.31" stroke="#7f7f7f" stroke-width="1.4"/>
<circle cx="1689.74" cy="353.22" r="2.3" fill="#7f7f7f"/>
<line x1="1695.76" y1="402.31" x2="1695.76" y2="294.50" stroke="#7f7f7f" stroke-width="1.4"/>
<line x1="1691.76" y1="402.31" x2="1699.76" y2="402.31" stroke="#7f7f7f" stroke-width="1.4"/>
<line x1="1691.76" y1="294.50" x2="1699.76" y2="294.50" stroke="#7f7f7f" stroke-width="1.4"/>
<circle cx="1695.76" cy="348.40" r="2.3" fill="#7f7f7f"/>
<line x1="1701.90" y1="282.94" x2="1701.90" y2="178.98" stroke="#7f7f7f" stroke-width="1.4"/>
<line x1="1697.90" y1="282.94" x2="1705.90" y2="282.94" stroke="#7f7f7f" stroke-width="1.4"/>
<line x1="1697.90" y1="178.98" x2="1705.90" y2="178.98" stroke="#7f7f7f" stroke-width="1.4"/>
<circle cx="1701.90" cy="230.96" r="2.3" fill="#7f7f7f"/>
<line x1="1708.16" y1="351.97" x2="1708.16" y2="248.03" stroke="#7f7f7f" stroke-width="1.4"/>
<line x1="1704.16" y1="351.97" x2="1712.16" y2="351.97" stroke="#7f7f7f" stroke-width="1.4"/>
<line x1="1704.16" y1="248.03" x2="1712.16" y2="248.03" stroke="#7f7f7f" stroke-width="1.4"/>
<circle cx="1708.16" cy="300.00" r="2.3" fill="#7f7f7f"/>
<line x1="1714.55" y1="366.24" x2="1714.55" y2="262.29" stroke="#7f7f7f" stroke-width="1.4"/>
<line x1="1710.55" y1="366.24" x2="1718.55" y2="366.24" stroke="#7f7f7f" stroke-width="1.4"/>
<line x1="1710.55" y1="262.29" x2="1718.55" y2="262.29" stroke="#7f7f7f" stroke-width="1.4"/>
<circle cx="1714.55" cy="314.27" r="2.3" fill="#7f7f7f"/>
<line x1="1721.07" y1="290.83" x2="1721.07" y2="188.92" stroke="#7f7f7f" stroke-width="1.4"/>
<line x1="1717.07" y1="290.83" x2="1725.07" y2="290.83" stroke="#7f7f7f" stroke-width="1.4"/>
<line x1="1717.07" y1="188.92" x2="1725.07" y2="188.92" stroke="#7f7f7f" stroke-width="1.4"/>
<circle cx="1721.07" cy="239.87" r="2.3" fill="#7f7f7f"/>
<line x1="1727.72" y1="373.59" x2="1727.72" y2="277.35" stroke="#7f7f7f" stroke-width="1.4"/>
<line x1="1723.72" y1="373.59" x2="1731.72" y2="373.59" stroke="#7f7f7f" stroke-width="1.4"/>
<line x1="1723.72" y1="277.35" x2="1731.72" y2="277.35" stroke="#7f7f7f" stroke-width="1.4"/>
<circle cx="1727.72" cy="325.47" r="2.3" fill="#7f7f7f"/>
<line x1="1734.51" y1="229.68" x2="1734.51" y2="131.85" stroke="#7f7f7f" stroke-width="1.4"/>
<line x1="1730.51" y1="229.68" x2="1738.51" y2="229.68" stroke="#7f7f7f" stroke-width="1.4"/>
<line x1="1730.51" y1="131.85" x2="1738.51" y2="131.85" stroke="#7f7f7f" stroke-width="1.4"/>
<circle cx="1734.51" cy="180.76" r="2.3" fill="#7f7f7f"/>
<line x1="1741.43" y1="296.43" x2="1741.43" y2="203.69" stroke="#7f7f7f" stroke-width="1.4"/>
<line x1="1737.43" y1="296.43" x2="1745.43" y2="296.43" stroke="#7f7f7f" stroke-width="1.4"/>
<line x1="1737.43" y1="203.69" x2="1745.43" y2="203.69" stroke="#7f7f7f" stroke-width="1.4"/>
<circle cx="1741.43" cy="250.06" r="2.3" fill="#7f7f7f"/>
<line x1="1748.49" y1="183.14" x2="1748.49" y2="94.24" stroke="#7f7f7f" stroke-width="1.4"/>
<line x1="1744.49" y1="183.14" x2="1752.49" y2="183.14" stroke="#7f7f7f" stroke-width="1.4"/>
<line x1="1744.49" y1="94.24" x2="1752.49" y2="94.24" stroke="#7f7f7f" stroke-width="1.4"/>
<circle cx="1748.49" cy="138.69" r="2.3" fill="#7f7f7f"/>
<line x1="1755.69" y1="306.11" x2="1755.69" y2="220.51" stroke="#7f7f7f" stroke-width="1.4"/>
<line x1="1751.69" y1="306.11" x2="1759.69" y2="306.11" stroke="#7f7f7f" stroke-width="1.4"/>
<line x1="1751.69" y1="220.51" x2="1759.69" y2="220.51" stroke="#7f7f7f" stroke-width="1.4"/>
<circle cx="1755.69" cy="263.31" r="2.3" fill="#7f7f7f"/>
<line x1="1763.04" y1="341.78" x2="1763.04" y2="256.18" stroke="#7f7f7f" stroke-width="1.4"/>
<line x1="1759.04" y1="341.78" x2="1767.04" y2="341.78" stroke="#7f7f7f" stroke-width="1.4"/>
<line x1="1759.04" y1="256.18" x2="1767.04" y2="256.18" stroke="#7f7f7f" stroke-width="1.4"/>
<circle cx="1763.04" cy="298.98" r="2.3" fill="#7f7f7f"/>
<line x1="1770.54" y1="343.82" x2="1770.54" y2="260.25" stroke="#7f7f7f" stroke-width="1.4"/>
<line x1="1766.54" y1="343.82" x2="1774.54" y2="343.82" stroke="#7f7f7f" stroke-width="1.4"/>
<line x1="1766.54" y1="260.25" x2="1774.54" y2="260.25" stroke="#7f7f7f" stroke-width="1.4"/>
<circle cx="1770.54" cy="302.04" r="2.3" fill="#7f7f7f"/>
<line x1="1778.18" y1="361.39" x2="1778.18" y2="281.39" stroke="#7f7f7f" stroke-width="1.4"/>
<line x1="1774.18" y1="361.39" x2="1782.18" y2="361.39" stroke="#7f7f7f" stroke-width="1.4"/>
<line x1="1774.18" y1="281.39" x2="1782.18" y2="281.39" stroke="#7f7f7f" stroke-width="1.4"/>
<circle cx="1778.18" cy="321.39" r="2.3" fill="#7f7f7f"/>
<line x1="1785.98" y1="287.26" x2="1785.98" y2="210.83" stroke="#7f7f7f" stroke-width="1.4"/>
<line x1="1781.98" y1="287.26" x2="1789.98" y2="287.26" stroke="#7f7f7f" stroke-width="1.4"/>
<line x1="1781.98" y1="210.83" x2="1789.98" y2="210.83" stroke="#7f7f7f" stroke-width="1.4"/>
<circle cx="1785.98" cy="249.04" r="2.3" fill="#7f7f7f"/>
<line x1="1793.94" y1="285.53" x2="1793.94" y2="210.52" stroke="#7f7f7f" stroke-width="1.4"/>
<line x1="1789.94" y1="285.53" x2="1797.94" y2="285.53" stroke="#7f7f7f" stroke-width="1.4"/>
<line x1="1789.94" y1="210.52" x2="1797.94" y2="210.52" stroke="#7f7f7f" stroke-width="1.4"/>
<circle cx="1793.94" cy="248.03" r="2.3" fill="#7f7f7f"/>
<line x1="1802.06" y1="183.21" x2="1802.06" y2="109.02" stroke="#7f7f7f" stroke-width="1.4"/>
<line x1="1798.06" y1="183.21" x2="1806.06" y2="183.21" stroke="#7f7f7f" stroke-width="1.4"/>
<line x1="1798.06" y1="109.02" x2="1806.06" y2="109.02" stroke="#7f7f7f" stroke-width="1.4"/>
<circle cx="1802.06" cy="146.11" r="2.3" fill="#7f7f7f"/>
<line x1="1810.34" y1="218.98" x2="1810.34" y2="146.62" stroke="#7f7f7f" stroke-width="1.4"/>
<line x1="1806.34" y1="218.98" x2="1814.34" y2="218.98" stroke="#7f7f7f" stroke-width="1.4"/>
<line x1="1806.34" y1="146.62" x2="1814.34" y2="146.62" stroke="#7f7f7f" stroke-width="1.4"/>
<circle cx="1810.34" cy="182.80" r="2.3" fill="#7f7f7f"/>
<line x1="1818.79" y1="244.25" x2="1818.79" y2="174.34" stroke="#7f7f7f" stroke-width="1.4"/>
<line x1="1814.79" y1="244.25" x2="1822.79" y2="244.25" stroke="#7f7f7f" stroke-width="1.4"/>
<line x1="1814.79" y1="174.34" x2="1822.79" y2="174.34" stroke="#7f7f7f" stroke-width="1.4"/>
<circle cx="1818.79" cy="209.30" r="2.3" fill="#7f7f7f"/>
<line x1="1827.41" y1="194.62" x2="1827.41" y2="125.32" stroke="#7f7f7f" stroke-width="1.4"/>
<line x1="1823.41" y1="194.62" x2="1831.41" y2="194.62" stroke="#7f7f7f" stroke-width="1.4"/>
<line x1="1823.41" y1="125.32" x2="1831.41" y2="125.32" stroke="#7f7f7f" stroke-width="1.4"/>
<circle cx="1827.41" cy="159.97" r="2.3" fill="#7f7f7f"/>
<line x1="1836.21" y1="241.40" x2="1836.21" y2="173.12" stroke="#7f7f7f" stroke-width="1.4"/>
<line x1="1832.21" y1="241.40" x2="1840.21" y2="241.40" stroke="#7f7f7f" stroke-width="1.4"/>
<line x1="1832.21" y1="173.12" x2="1840.21" y2="173.12" stroke="#7f7f7f" stroke-width="1.4"/>
<circle cx="1836.21" cy="207.26" r="2.3" fill="#7f7f7f"/>
<line x1="1845.18" y1="223.87" x2="1845.18" y2="158.04" stroke="#7f7f7f" stroke-width="1.4"/>
<line x1="1841.18" y1="223.87" x2="1849.18" y2="223.87" stroke="#7f7f7f" stroke-width="1.4"/>
<line x1="1841.18" y1="158.04" x2="1849.18" y2="158.04" stroke="#7f7f7f" stroke-width="1.4"/>
<circle cx="1845.18" cy="190.96" r="2.3" fill="#7f7f7f"/>
<line x1="1854.33" y1="185.86" x2="1854.33" y2="121.86" stroke="#7f7f7f" stroke-width="1.4"/>
<line x1="1850.33" y1="185.86" x2="1858.33" y2="185.86" stroke="#7f7f7f" stroke-width="1.4"/>
<line x1="1850.33" y1="121.86" x2="1858.33" y2="121.86" stroke="#7f7f7f" stroke-width="1.4"/>
<circle cx="1854.33" cy="153.86" r="2.3" fill="#7f7f7f"/>
<line x1="1863.67" y1="208.92" x2="1863.67" y2="145.91" stroke="#7f7f7f" stroke-width="1.4"/>
<line x1="1859.67" y1="208.92" x2="1867.67" y2="208.92" stroke="#7f7f7f" stroke-width="1.4"/>
<line x1="1859.67" y1="145.91" x2="1867.67" y2="145.91" stroke="#7f7f7f" stroke-width="1.4"/>
<circle cx="1863.67" cy="177.42" r="2.3" fill="#7f7f7f"/>
<line x1="1873.19" y1="191.40" x2="1873.19" y2="129.03" stroke="#7f7f7f" stroke-width="1.4"/>
<line x1="1869.19" y1="191.40" x2="1877.19" y2="191.40" stroke="#7f7f7f" stroke-width="1.4"/>
<line x1="1869.19" y1="129.03" x2="1877.19" y2="129.03" stroke="#7f7f7f" stroke-width="1.4"/>
<circle cx="1873.19" cy="160.22" r="2.3" fill="#7f7f7f"/>
<line x1="1882.91" y1="207.85" x2="1882.91" y2="146.99" stroke="#7f7f7f" stroke-width="1.4"/>
<line x1="1878.91" y1="207.85" x2="1886.91" y2="207.85" stroke="#7f7f7f" stroke-width="1.4"/>
<line x1="1878.91" y1="146.99" x2="1886.91" y2="146.99" stroke="#7f7f7f" stroke-width="1.4"/>
<circle cx="1882.91" cy="177.42" r="2.3" fill="#7f7f7f"/>
<line x1="1892.82" y1="168.06" x2="1892.82" y2="107.20" stroke="#7f7f7f" stroke-width="1.4"/>
<line x1="1888.82" y1="168.06" x2="1896.82" y2="168.06" stroke="#7f7f7f" stroke-width="1.4"/>
<line x1="1888.82" y1="107.20" x2="1896.82" y2="107.20" stroke="#7f7f7f" stroke-width="1.4"/>
<circle cx="1892.82" cy="137.63" r="2.3" fill="#7f7f7f"/>
<line x1="1902.93" y1="219.03" x2="1902.93" y2="159.46" stroke="#7f7f7f" stroke-width="1.4"/>
<line x1="1898.93" y1="219.03" x2="1906.93" y2="219.03" stroke="#7f7f7f" stroke-width="1.4"/>
<line x1="1898.93" y1="159.46" x2="1906.93" y2="159.46" stroke="#7f7f7f" stroke-width="1.4"/>
<circle cx="1902.93" cy="189.25" r="2.3" fill="#7f7f7f"/>
<line x1="1913.25" y1="196.34" x2="1913.25" y2="137.85" stroke="#7f7f7f" stroke-width="1.4"/>
<line x1="1909.25" y1="196.34" x2="1917.25" y2="196.34" stroke="#7f7f7f" stroke-width="1.4"/>
<line x1="1909.25" y1="137.85" x2="1917.25" y2="137.85" stroke="#7f7f7f" stroke-width="1.4"/>
<circle cx="1913.25" cy="167.10" r="2.3" fill="#7f7f7f"/>
<line x1="1923.77" y1="191.51" x2="1923.77" y2="134.09" stroke="#7f7f7f" stroke-width="1.4"/>
<line x1="1919.77" y1="191.51" x2="1927.77" y2="191.51" stroke="#7f7f7f" stroke-width="1.4"/>
<line x1="1919.77" y1="134.09" x2="1927.77" y2="134.09" stroke="#7f7f7f" stroke-width="1.4"/>
<circle cx="1923.77" cy="162.80" r="2.3" fill="#7f7f7f"/>
<line x1="1934.51" y1="272.80" x2="1934.51" y2="216.24" stroke="#7f7f7f" stroke-width="1.4"/>
<line x1="1930.51" y1="272.80" x2="1938.51" y2="272.80" stroke="#7f7f7f" stroke-width="1.4"/>
<line x1="1930.51" y1="216.24" x2="1938.51" y2="216.24" stroke="#7f7f7f" stroke-width="1.4"/>
<circle cx="1934.51" cy="244.52" r="2.3" fill="#7f7f7f"/>
<line x1="1945.46" y1="227.96" x2="1945.46" y2="172.04" stroke="#7f7f7f" stroke-width="1.4"/>
<line x1="1941.46" y1="227.96" x2="1949.46" y2="227.96" stroke="#7f7f7f" stroke-width="1.4"/>
<line x1="1941.46" y1="172.04" x2="1949.46" y2="172.04" stroke="#7f7f7f" stroke-width="1.4"/>
<circle cx="1945.46" cy="200.00" r="2.3" fill="#7f7f7f"/>
<line x1="1956.64" y1="292.47" x2="1956.64" y2="236.56" stroke="#7f7f7f" stroke-width="1.4"/>
<line x1="1952.64" y1="292.47" x2="1960.64" y2="292.47" stroke="#7f7f7f" stroke-width="1.4"/>
<line x1="1952.64" y1="236.56" x2="1960.64" y2="236.56" stroke="#7f7f7f" stroke-width="1.4"/>
<circle cx="1956.64" cy="264.52" r="2.3" fill="#7f7f7f"/>
<line x1="1968.04" y1="313.84" x2="1968.04" y2="260.17" stroke="#7f7f7f" stroke-width="1.4"/>
<line x1="1964.04" y1="313.84" x2="1972.04" y2="313.84" stroke="#7f7f7f" stroke-width="1.4"/>
<line x1="1964.04" y1="260.17" x2="1972.04" y2="260.17" stroke="#7f7f7f" stroke-width="1.4"/>
<circle cx="1968.04" cy="287.01" r="2.3" fill="#7f7f7f"/>
<line x1="1979.67" y1="295.16" x2="1979.67" y2="241.26" stroke="#7f7f7f" stroke-width="1.4"/>
<line x1="1975.67" y1="295.16" x2="1983.67" y2="295.16" stroke="#7f7f7f" stroke-width="1.4"/>
<line x1="1975.67" y1="241.26" x2="1983.67" y2="241.26" stroke="#7f7f7f" stroke-width="1.4"/>
<circle cx="1979.67" cy="268.21" r="2.3" fill="#7f7f7f"/>
<line x1="1991.53" y1="302.29" x2="1991.53" y2="249.08" stroke="#7f7f7f" stroke-width="1.4"/>
<line x1="1987.53" y1="302.29" x2="1995.53" y2="302.29" stroke="#7f7f7f" stroke-width="1.4"/>
<line x1="1987.53" y1="249.08" x2="1995.53" y2="249.08" stroke="#7f7f7f" stroke-width="1.4"/>
<circle cx="1991.53" cy="275.69" r="2.3" fill="#7f7f7f"/>
<line x1="2003.64" y1="298.67" x2="2003.64" y2="245.00" stroke="#7f7f7f" stroke-width="1.4"/>
<line x1="1999.64" y1="298.67" x2="2007.64" y2="298.67" stroke="#7f7f7f" stroke-width="1.4"/>
<line x1="1999.64" y1="245.00" x2="2007.64" y2="245.00" stroke="#7f7f7f" stroke-width="1.4"/>
<circle cx="2003.64" cy="271.84" r="2.3" fill="#7f7f7f"/>
<line x1="2015.98" y1="326.30" x2="2015.98" y2="273.53" stroke="#7f7f7f" stroke-width="1.4"/>
<line x1="2011.98" y1="326.30" x2="2019.98" y2="326.30" stroke="#7f7f7f" stroke-width="1.4"/>
<line x1="2011.98" y1="273.53" x2="2019.98" y2="273.53" stroke="#7f7f7f" stroke-width="1.4"/>
<circle cx="2015.98" cy="299.92" r="2.3" fill="#7f7f7f"/>
<line x1="2028.58" y1="261.53" x2="2028.58" y2="208.31" stroke="#7f7f7f" stroke-width="1.4"/>
<line x1="2024.58" y1="261.53" x2="2032.58" y2="261.53" stroke="#7f7f7f" stroke-width="1.4"/>
<line x1="2024.58" y1="208.31" x2="2032.58" y2="208.31" stroke="#7f7f7f" stroke-width="1.4"/>
<circle cx="2028.58" cy="234.92" r="2.3" fill="#7f7f7f"/>
<line x1="2041.43" y1="278.86" x2="2041.43" y2="225.86" stroke="#7f7f7f" stroke-width="1.4"/>
<line x1="2037.43" y1="278.86" x2="2045.43" y2="278.86" stroke="#7f7f7f" stroke-width="1.4"/>
<line x1="2037.43" y1="225.86" x2="2045.43" y2="225.86" stroke="#7f7f7f" stroke-width="1.4"/>
<circle cx="2041.43" cy="252.36" r="2.3" fill="#7f7f7f"/>
<line x1="2054.54" y1="292.33" x2="2054.54" y2="239.56" stroke="#7f7f7f" stroke-width="1.4"/>
<line x1="2050.54" y1="292.33" x2="2058.54" y2="292.33" stroke="#7f7f7f" stroke-width="1.4"/>
<line x1="2050.54" y1="239.56" x2="2058.54" y2="239.56" stroke="#7f7f7f" stroke-width="1.4"/>
<circle cx="2054.54" cy="265.95" r="2.3" fill="#7f7f7f"/>
<line x1="2067.92" y1="273.76" x2="2067.92" y2="221.00" stroke="#7f7f7f" stroke-width="1.4"/>
<line x1="2063.92" y1="273.76" x2="2071.92" y2="273.76" stroke="#7f7f7f" stroke-width="1.4"/>
<line x1="2063.92" y1="221.00" x2="2071.92" y2="221.00" stroke="#7f7f7f" stroke-width="1.4"/>
<circle cx="2067.92" cy="247.38" r="2.3" fill="#7f7f7f"/>
<line x1="2081.56" y1="255.08" x2="2081.56" y2="202.09" stroke="#7f7f7f" stroke-width="1.4"/>
<line x1="2077.56" y1="255.08" x2="2085.56" y2="255.08" stroke="#7f7f7f" stroke-width="1.4"/>
<line x1="2077.56" y1="202.09" x2="2085.56" y2="202.09" stroke="#7f7f7f" stroke-width="1.4"/>
<circle cx="2081.56" cy="228.58" r="2.3" fill="#7f7f7f"/>
<line x1="2095.48" y1="234.24" x2="2095.48" y2="181.25" stroke="#7f7f7f" stroke-width="1.4"/>
<line x1="2091.48" y1="234.24" x2="2099.48" y2="234.24" stroke="#7f7f7f" stroke-width="1.4"/>
<line x1="2091.48" y1="181.25" x2="2099.48" y2="181.25" stroke="#7f7f7f" stroke-width="1.4"/>
<circle cx="2095.48" cy="207.75" r="2.3" fill="#7f7f7f"/>
<line x1="2109.68" y1="251.68" x2="2109.68" y2="197.78" stroke="#7f7f7f" stroke-width="1.4"/>
<line x1="2105.68" y1="251.68" x2="2113.68" y2="251.68" stroke="#7f7f7f" stroke-width="1.4"/>
<line x1="2105.68" y1="197.78" x2="2113.68" y2="197.78" stroke="#7f7f7f" stroke-width="1.4"/>
<circle cx="2109.68" cy="224.73" r="2.3" fill="#7f7f7f"/>
<line x1="2124.17" y1="245.79" x2="2124.17" y2="191.44" stroke="#7f7f7f" stroke-width="1.4"/>
<line x1="2120.17" y1="245.79" x2="2128.17" y2="245.79" stroke="#7f7f7f" stroke-width="1.4"/>
<line x1="2120.17" y1="191.44" x2="2128.17" y2="191.44" stroke="#7f7f7f" stroke-width="1.4"/>
<circle cx="2124.17" cy="218.62" r="2.3" fill="#7f7f7f"/>
<line x1="2135.73" y1="302.97" x2="2135.73" y2="231.19" stroke="#7f7f7f" stroke-width="1.4"/>
<line x1="2131.73" y1="302.97" x2="2139.73" y2="302.97" stroke="#7f7f7f" stroke-width="1.4"/>
<line x1="2131.73" y1="231.19" x2="2139.73" y2="231.19" stroke="#7f7f7f" stroke-width="1.4"/>
<circle cx="2135.73" cy="267.08" r="2.3" fill="#7f7f7f"/>
<polyline points="1555.18,360.92 1558.49,362.07 1561.87,363.23 1565.31,364.00 1568.83,363.87 1572.41,362.41 1576.07,357.98 1579.80,353.61 1583.61,354.38 1587.49,355.13 1591.45,353.73 1595.49,352.70 1599.61,355.83 1603.82,355.72 1608.11,356.00 1612.48,356.88 1616.95,357.54 1621.50,358.15 1626.14,358.40 1630.88,357.56 1635.72,356.71 1640.65,355.74 1645.68,352.49 1650.81,352.96 1656.04,353.33 1661.38,351.53 1666.83,349.73 1672.39,344.56 1678.06,339.02 1683.84,335.47 1689.74,331.85 1695.76,327.91 1701.90,324.40 1708.16,316.92 1714.55,299.06 1721.07,270.57 1727.72,253.94 1734.51,240.94 1741.43,243.78 1748.49,283.07 1755.69,317.60 1763.04,231.80 1770.54,236.43 1778.18,279.62 1785.98,280.30 1793.94,241.41 1802.06,188.88 1810.34,181.67 1818.79,176.26 1827.41,173.10 1836.21,178.76 1845.18,180.63 1854.33,172.96 1863.67,173.10 1873.19,170.50 1882.91,168.06 1892.82,174.35 1902.93,182.81 1913.25,183.70 1923.77,198.41 1934.51,232.52 1945.46,250.79 1956.64,270.05 1968.04,282.93 1979.67,286.99 1991.53,278.69 2003.64,281.47 2015.98,285.28 2028.58,278.78 2041.43,258.50 2054.54,243.50 2067.92,242.35 2081.56,240.52 2095.48,238.31 2109.68,237.99 2124.17,241.92 2135.73,248.51" fill="none" stroke="#b0c4de" stroke-width="2.2" stroke-linejoin="round" stroke-linecap="butt" />
<polyline points="1555.18,362.84 1558.49,363.11 1561.87,363.38 1565.31,364.00 1568.83,363.87 1572.41,362.44 1576.07,358.29 1579.80,354.19 1583.61,355.15 1587.49,356.10 1591.45,354.60 1595.49,353.55 1599.61,357.67 1603.82,356.74 1608.11,356.40 1612.48,356.95 1616.95,357.54 1621.50,358.15 1626.14,358.42 1630.88,357.63 1635.72,356.85 1640.65,355.96 1645.68,353.23 1650.81,353.42 1656.04,353.52 1661.38,351.72 1666.83,349.92 1672.39,344.92 1678.06,339.57 1683.84,336.92 1689.74,333.78 1695.76,331.23 1701.90,345.25 1708.16,327.81 1714.55,317.38 1721.07,319.35 1727.72,318.67 1734.51,273.88 1741.43,290.35 1748.49,315.07 1755.69,294.74 1763.04,286.24 1770.54,262.54 1778.18,279.62 1785.98,280.34 1793.94,245.45 1802.06,189.90 1810.34,182.68 1818.79,176.67 1827.41,173.72 1836.21,179.78 1845.18,181.65 1854.33,173.54 1863.67,173.53 1873.19,170.93 1882.91,168.49 1892.82,174.35 1902.93,182.82 1913.25,184.14 1923.77,199.55 1934.51,238.13 1945.46,272.11 1956.64,277.50 1968.04,283.97 1979.67,286.99 1991.53,278.69 2003.64,281.47 2015.98,285.28 2028.58,278.78 2041.43,258.73 2054.54,243.95 2067.92,242.79 2081.56,240.53 2095.48,238.76 2109.68,238.46 2124.17,243.06 2135.73,249.64" fill="none" stroke="#6495ed" stroke-width="2.2" stroke-linejoin="round" stroke-linecap="butt" />
<polyline points="1555.18,364.77 1558.49,364.15 1561.87,363.52 1565.31,364.00 1568.83,363.87 1572.41,362.48 1576.07,358.79 1579.80,355.16 1583.61,356.89 1587.49,358.59 1591.45,356.29 1595.49,354.71 1599.61,361.30 1603.82,358.04 1608.11,361.52 1612.48,357.87 1616.95,357.54 1621.50,358.15 1626.14,358.42 1630.88,357.63 1635.72,356.85 1640.65,355.96 1645.68,353.22 1650.81,353.22 1656.04,353.14 1661.38,351.34 1666.83,349.54 1672.39,346.40 1678.06,343.12 1683.84,341.39 1689.74,334.73 1695.76,325.03 1701.90,333.80 1708.16,333.68 1714.55,317.41 1721.07,319.35 1727.72,320.37 1734.51,319.38 1741.43,319.48 1748.49,296.91 1755.69,294.29 1763.04,314.31 1770.54,316.09 1778.18,301.03 1785.98,308.93 1793.94,279.94 1802.06,207.14 1810.34,183.70 1818.79,177.68 1827.41,175.39 1836.21,227.99 1845.18,247.46 1854.33,213.97 1863.67,199.40 1873.19,205.06 1882.91,181.57 1892.82,173.30 1902.93,182.82 1913.25,184.15 1923.77,200.12 1934.51,246.60 1945.46,271.23 1956.64,242.14 1968.04,259.97 1979.67,286.56 1991.53,278.69 2003.64,281.47 2015.98,285.28 2028.58,278.79 2041.43,259.61 2054.54,251.98 2067.92,254.45 2081.56,247.98 2095.48,253.32 2109.68,266.89 2124.17,275.08 2135.73,277.27" fill="none" stroke="#1c1c94" stroke-width="2.2" stroke-linejoin="round" stroke-linecap="butt" />
<polyline points="1555.18,357.45 1558.49,359.88 1561.87,362.92 1565.31,364.00 1568.83,363.87 1572.41,362.39 1576.07,357.78 1579.80,353.22 1583.61,353.22 1587.49,353.04 1591.45,352.33 1595.49,351.85 1599.61,353.99 1603.82,354.82 1608.11,355.70 1612.48,356.65 1616.95,357.39 1621.50,357.98 1626.14,358.30 1630.88,357.82 1635.72,356.81 1640.65,355.34 1645.68,351.92 1650.81,354.05 1656.04,353.10 1661.38,350.42 1666.83,347.27 1672.39,343.51 1678.06,338.55 1683.84,333.47 1689.74,326.16 1695.76,317.74 1701.90,319.49 1708.16,307.66 1714.55,272.63 1721.07,250.16 1727.72,238.79 1734.51,234.56 1741.43,225.45 1748.49,218.42 1755.69,213.66 1763.04,208.44 1770.54,235.36 1778.18,275.53 1785.98,268.08 1793.94,229.27 1802.06,186.84 1810.34,178.68 1818.79,176.25 1827.41,171.56 1836.21,169.13 1845.18,168.11 1854.33,167.15 1863.67,169.87 1873.19,166.24 1882.91,166.79 1892.82,174.35 1902.93,182.30 1913.25,179.36 1923.77,192.04 1934.51,230.90 1945.46,241.04 1956.64,255.15 1968.04,280.83 1979.67,286.56 1991.53,278.69 2003.64,281.47 2015.98,285.28 2028.58,278.77 2041.43,258.26 2054.54,242.82 2067.92,241.69 2081.56,240.45 2095.48,235.98 2109.68,232.76 2124.17,236.28 2135.73,243.30" fill="none" stroke="#111111" stroke-width="2.2" stroke-linejoin="round" stroke-linecap="butt" />
</g>
<rect x="1527.6" y="40.4" width="636.7" height="357.0" fill="none" stroke="#222" stroke-width="1.4"/>
<line x1="1554.85" y1="397.4" x2="1554.85" y2="402.4" stroke="#222" stroke-width="1.4"/>
<text x="1554.85" y="418.10" font-size="15" text-anchor="middle">4</text>
<line x1="1635.56" y1="397.4" x2="1635.56" y2="402.4" stroke="#222" stroke-width="1.4"/>
<text x="1635.56" y="418.10" font-size="15" text-anchor="middle">6</text>
<line x1="1716.26" y1="397.4" x2="1716.26" y2="402.4" stroke="#222" stroke-width="1.4"/>
<text x="1716.26" y="418.10" font-size="15" text-anchor="middle">8</text>
<line x1="1796.97" y1="397.4" x2="1796.97" y2="402.4" stroke="#222" stroke-width="1.4"/>
<text x="1796.97" y="418.10" font-size="15" text-anchor="middle">10</text>
<line x1="1877.68" y1="397.4" x2="1877.68" y2="402.4" stroke="#222" stroke-width="1.4"/>
<text x="1877.68" y="418.10" font-size="15" text-anchor="middle">12</text>
<line x1="1958.38" y1="397.4" x2="1958.38" y2="402.4" stroke="#222" stroke-width="1.4"/>
<text x="1958.38" y="418.10" font-size="15" text-anchor="middle">14</text>
<line x1="2039.09" y1="397.4" x2="2039.09" y2="402.4" stroke="#222" stroke-width="1.4"/>
<text x="2039.09" y="418.10" font-size="15" text-anchor="middle">16</text>
<line x1="2119.80" y1="397.4" x2="2119.80" y2="402.4" stroke="#222" stroke-width="1.4"/>
<text x="2119.80" y="418.10" font-size="15" text-anchor="middle">18</text>
<line x1="1522.6" y1="364.95" x2="1527.6" y2="364.95" stroke="#222" stroke-width="1.4"/>
<text x="1518.10" y="370.40" font-size="15" text-anchor="end">0.0</text>
<line x1="1522.6" y1="300.04" x2="1527.6" y2="300.04" stroke="#222" stroke-width="1.4"/>
<text x="1518.10" y="305.49" font-size="15" text-anchor="end">0.2</text>
<line x1="1522.6" y1="235.13" x2="1527.6" y2="235.13" stroke="#222" stroke-width="1.4"/>
<text x="1518.10" y="240.58" font-size="15" text-anchor="end">0.4</text>
<line x1="1522.6" y1="170.22" x2="1527.6" y2="170.22" stroke="#222" stroke-width="1.4"/>
<text x="1518.10" y="175.67" font-size="15" text-anchor="end">0.6</text>
<line x1="1522.6" y1="105.31" x2="1527.6" y2="105.31" stroke="#222" stroke-width="1.4"/>
<text x="1518.10" y="110.76" font-size="15" text-anchor="end">0.8</text>
<line x1="1522.6" y1="40.40" x2="1527.6" y2="40.40" stroke="#222" stroke-width="1.4"/>
<text x="1518.10" y="45.85" font-size="15" text-anchor="end">1.0</text>
<text x="1845.95" y="445.40" font-size="21.2" text-anchor="middle"><tspan font-style="italic">λ</tspan> [<tspan font-style="italic">μ</tspan>m]</text>
<text x="1506.5" y="17.9" font-size="21.1">Earth at 1.37AU around Sun Like at 10 pc, t<tspan font-size="0.7em" font-style="italic" baseline-shift="-0.3em">obs</tspan> =   50 days</text>
<rect x="1957.70" y="46.70" width="200.60" height="131.2" rx="3" fill="#fff" fill-opacity="0.8" stroke="#d6d6d6" stroke-width="1.2"/>
<line x1="1960.50" y1="59.3" x2="1987.10" y2="59.3" stroke="#b0c4de" stroke-width="2.0"/>
<text x="1997.00" y="62.50" font-size="12.15">with 1 ppm C<tspan font-size="0.6em" baseline-shift="-1.9" dx="0.8" letter-spacing="1.4">2</tspan>F<tspan font-size="0.6em" baseline-shift="-1.9" dx="0.8" letter-spacing="1.4">6</tspan></text>
<line x1="1960.50" y1="82.8" x2="1987.10" y2="82.8" stroke="#6495ed" stroke-width="2.0"/>
<text x="1997.00" y="86.00" font-size="12.15">with 10 ppm C<tspan font-size="0.6em" baseline-shift="-1.9" dx="0.8" letter-spacing="1.4">2</tspan>F<tspan font-size="0.6em" baseline-shift="-1.9" dx="0.8" letter-spacing="1.4">6</tspan></text>
<line x1="1960.50" y1="106.3" x2="1987.10" y2="106.3" stroke="#1c1c94" stroke-width="2.0"/>
<text x="1997.00" y="109.50" font-size="12.15">with 100 ppm C<tspan font-size="0.6em" baseline-shift="-1.9" dx="0.8" letter-spacing="1.4">2</tspan>F<tspan font-size="0.6em" baseline-shift="-1.9" dx="0.8" letter-spacing="1.4">6</tspan></text>
<line x1="1960.50" y1="126.9" x2="1987.10" y2="126.9" stroke="#111111" stroke-width="2.0"/>
<text x="1997.00" y="131.20" font-size="12.15">without Technosignature</text>
<rect x="1961.00" y="144" width="25.6" height="9" fill="#ebebeb"/>
<text x="1997.00" y="152.90" font-size="12.15">1 <tspan font-style="italic">σ</tspan></text>
<line x1="1973.80" y1="161.2" x2="1973.80" y2="173.2" stroke="#7f7f7f" stroke-width="1.4"/>
<line x1="1969.80" y1="161.2" x2="1977.80" y2="161.2" stroke="#7f7f7f" stroke-width="1.4"/>
<line x1="1969.80" y1="173.2" x2="1977.80" y2="173.2" stroke="#7f7f7f" stroke-width="1.4"/>
<circle cx="1973.80" cy="167.2" r="2.3" fill="#7f7f7f"/>
<text x="1996.70" y="171.10" font-size="12.15">sim. obs. w/o</text>
<text transform="translate(1475.60 217.90) rotate(-90)" x="0" y="0" font-size="21.2" text-anchor="middle" dx="0">Planet flux <tspan font-style="italic">F</tspan><tspan font-size="0.7em" font-style="italic" baseline-shift="-0.25em">λ</tspan> [10<tspan font-size="0.7em" baseline-shift="0.45em">6</tspan> ph s<tspan font-size="0.7em" baseline-shift="0.45em">−1</tspan>m<tspan font-size="0.7em" baseline-shift="0.45em">−3</tspan>]</text>
<clipPath id="c21"><rect x="1527.6" y="470.5" width="636.7" height="357.0"/></clipPath>
<line x1="1554.85" y1="470.5" x2="1554.85" y2="827.5" stroke="#b0b0b0" stroke-opacity="0.72" stroke-width="1.45"/>
<line x1="1635.56" y1="470.5" x2="1635.56" y2="827.5" stroke="#b0b0b0" stroke-opacity="0.72" stroke-width="1.45"/>
<line x1="1716.26" y1="470.5" x2="1716.26" y2="827.5" stroke="#b0b0b0" stroke-opacity="0.72" stroke-width="1.45"/>
<line x1="1796.97" y1="470.5" x2="1796.97" y2="827.5" stroke="#b0b0b0" stroke-opacity="0.72" stroke-width="1.45"/>
<line x1="1877.68" y1="470.5" x2="1877.68" y2="827.5" stroke="#b0b0b0" stroke-opacity="0.72" stroke-width="1.45"/>
<line x1="1958.38" y1="470.5" x2="1958.38" y2="827.5" stroke="#b0b0b0" stroke-opacity="0.72" stroke-width="1.45"/>
<line x1="2039.09" y1="470.5" x2="2039.09" y2="827.5" stroke="#b0b0b0" stroke-opacity="0.72" stroke-width="1.45"/>
<line x1="2119.80" y1="470.5" x2="2119.80" y2="827.5" stroke="#b0b0b0" stroke-opacity="0.72" stroke-width="1.45"/>
<line x1="1527.6" y1="827.50" x2="2164.3" y2="827.50" stroke="#b0b0b0" stroke-opacity="0.72" stroke-width="1.45"/>
<line x1="1527.6" y1="756.10" x2="2164.3" y2="756.10" stroke="#b0b0b0" stroke-opacity="0.72" stroke-width="1.45"/>
<line x1="1527.6" y1="684.70" x2="2164.3" y2="684.70" stroke="#b0b0b0" stroke-opacity="0.72" stroke-width="1.45"/>
<line x1="1527.6" y1="613.30" x2="2164.3" y2="613.30" stroke="#b0b0b0" stroke-opacity="0.72" stroke-width="1.45"/>
<line x1="1527.6" y1="541.90" x2="2164.3" y2="541.90" stroke="#b0b0b0" stroke-opacity="0.72" stroke-width="1.45"/>
<line x1="1527.6" y1="470.50" x2="2164.3" y2="470.50" stroke="#b0b0b0" stroke-opacity="0.72" stroke-width="1.45"/>
<g clip-path="url(#c21)">
<polyline points="1555.18,826.79 1556.84,826.79 1556.84,826.79 1560.18,826.79 1560.18,826.79 1563.59,826.79 1563.59,826.79 1567.07,826.79 1567.07,826.79 1570.62,826.79 1570.62,826.79 1574.24,826.79 1574.24,826.79 1577.94,826.79 1577.94,826.79 1581.71,826.79 1581.71,826.79 1585.55,826.79 1585.55,826.43 1589.47,826.43 1589.47,825.72 1593.47,825.72 1593.47,825.72 1597.55,825.72 1597.55,823.93 1601.72,823.93 1601.72,825.72 1605.96,825.72 1605.96,825.00 1610.29,825.00 1610.29,825.00 1614.71,825.00 1614.71,826.79 1619.22,826.79 1619.22,826.79 1623.82,826.79 1623.82,825.36 1628.51,825.36 1628.51,826.79 1633.30,826.79 1633.30,826.79 1638.18,826.79 1638.18,824.64 1643.16,824.64 1643.16,824.64 1648.24,824.64 1648.24,826.79 1653.43,826.79 1653.43,826.79 1658.71,826.79 1658.71,825.36 1664.11,825.36 1664.11,825.36 1669.61,825.36 1669.61,822.14 1675.22,822.14 1675.22,825.36 1680.95,825.36 1680.95,823.22 1686.79,823.22 1686.79,815.92 1692.75,815.92 1692.75,822.15 1698.83,822.15 1698.83,816.54 1705.03,816.54 1705.03,807.20 1711.36,807.20 1711.36,795.99 1717.81,795.99 1717.81,778.55 1724.40,778.55 1724.40,766.71 1731.12,766.71 1731.12,757.37 1737.97,757.37 1737.97,753.01 1744.96,753.01 1744.96,764.22 1752.09,764.22 1752.09,761.11 1759.37,761.11 1759.37,736.19 1766.79,736.19 1766.79,755.50 1774.36,755.50 1774.36,805.95 1782.08,805.95 1782.08,787.27 1789.96,787.27 1789.96,777.30 1798.00,777.30 1798.00,809.69 1806.20,809.69 1806.20,825.13 1814.57,825.13 1814.57,825.13 1823.10,825.13 1823.10,824.22 1831.81,824.22 1831.81,767.94 1840.69,767.94 1840.69,740.76 1849.75,740.76 1849.75,775.30 1859.00,775.30 1859.00,794.78 1868.43,794.78 1868.43,782.32 1878.05,782.32 1878.05,810.97 1887.86,810.97 1887.86,826.07 1897.88,826.07 1897.88,826.07 1908.09,826.07 1908.09,820.41 1918.51,820.41 1918.51,816.05 1929.14,816.05 1929.14,809.59 1939.99,809.59 1939.99,810.01 1951.05,810.01 1951.05,810.01 1962.34,810.01 1962.34,797.15 1973.85,797.15 1973.85,824.77 1985.60,824.77 1985.60,826.87 1997.58,826.87 1997.58,826.87 2009.81,826.87 2009.81,826.87 2022.28,826.87 2022.28,825.26 2035.01,825.26 2035.01,822.84 2047.99,822.84 2047.99,814.76 2061.23,814.76 2061.23,809.59 2074.74,809.59 2074.74,817.99 2088.52,817.99 2088.52,805.88 2102.58,805.88 2102.58,782.46 2116.93,782.46 2116.93,776.00 2129.95,776.00 2129.95,793.76 2135.73,793.76" fill="none" stroke="#1c1c94" stroke-width="2.2" stroke-linejoin="round" stroke-linecap="butt" stroke-linejoin="miter"/>
<polyline points="1555.18,825.36 1556.84,825.36 1556.84,826.79 1560.18,826.79 1560.18,826.79 1563.59,826.79 1563.59,826.79 1567.07,826.79 1567.07,826.79 1570.62,826.79 1570.62,826.79 1574.24,826.79 1574.24,826.79 1577.94,826.79 1577.94,826.79 1581.71,826.79 1581.71,826.79 1585.55,826.79 1585.55,826.79 1589.47,826.79 1589.47,826.79 1593.47,826.79 1593.47,826.79 1597.55,826.79 1597.55,826.79 1601.72,826.79 1601.72,826.79 1605.96,826.79 1605.96,826.79 1610.29,826.79 1610.29,826.79 1614.71,826.79 1614.71,826.79 1619.22,826.79 1619.22,826.79 1623.82,826.79 1623.82,826.79 1628.51,826.79 1628.51,826.79 1633.30,826.79 1633.30,826.79 1638.18,826.79 1638.18,826.79 1643.16,826.79 1643.16,826.79 1648.24,826.79 1648.24,826.79 1653.43,826.79 1653.43,826.79 1658.71,826.79 1658.71,826.79 1664.11,826.79 1664.11,826.79 1669.61,826.79 1669.61,826.79 1675.22,826.79 1675.22,826.79 1680.95,826.79 1680.95,826.79 1686.79,826.79 1686.79,819.65 1692.75,819.65 1692.75,809.69 1698.83,809.69 1698.83,815.92 1705.03,815.92 1705.03,814.67 1711.36,814.67 1711.36,809.69 1717.81,809.69 1717.81,778.55 1724.40,778.55 1724.40,761.11 1731.12,761.11 1731.12,798.48 1737.97,798.48 1737.97,779.79 1744.96,779.79 1744.96,744.29 1752.09,744.29 1752.09,760.11 1759.37,760.11 1759.37,760.11 1766.79,760.11 1766.79,802.84 1774.36,802.84 1774.36,823.14 1782.08,823.14 1782.08,815.67 1789.96,815.67 1789.96,818.41 1798.00,818.41 1798.00,824.39 1806.20,824.39 1806.20,826.79 1814.57,826.79 1814.57,826.79 1823.10,826.79 1823.10,826.79 1831.81,826.79 1831.81,816.98 1840.69,816.98 1840.69,812.45 1849.75,812.45 1849.75,819.47 1859.00,819.47 1859.00,823.43 1868.43,823.43 1868.43,820.60 1878.05,820.60 1878.05,824.22 1887.86,824.22 1887.86,826.07 1897.88,826.07 1897.88,826.07 1908.09,826.07 1908.09,826.07 1918.51,826.07 1918.51,826.07 1929.14,826.07 1929.14,824.45 1939.99,824.45 1939.99,787.87 1951.05,787.87 1951.05,798.94 1962.34,798.94 1962.34,820.36 1973.85,820.36 1973.85,826.79 1985.60,826.79 1985.60,826.79 1997.58,826.79 1997.58,826.79 2009.81,826.79 2009.81,826.79 2022.28,826.79 2022.28,826.79 2035.01,826.79 2035.01,826.79 2047.99,826.79 2047.99,825.26 2061.23,825.26 2061.23,825.26 2074.74,825.26 2074.74,826.79 2088.52,826.79 2088.52,826.79 2102.58,826.79 2102.58,819.61 2116.93,819.61 2116.93,816.86 2129.95,816.86 2129.95,820.90 2135.73,820.90" fill="none" stroke="#6495ed" stroke-width="2.2" stroke-linejoin="round" stroke-linecap="butt" stroke-linejoin="miter"/>
<polyline points="1555.18,826.79 1556.84,826.79 1556.84,826.79 1560.18,826.79 1560.18,826.79 1563.59,826.79 1563.59,826.79 1567.07,826.79 1567.07,826.79 1570.62,826.79 1570.62,826.79 1574.24,826.79 1574.24,826.79 1577.94,826.79 1577.94,826.79 1581.71,826.79 1581.71,826.79 1585.55,826.79 1585.55,826.79 1589.47,826.79 1589.47,826.79 1593.47,826.79 1593.47,826.79 1597.55,826.79 1597.55,826.79 1601.72,826.79 1601.72,826.79 1605.96,826.79 1605.96,826.79 1610.29,826.79 1610.29,826.79 1614.71,826.79 1614.71,826.79 1619.22,826.79 1619.22,826.79 1623.82,826.79 1623.82,826.79 1628.51,826.79 1628.51,826.79 1633.30,826.79 1633.30,826.79 1638.18,826.79 1638.18,826.79 1643.16,826.79 1643.16,826.79 1648.24,826.79 1648.24,826.79 1653.43,826.79 1653.43,826.79 1658.71,826.79 1658.71,826.79 1664.11,826.79 1664.11,826.79 1669.61,826.79 1669.61,826.79 1675.22,826.79 1675.22,826.79 1680.95,826.79 1680.95,826.79 1686.79,826.79 1686.79,826.79 1692.75,826.79 1692.75,818.41 1698.83,818.41 1698.83,821.52 1705.03,821.52 1705.03,823.39 1711.36,823.39 1711.36,798.48 1717.81,798.48 1717.81,799.72 1724.40,799.72 1724.40,804.71 1731.12,804.71 1731.12,823.14 1737.97,823.14 1737.97,812.80 1744.96,812.80 1744.96,768.58 1752.09,768.58 1752.09,737.44 1759.37,737.44 1759.37,807.20 1766.79,807.20 1766.79,823.39 1774.36,823.39 1774.36,826.79 1782.08,826.79 1782.08,826.79 1789.96,826.79 1789.96,826.79 1798.00,826.79 1798.00,826.79 1806.20,826.79 1806.20,826.79 1814.57,826.79 1814.57,826.79 1823.10,826.79 1823.10,826.79 1831.81,826.79 1831.81,826.79 1840.69,826.79 1840.69,826.79 1849.75,826.79 1849.75,826.79 1859.00,826.79 1859.00,826.79 1868.43,826.79 1868.43,826.79 1878.05,826.79 1878.05,826.79 1887.86,826.79 1887.86,826.79 1897.88,826.79 1897.88,826.79 1908.09,826.79 1908.09,826.79 1918.51,826.79 1918.51,826.79 1929.14,826.79 1929.14,826.79 1939.99,826.79 1939.99,788.94 1951.05,788.94 1951.05,798.94 1962.34,798.94 1962.34,820.36 1973.85,820.36 1973.85,826.79 1985.60,826.79 1985.60,826.79 1997.58,826.79 1997.58,826.79 2009.81,826.79 2009.81,826.79 2022.28,826.79 2022.28,826.79 2035.01,826.79 2035.01,826.79 2047.99,826.79 2047.99,826.79 2061.23,826.79 2061.23,826.79 2074.74,826.79 2074.74,826.79 2088.52,826.79 2088.52,826.79 2102.58,826.79 2102.58,826.79 2116.93,826.79 2116.93,826.79 2129.95,826.79 2129.95,826.79 2135.73,826.79" fill="none" stroke="#b0c4de" stroke-width="2.2" stroke-linejoin="round" stroke-linecap="butt" stroke-linejoin="miter"/>
<line x1="1527.6" y1="719.60" x2="2164.3" y2="719.60" stroke="#7f7f7f" stroke-width="2" stroke-dasharray="6.9,2.7"/>
</g>
<rect x="1527.6" y="470.5" width="636.7" height="357.0" fill="none" stroke="#222" stroke-width="1.4"/>
<line x1="1554.85" y1="827.5" x2="1554.85" y2="832.5" stroke="#222" stroke-width="1.4"/>
<text x="1554.85" y="848.20" font-size="15" text-anchor="middle">4</text>
<line x1="1635.56" y1="827.5" x2="1635.56" y2="832.5" stroke="#222" stroke-width="1.4"/>
<text x="1635.56" y="848.20" font-size="15" text-anchor="middle">6</text>
<line x1="1716.26" y1="827.5" x2="1716.26" y2="832.5" stroke="#222" stroke-width="1.4"/>
<text x="1716.26" y="848.20" font-size="15" text-anchor="middle">8</text>
<line x1="1796.97" y1="827.5" x2="1796.97" y2="832.5" stroke="#222" stroke-width="1.4"/>
<text x="1796.97" y="848.20" font-size="15" text-anchor="middle">10</text>
<line x1="1877.68" y1="827.5" x2="1877.68" y2="832.5" stroke="#222" stroke-width="1.4"/>
<text x="1877.68" y="848.20" font-size="15" text-anchor="middle">12</text>
<line x1="1958.38" y1="827.5" x2="1958.38" y2="832.5" stroke="#222" stroke-width="1.4"/>
<text x="1958.38" y="848.20" font-size="15" text-anchor="middle">14</text>
<line x1="2039.09" y1="827.5" x2="2039.09" y2="832.5" stroke="#222" stroke-width="1.4"/>
<text x="2039.09" y="848.20" font-size="15" text-anchor="middle">16</text>
<line x1="2119.80" y1="827.5" x2="2119.80" y2="832.5" stroke="#222" stroke-width="1.4"/>
<text x="2119.80" y="848.20" font-size="15" text-anchor="middle">18</text>
<line x1="1522.6" y1="827.50" x2="1527.6" y2="827.50" stroke="#222" stroke-width="1.4"/>
<text x="1518.10" y="832.95" font-size="15" text-anchor="end">0</text>
<line x1="1522.6" y1="756.10" x2="1527.6" y2="756.10" stroke="#222" stroke-width="1.4"/>
<text x="1518.10" y="761.55" font-size="15" text-anchor="end">2</text>
<line x1="1522.6" y1="684.70" x2="1527.6" y2="684.70" stroke="#222" stroke-width="1.4"/>
<text x="1518.10" y="690.15" font-size="15" text-anchor="end">4</text>
<line x1="1522.6" y1="613.30" x2="1527.6" y2="613.30" stroke="#222" stroke-width="1.4"/>
<text x="1518.10" y="618.75" font-size="15" text-anchor="end">6</text>
<line x1="1522.6" y1="541.90" x2="1527.6" y2="541.90" stroke="#222" stroke-width="1.4"/>
<text x="1518.10" y="547.35" font-size="15" text-anchor="end">8</text>
<line x1="1522.6" y1="470.50" x2="1527.6" y2="470.50" stroke="#222" stroke-width="1.4"/>
<text x="1518.10" y="475.95" font-size="15" text-anchor="end">10</text>
<text x="1845.95" y="875.50" font-size="21.2" text-anchor="middle"><tspan font-style="italic">λ</tspan> [<tspan font-style="italic">μ</tspan>m]</text>
<rect x="1994.40" y="476.8" width="163.50" height="95.3" rx="3" fill="#fff" fill-opacity="0.8" stroke="#d6d6d6" stroke-width="1.2"/>
<line x1="1997.80" y1="488.4" x2="2024.90" y2="488.4" stroke="#1c1c94" stroke-width="2.0"/>
<text x="2035.90" y="492.90" font-size="12.15">Diff 100 ppm C<tspan font-size="0.6em" baseline-shift="-1.9" dx="0.8" letter-spacing="1.4">2</tspan>F<tspan font-size="0.6em" baseline-shift="-1.9" dx="0.8" letter-spacing="1.4">6</tspan></text>
<line x1="1997.80" y1="512.1" x2="2024.90" y2="512.1" stroke="#6495ed" stroke-width="2.0"/>
<text x="2035.90" y="516.60" font-size="12.15">Diff 10 ppm C<tspan font-size="0.6em" baseline-shift="-1.9" dx="0.8" letter-spacing="1.4">2</tspan>F<tspan font-size="0.6em" baseline-shift="-1.9" dx="0.8" letter-spacing="1.4">6</tspan></text>
<line x1="1997.80" y1="535.8" x2="2024.90" y2="535.8" stroke="#b0c4de" stroke-width="2.0"/>
<text x="2035.90" y="540.30" font-size="12.15">Diff 1 ppm C<tspan font-size="0.6em" baseline-shift="-1.9" dx="0.8" letter-spacing="1.4">2</tspan>F<tspan font-size="0.6em" baseline-shift="-1.9" dx="0.8" letter-spacing="1.4">6</tspan></text>
<line x1="1997.80" y1="559.4" x2="2024.90" y2="559.4" stroke="#7f7f7f" stroke-width="2" stroke-dasharray="6.9,2.7"/>
<text x="2035.90" y="563.90" font-size="12.15">3 <tspan font-style="italic">σ</tspan></text>
<text transform="translate(1483.00 650.30) rotate(-90)" font-size="21.2" text-anchor="middle">(<tspan font-style="italic">F</tspan><tspan font-size="0.7em" font-style="italic" baseline-shift="-0.25em">wo</tspan> − <tspan font-style="italic">F</tspan><tspan font-size="0.7em" font-style="italic" baseline-shift="-0.25em">with</tspan>)/<tspan font-style="italic">σ</tspan></text>
</svg>
</body></html>
